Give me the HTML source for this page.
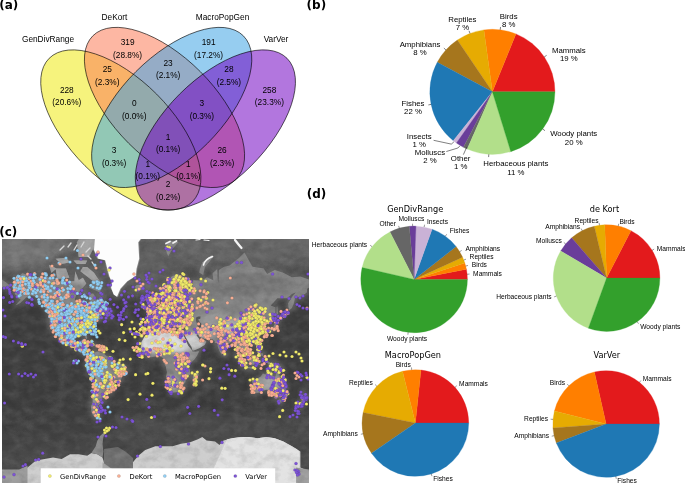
<!DOCTYPE html>
<html><head><meta charset="utf-8"><title>Figure</title>
<style>
html,body{margin:0;padding:0;background:#fff}
svg{display:block}
text{font-family:"Liberation Sans",sans-serif;fill:#000}
.dj{font-family:"DejaVu Sans",sans-serif}
.pl{font-family:"DejaVu Sans",sans-serif;font-weight:bold;font-size:12px}
</style></head><body>
<svg width="685" height="484" viewBox="0 0 685 484">
<rect width="685" height="484" fill="#fff"/>
<g id="venn">
<ellipse cx="120.81" cy="129.97" rx="50.66" ry="101.32" transform="rotate(-45 120.81 129.97)" fill="#efe913" fill-opacity="0.55"/>
<ellipse cx="164.50" cy="107.46" rx="50.66" ry="101.32" transform="rotate(-45 164.50 107.46)" fill="#fb7c58" fill-opacity="0.55"/>
<ellipse cx="171.70" cy="107.46" rx="50.66" ry="101.32" transform="rotate(45 171.70 107.46)" fill="#40a4e4" fill-opacity="0.55"/>
<ellipse cx="215.38" cy="129.97" rx="50.66" ry="101.32" transform="rotate(45 215.38 129.97)" fill="#7306c3" fill-opacity="0.55"/>
<ellipse cx="120.81" cy="129.97" rx="50.66" ry="101.32" transform="rotate(-45 120.81 129.97)" fill="none" stroke="#000" stroke-width="0.6"/>
<ellipse cx="164.50" cy="107.46" rx="50.66" ry="101.32" transform="rotate(-45 164.50 107.46)" fill="none" stroke="#000" stroke-width="0.6"/>
<ellipse cx="171.70" cy="107.46" rx="50.66" ry="101.32" transform="rotate(45 171.70 107.46)" fill="none" stroke="#000" stroke-width="0.6"/>
<ellipse cx="215.38" cy="129.97" rx="50.66" ry="101.32" transform="rotate(45 215.38 129.97)" fill="none" stroke="#000" stroke-width="0.6"/>
<text x="66.8" y="92.6" font-size="8.3" text-anchor="middle">228</text>
<text x="66.8" y="105.0" font-size="8.3" text-anchor="middle">(20.6%)</text>
<text x="127.6" y="45.3" font-size="8.3" text-anchor="middle">319</text>
<text x="127.6" y="57.7" font-size="8.3" text-anchor="middle">(28.8%)</text>
<text x="208.6" y="45.3" font-size="8.3" text-anchor="middle">191</text>
<text x="208.6" y="57.7" font-size="8.3" text-anchor="middle">(17.2%)</text>
<text x="269.4" y="92.6" font-size="8.3" text-anchor="middle">258</text>
<text x="269.4" y="105.0" font-size="8.3" text-anchor="middle">(23.3%)</text>
<text x="107.3" y="72.3" font-size="8.3" text-anchor="middle">25</text>
<text x="107.3" y="84.7" font-size="8.3" text-anchor="middle">(2.3%)</text>
<text x="168.1" y="65.6" font-size="8.3" text-anchor="middle">23</text>
<text x="168.1" y="78.0" font-size="8.3" text-anchor="middle">(2.1%)</text>
<text x="228.9" y="72.3" font-size="8.3" text-anchor="middle">28</text>
<text x="228.9" y="84.7" font-size="8.3" text-anchor="middle">(2.5%)</text>
<text x="114.1" y="153.4" font-size="8.3" text-anchor="middle">3</text>
<text x="114.1" y="165.8" font-size="8.3" text-anchor="middle">(0.3%)</text>
<text x="222.1" y="153.4" font-size="8.3" text-anchor="middle">26</text>
<text x="222.1" y="165.8" font-size="8.3" text-anchor="middle">(2.3%)</text>
<text x="168.1" y="187.2" font-size="8.3" text-anchor="middle">2</text>
<text x="168.1" y="199.6" font-size="8.3" text-anchor="middle">(0.2%)</text>
<text x="134.3" y="106.1" font-size="8.3" text-anchor="middle">0</text>
<text x="134.3" y="118.5" font-size="8.3" text-anchor="middle">(0.0%)</text>
<text x="201.9" y="106.1" font-size="8.3" text-anchor="middle">3</text>
<text x="201.9" y="118.5" font-size="8.3" text-anchor="middle">(0.3%)</text>
<text x="147.8" y="166.9" font-size="8.3" text-anchor="middle">1</text>
<text x="147.8" y="179.3" font-size="8.3" text-anchor="middle">(0.1%)</text>
<text x="188.4" y="166.9" font-size="8.3" text-anchor="middle">1</text>
<text x="188.4" y="179.3" font-size="8.3" text-anchor="middle">(0.1%)</text>
<text x="168.1" y="139.9" font-size="8.3" text-anchor="middle">1</text>
<text x="168.1" y="152.3" font-size="8.3" text-anchor="middle">(0.1%)</text>
<text x="48.0" y="42.0" font-size="8.3" text-anchor="middle">GenDivRange</text>
<text x="114.5" y="19.8" font-size="8.3" text-anchor="middle">DeKort</text>
<text x="222.5" y="19.8" font-size="8.3" text-anchor="middle">MacroPopGen</text>
<text x="276.0" y="42.0" font-size="8.3" text-anchor="middle">VarVer</text>
</g>
<text class="pl" x="-0.8" y="8.8">(a)</text>
<text class="pl" x="306.6" y="8.9">(b)</text>
<text class="pl" x="-0.8" y="235.5">(c)</text>
<text class="pl" x="306.8" y="197.6">(d)</text>
<g id="pieb" font-size="7.8">
<path d="M492.40 91.85 L554.95 91.85 A62.55 62.55 0 0 0 515.93 33.90 Z" fill="#e31a1c" stroke="#e31a1c" stroke-width="0.3"/>
<path d="M492.40 91.85 L515.93 33.90 A62.55 62.55 0 0 0 483.91 29.88 Z" fill="#ff7f00" stroke="#ff7f00" stroke-width="0.3"/>
<path d="M492.40 91.85 L483.91 29.88 A62.55 62.55 0 0 0 457.33 40.05 Z" fill="#e6ab02" stroke="#e6ab02" stroke-width="0.3"/>
<path d="M492.40 91.85 L457.33 40.05 A62.55 62.55 0 0 0 437.27 62.29 Z" fill="#a6761d" stroke="#a6761d" stroke-width="0.3"/>
<path d="M492.40 91.85 L437.27 62.29 A62.55 62.55 0 0 0 453.29 140.67 Z" fill="#1f78b4" stroke="#1f78b4" stroke-width="0.3"/>
<path d="M492.40 91.85 L453.29 140.67 A62.55 62.55 0 0 0 456.43 143.03 Z" fill="#cab2d6" stroke="#cab2d6" stroke-width="0.3"/>
<path d="M492.40 91.85 L456.43 143.03 A62.55 62.55 0 0 0 463.42 147.28 Z" fill="#6a3d9a" stroke="#6a3d9a" stroke-width="0.3"/>
<path d="M492.40 91.85 L463.42 147.28 A62.55 62.55 0 0 0 467.26 149.12 Z" fill="#666666" stroke="#666666" stroke-width="0.3"/>
<path d="M492.40 91.85 L467.26 149.12 A62.55 62.55 0 0 0 510.79 151.63 Z" fill="#b2df8a" stroke="#b2df8a" stroke-width="0.3"/>
<path d="M492.40 91.85 L510.79 151.63 A62.55 62.55 0 0 0 554.95 91.85 Z" fill="#33a02c" stroke="#33a02c" stroke-width="0.3"/>
<path d="M544.29 56.92 L546.61 55.35" stroke="#000" stroke-width="0.50" fill="none"/>
<path d="M500.19 29.79 L500.53 27.01" stroke="#000" stroke-width="0.50" fill="none"/>
<path d="M470.04 33.44 L469.03 30.82" stroke="#000" stroke-width="0.50" fill="none"/>
<path d="M445.95 49.96 L443.87 48.08" stroke="#000" stroke-width="0.50" fill="none"/>
<path d="M431.12 104.37 L428.37 104.93" stroke="#000" stroke-width="0.50" fill="none"/>
<path d="M488.80 154.30 L488.64 157.09" stroke="#000" stroke-width="0.50" fill="none"/>
<path d="M542.71 129.01 L544.97 130.68" stroke="#000" stroke-width="0.50" fill="none"/>
<path d="M433.60 140.30 L451.30 144.10 L453.90 141.90" stroke="#000" stroke-width="0.50" fill="none"/>
<path d="M446.30 151.50 L457.90 148.00 L460.00 145.80" stroke="#000" stroke-width="0.50" fill="none"/>
<path d="M463.40 154.60 L466.60 147.40" stroke="#000" stroke-width="0.50" fill="none"/>
<text x="568.8" y="52.5" text-anchor="middle">Mammals</text>
<text x="568.8" y="60.5" text-anchor="middle">19 %</text>
<text x="508.7" y="18.6" text-anchor="middle">Birds</text>
<text x="508.7" y="27.1" text-anchor="middle">8 %</text>
<text x="462.4" y="21.7" text-anchor="middle">Reptiles</text>
<text x="462.4" y="30.2" text-anchor="middle">7 %</text>
<text x="420.0" y="46.6" text-anchor="middle">Amphibians</text>
<text x="420.0" y="55.1" text-anchor="middle">8 %</text>
<text x="413.0" y="105.9" text-anchor="middle">Fishes</text>
<text x="413.0" y="113.9" text-anchor="middle">22 %</text>
<text x="419.2" y="139.3" text-anchor="middle">Insects</text>
<text x="419.2" y="147.3" text-anchor="middle">1 %</text>
<text x="429.9" y="155.3" text-anchor="middle">Molluscs</text>
<text x="429.9" y="163.3" text-anchor="middle">2 %</text>
<text x="460.6" y="161.1" text-anchor="middle">Other</text>
<text x="460.6" y="169.1" text-anchor="middle">1 %</text>
<text x="515.8" y="166.4" text-anchor="middle">Herbaceous plants</text>
<text x="515.8" y="174.5" text-anchor="middle">11 %</text>
<text x="573.7" y="136.2" text-anchor="middle">Woody plants</text>
<text x="573.7" y="145.1" text-anchor="middle">20 %</text>
</g>
<g id="pied" font-size="6.65">
<path d="M414.10 279.40 L467.40 279.40 A53.30 53.30 0 0 0 466.42 269.23 Z" fill="#e31a1c" stroke="#e31a1c" stroke-width="0.3"/>
<path d="M414.10 279.40 L466.42 269.23 A53.30 53.30 0 0 0 464.79 262.93 Z" fill="#ff7f00" stroke="#ff7f00" stroke-width="0.3"/>
<path d="M414.10 279.40 L464.79 262.93 A53.30 53.30 0 0 0 462.56 257.21 Z" fill="#e6ab02" stroke="#e6ab02" stroke-width="0.3"/>
<path d="M414.10 279.40 L462.56 257.21 A53.30 53.30 0 0 0 456.10 246.59 Z" fill="#a6761d" stroke="#a6761d" stroke-width="0.3"/>
<path d="M414.10 279.40 L456.10 246.59 A53.30 53.30 0 0 0 432.07 229.22 Z" fill="#1f78b4" stroke="#1f78b4" stroke-width="0.3"/>
<path d="M414.10 279.40 L432.07 229.22 A53.30 53.30 0 0 0 415.96 226.13 Z" fill="#cab2d6" stroke="#cab2d6" stroke-width="0.3"/>
<path d="M414.10 279.40 L415.96 226.13 A53.30 53.30 0 0 0 409.27 226.32 Z" fill="#6a3d9a" stroke="#6a3d9a" stroke-width="0.3"/>
<path d="M414.10 279.40 L409.27 226.32 A53.30 53.30 0 0 0 389.90 231.91 Z" fill="#666666" stroke="#666666" stroke-width="0.3"/>
<path d="M414.10 279.40 L389.90 231.91 A53.30 53.30 0 0 0 362.12 267.59 Z" fill="#b2df8a" stroke="#b2df8a" stroke-width="0.3"/>
<path d="M414.10 279.40 L362.12 267.59 A53.30 53.30 0 1 0 467.40 279.40 Z" fill="#33a02c" stroke="#33a02c" stroke-width="0.3"/>
<text class="dj" x="415.2" y="211.8" font-size="8.2" text-anchor="middle">GenDivRange</text>
<path d="M467.15 274.29 L469.54 274.06" stroke="#000" stroke-width="0.40" fill="none"/>
<path d="M465.70 266.05 L468.03 265.45" stroke="#000" stroke-width="0.40" fill="none"/>
<path d="M463.76 260.04 L466.00 259.17" stroke="#000" stroke-width="0.40" fill="none"/>
<path d="M459.64 251.71 L461.69 250.46" stroke="#000" stroke-width="0.40" fill="none"/>
<path d="M445.32 236.20 L446.72 234.25" stroke="#000" stroke-width="0.40" fill="none"/>
<path d="M424.13 227.05 L424.58 224.70" stroke="#000" stroke-width="0.40" fill="none"/>
<path d="M412.61 226.12 L412.54 223.72" stroke="#000" stroke-width="0.40" fill="none"/>
<path d="M399.32 228.19 L398.65 225.88" stroke="#000" stroke-width="0.40" fill="none"/>
<path d="M372.04 246.66 L370.15 245.18" stroke="#000" stroke-width="0.40" fill="none"/>
<path d="M408.16 332.37 L407.89 334.75" stroke="#000" stroke-width="0.40" fill="none"/>
<text x="411.4" y="221.0" text-anchor="middle">Molluscs</text>
<text x="396.0" y="225.8" text-anchor="end">Other</text>
<text x="427.0" y="223.9" text-anchor="start">Insects</text>
<text x="449.8" y="232.8" text-anchor="start">Fishes</text>
<text x="465.4" y="250.8" text-anchor="start">Amphibians</text>
<text x="469.6" y="259.1" text-anchor="start">Reptiles</text>
<text x="471.8" y="267.4" text-anchor="start">Birds</text>
<text x="473.1" y="276.4" text-anchor="start">Mammals</text>
<text x="367.2" y="246.6" text-anchor="end">Herbaceous plants</text>
<text x="407.0" y="340.7" text-anchor="middle">Woody plants</text>
<path d="M606.60 278.10 L659.90 278.10 A53.30 53.30 0 0 0 630.96 230.69 Z" fill="#e31a1c" stroke="#e31a1c" stroke-width="0.3"/>
<path d="M606.60 278.10 L630.96 230.69 A53.30 53.30 0 0 0 604.74 224.83 Z" fill="#ff7f00" stroke="#ff7f00" stroke-width="0.3"/>
<path d="M606.60 278.10 L604.74 224.83 A53.30 53.30 0 0 0 594.25 226.25 Z" fill="#e6ab02" stroke="#e6ab02" stroke-width="0.3"/>
<path d="M606.60 278.10 L594.25 226.25 A53.30 53.30 0 0 0 571.63 237.87 Z" fill="#a6761d" stroke="#a6761d" stroke-width="0.3"/>
<path d="M606.60 278.10 L571.63 237.87 A53.30 53.30 0 0 0 560.72 250.97 Z" fill="#6a3d9a" stroke="#6a3d9a" stroke-width="0.3"/>
<path d="M606.60 278.10 L560.72 250.97 A53.30 53.30 0 0 0 588.37 328.19 Z" fill="#b2df8a" stroke="#b2df8a" stroke-width="0.3"/>
<path d="M606.60 278.10 L588.37 328.19 A53.30 53.30 0 0 0 659.90 278.10 Z" fill="#33a02c" stroke="#33a02c" stroke-width="0.3"/>
<text class="dj" x="604.4" y="212.4" font-size="8.2" text-anchor="middle">de Kort</text>
<path d="M652.09 250.33 L654.14 249.08" stroke="#000" stroke-width="0.40" fill="none"/>
<path d="M618.23 226.08 L618.75 223.74" stroke="#000" stroke-width="0.40" fill="none"/>
<path d="M599.46 225.28 L599.14 222.90" stroke="#000" stroke-width="0.40" fill="none"/>
<path d="M582.24 230.69 L581.14 228.56" stroke="#000" stroke-width="0.40" fill="none"/>
<path d="M565.65 243.98 L563.81 242.45" stroke="#000" stroke-width="0.40" fill="none"/>
<path d="M556.42 296.07 L554.16 296.88" stroke="#000" stroke-width="0.40" fill="none"/>
<path d="M637.17 321.76 L638.55 323.73" stroke="#000" stroke-width="0.40" fill="none"/>
<text x="598.6" y="222.6" text-anchor="end">Reptiles</text>
<text x="619.4" y="224.2" text-anchor="start">Birds</text>
<text x="580.0" y="228.7" text-anchor="end">Amphibians</text>
<text x="561.8" y="243.4" text-anchor="end">Molluscs</text>
<text x="656.8" y="250.8" text-anchor="start">Mammals</text>
<text x="551.6" y="299.4" text-anchor="end">Herbaceous plants</text>
<text x="640.2" y="328.5" text-anchor="start">Woody plants</text>
<path d="M415.40 423.00 L468.70 423.00 A53.30 53.30 0 0 0 420.97 369.99 Z" fill="#e31a1c" stroke="#e31a1c" stroke-width="0.3"/>
<path d="M415.40 423.00 L420.97 369.99 A53.30 53.30 0 0 0 402.51 371.28 Z" fill="#ff7f00" stroke="#ff7f00" stroke-width="0.3"/>
<path d="M415.40 423.00 L402.51 371.28 A53.30 53.30 0 0 0 363.13 412.56 Z" fill="#e6ab02" stroke="#e6ab02" stroke-width="0.3"/>
<path d="M415.40 423.00 L363.13 412.56 A53.30 53.30 0 0 0 371.53 453.27 Z" fill="#a6761d" stroke="#a6761d" stroke-width="0.3"/>
<path d="M415.40 423.00 L371.53 453.27 A53.30 53.30 0 0 0 468.70 423.00 Z" fill="#1f78b4" stroke="#1f78b4" stroke-width="0.3"/>
<text class="dj" x="412.9" y="358.1" font-size="8.2" text-anchor="middle">MacroPopGen</text>
<path d="M455.01 387.34 L456.79 385.73" stroke="#000" stroke-width="0.40" fill="none"/>
<path d="M411.68 369.83 L411.51 367.44" stroke="#000" stroke-width="0.40" fill="none"/>
<path d="M376.83 386.21 L375.10 384.55" stroke="#000" stroke-width="0.40" fill="none"/>
<path d="M363.20 433.76 L360.85 434.25" stroke="#000" stroke-width="0.40" fill="none"/>
<path d="M431.25 473.89 L431.96 476.18" stroke="#000" stroke-width="0.40" fill="none"/>
<text x="410.8" y="367.4" text-anchor="end">Birds</text>
<text x="459.1" y="386.4" text-anchor="start">Mammals</text>
<text x="372.9" y="384.6" text-anchor="end">Reptiles</text>
<text x="357.8" y="436.3" text-anchor="end">Amphibians</text>
<text x="433.2" y="480.9" text-anchor="start">Fishes</text>
<path d="M606.10 424.00 L659.40 424.00 A53.30 53.30 0 0 0 594.38 372.00 Z" fill="#e31a1c" stroke="#e31a1c" stroke-width="0.3"/>
<path d="M606.10 424.00 L594.38 372.00 A53.30 53.30 0 0 0 554.43 410.93 Z" fill="#ff7f00" stroke="#ff7f00" stroke-width="0.3"/>
<path d="M606.10 424.00 L554.43 410.93 A53.30 53.30 0 0 0 552.95 428.00 Z" fill="#e6ab02" stroke="#e6ab02" stroke-width="0.3"/>
<path d="M606.10 424.00 L552.95 428.00 A53.30 53.30 0 0 0 556.34 443.10 Z" fill="#a6761d" stroke="#a6761d" stroke-width="0.3"/>
<path d="M606.10 424.00 L556.34 443.10 A53.30 53.30 0 0 0 659.40 424.00 Z" fill="#1f78b4" stroke="#1f78b4" stroke-width="0.3"/>
<text class="dj" x="606.8" y="358.1" font-size="8.2" text-anchor="middle">VarVer</text>
<path d="M639.39 382.37 L640.89 380.50" stroke="#000" stroke-width="0.40" fill="none"/>
<path d="M568.91 385.82 L567.23 384.10" stroke="#000" stroke-width="0.40" fill="none"/>
<path d="M553.00 419.40 L550.61 419.19" stroke="#000" stroke-width="0.40" fill="none"/>
<path d="M554.09 435.67 L551.75 436.20" stroke="#000" stroke-width="0.40" fill="none"/>
<path d="M615.81 476.41 L616.25 478.77" stroke="#000" stroke-width="0.40" fill="none"/>
<text x="642.8" y="380.6" text-anchor="start">Mammals</text>
<text x="565.0" y="384.6" text-anchor="end">Birds</text>
<text x="548.1" y="420.6" text-anchor="end">Reptiles</text>
<text x="549.0" y="438.4" text-anchor="end">Amphibians</text>
<text x="617.3" y="483.4" text-anchor="start">Fishes</text>
</g>
<defs><clipPath id="mc"><rect x="1.9" y="239.0" width="307.0" height="244.0"/></clipPath>
<filter id="b1" x="-5%" y="-5%" width="110%" height="110%"><feGaussianBlur stdDeviation="0.6"/></filter>
<filter id="b3" x="-30%" y="-30%" width="160%" height="160%"><feGaussianBlur stdDeviation="6"/></filter>
<filter id="tx" x="0" y="0" width="100%" height="100%"><feTurbulence type="fractalNoise" baseFrequency="0.09 0.12" numOctaves="4" seed="11"/><feColorMatrix type="matrix" values="0 0 0 0 1  0 0 0 0 1  0 0 0 0 1  1.6 0 0 0 -0.62"/></filter>
<filter id="tx2" x="0" y="0" width="100%" height="100%"><feTurbulence type="fractalNoise" baseFrequency="0.1 0.13" numOctaves="4" seed="5"/><feColorMatrix type="matrix" values="0 0 0 0 0  0 0 0 0 0  0 0 0 0 0  1.6 0 0 0 -0.62"/></filter>
<filter id="b2" x="-20%" y="-20%" width="140%" height="140%"><feGaussianBlur stdDeviation="2.2"/></filter>
<clipPath id="lc">
<path d="M12.1 286.7 L13.8 280.2 L22.4 273.2 L35.2 277.0 L46.2 276.5 L57.3 281.3 L63.3 281.3 L74.4 281.3 L75.2 271.3 L78.7 280.2 L82.9 277.8 L86.3 283.5 L81.2 289.7 L76.1 295.3 L74.8 299.5 L80.4 302.7 L85.5 305.0 L85.5 308.6 L88.0 310.0 L88.0 305.0 L89.7 300.3 L88.9 293.5 L93.1 293.5 L95.7 297.0 L95.7 299.5 L98.3 299.5 L100.4 296.5 L103.4 303.5 L107.6 308.6 L104.2 312.0 L99.1 312.0 L95.7 315.8 L100.0 313.9 L100.4 317.1 L103.4 317.1 L99.1 319.5 L95.7 320.1 L95.3 322.2 L92.3 323.5 L91.0 326.8 L90.6 329.5 L86.3 333.0 L87.2 337.9 L86.3 339.4 L84.9 336.5 L83.8 334.5 L79.1 334.5 L75.2 335.0 L72.4 337.5 L72.1 341.7 L73.5 344.9 L74.8 345.6 L77.8 345.1 L78.4 343.1 L81.2 342.6 L80.4 347.6 L84.2 348.3 L84.2 352.0 L85.5 353.7 L87.6 353.3 L89.5 354.1 L89.3 355.0 L87.2 355.2 L84.6 354.3 L82.5 352.8 L80.8 350.2 L77.4 349.3 L74.8 347.4 L71.0 346.9 L65.9 344.4 L65.4 341.7 L62.4 338.9 L59.5 335.5 L57.6 333.0 L59.9 337.5 L62.0 341.0 L59.9 338.4 L57.3 335.0 L55.6 332.0 L52.6 330.0 L51.4 327.4 L49.7 323.8 L49.7 317.1 L50.5 313.9 L47.1 311.3 L44.5 305.7 L41.1 300.3 L36.0 297.0 L30.9 295.3 L25.8 297.8 L20.7 302.7 L15.5 305.4 L20.7 299.5 L17.3 297.8 L14.7 293.5 L18.1 289.7 L14.7 288.7Z"/>
<path d="M87.2 267.0 L94.0 272.7 L97.4 277.8 L102.5 284.6 L100.0 292.6 L94.0 289.7 L88.9 287.7 L93.1 281.3 L87.2 276.5 L80.4 271.3 L82.9 267.0Z"/>
<path d="M55.6 268.5 L65.9 268.5 L69.3 277.8 L57.3 279.0Z"/>
<path d="M78.7 257.0 L88.9 257.0 L102.5 231.3 L87.2 224.8 L76.9 242.3Z"/>
<path d="M48.8 264.8 L56.5 268.5 L51.4 272.7Z"/>
<path d="M73.5 260.6 L87.2 260.6 L85.5 263.9 L76.9 263.9Z"/>
<path d="M55.6 258.8 L65.9 257.8 L70.1 262.3 L61.6 263.9Z"/>
<path d="M105.1 315.0 L107.6 310.0 L110.2 313.9 L110.2 316.2 L107.6 315.8Z"/>
<path d="M82.9 342.1 L87.2 341.2 L92.1 343.8 L89.3 344.1 L88.9 342.6 L85.5 341.9Z"/>
<path d="M92.0 345.4 L93.1 344.1 L97.0 345.1 L96.8 345.6 L94.4 346.0Z"/>
<path d="M93.1 249.1 L97.4 258.8 L104.2 258.8 L108.5 276.5 L111.9 281.3 L110.2 287.7 L114.5 295.3 L117.9 297.3 L121.3 288.7 L128.1 281.3 L136.6 276.0 L137.5 268.5 L140.1 258.8 L139.2 242.3 L145.2 234.3 L134.1 222.6 L117.0 228.1 L99.1 224.8 L94.9 238.7Z"/>
<path d="M89.5 354.1 L91.4 352.1 L94.0 351.1 L94.4 352.4 L97.4 351.5 L100.8 352.4 L102.5 352.2 L104.2 354.1 L106.8 356.3 L111.1 357.1 L112.8 360.5 L112.8 362.3 L117.9 363.5 L121.3 364.0 L123.9 365.7 L125.6 367.8 L123.9 371.3 L122.1 373.5 L122.1 377.0 L120.4 380.7 L117.5 381.8 L114.0 384.4 L113.9 386.8 L111.1 390.8 L109.4 393.0 L106.8 392.8 L105.7 392.3 L106.8 394.9 L106.2 396.7 L102.5 397.6 L102.1 399.8 L100.0 399.8 L101.1 401.9 L99.5 404.5 L97.8 405.7 L99.3 407.6 L96.6 411.5 L97.2 414.2 L99.5 417.5 L96.6 418.6 L94.0 416.4 L91.4 412.2 L91.0 407.0 L92.7 402.1 L92.6 395.4 L94.4 389.3 L95.3 382.5 L95.5 377.3 L90.6 373.5 L88.0 368.3 L86.1 365.7 L87.2 363.5 L86.5 362.3 L88.0 360.1 L89.3 358.0 L89.3 355.4Z"/>
<path d="M140.5 348.7 L141.3 344.4 L140.9 343.1 L144.3 337.0 L147.1 334.5 L147.3 332.0 L150.3 328.6 L153.7 329.3 L158.0 327.6 L163.9 327.0 L164.8 330.5 L164.2 330.8 L168.2 332.2 L172.5 333.7 L172.5 331.8 L176.7 332.8 L182.7 333.3 L184.7 333.2 L183.2 334.6 L185.7 340.3 L187.2 343.5 L188.2 345.8 L192.2 350.5 L192.3 351.5 L195.5 351.8 L199.1 351.3 L197.2 355.4 L194.6 359.3 L190.8 362.9 L188.8 366.5 L189.9 370.4 L190.0 374.4 L186.1 377.9 L185.3 382.5 L183.4 384.4 L183.1 386.8 L181.4 389.3 L178.4 392.0 L174.2 392.5 L171.0 392.6 L170.6 390.8 L168.2 384.9 L166.1 377.0 L166.9 372.2 L165.6 366.1 L163.3 362.3 L163.5 358.4 L162.2 357.6 L159.2 356.0 L156.3 356.3 L152.8 357.1 L149.0 357.6 L144.7 355.0 L142.6 352.2Z"/>
<path d="M197.4 371.7 L198.5 374.8 L195.9 383.3 L193.8 383.9 L192.5 380.7 L193.2 376.1 L195.5 374.4Z"/>
<path d="M147.3 325.5 L147.9 320.4 L153.9 320.2 L154.4 317.1 L151.4 314.1 L154.1 313.7 L155.6 312.6 L156.8 310.8 L158.8 309.3 L159.7 307.4 L162.7 306.7 L162.5 301.9 L164.4 300.8 L164.4 304.2 L166.1 306.0 L167.6 306.4 L171.2 305.4 L173.3 304.2 L173.5 301.9 L176.1 301.1 L175.4 298.2 L179.3 297.7 L181.0 297.0 L176.7 296.7 L174.6 297.0 L173.6 295.3 L173.7 291.6 L177.0 287.5 L174.2 286.3 L173.3 289.7 L170.3 293.5 L170.1 295.8 L171.4 297.3 L169.5 301.1 L169.0 303.1 L167.6 304.2 L166.3 304.2 L165.0 299.5 L164.4 297.8 L162.2 300.2 L160.1 298.7 L159.7 293.5 L162.7 290.3 L165.6 286.7 L167.8 281.3 L171.6 276.5 L177.3 274.0 L181.8 275.8 L183.5 277.8 L190.4 283.1 L189.5 285.7 L184.8 284.6 L183.5 284.2 L185.3 289.1 L187.4 290.1 L189.5 288.5 L192.9 285.3 L193.1 280.2 L201.5 280.6 L207.0 277.3 L213.4 280.2 L212.5 273.2 L217.2 269.0 L217.7 280.2 L218.5 283.5 L218.9 269.9 L224.1 266.7 L229.6 265.4 L239.0 258.1 L244.4 252.5 L251.8 265.4 L252.6 266.7 L263.7 268.5 L267.1 274.0 L274.8 269.9 L283.3 272.7 L291.9 277.3 L300.4 276.5 L308.9 279.4 L308.9 287.7 L307.2 288.7 L306.8 292.6 L300.8 297.0 L295.3 297.3 L294.4 300.6 L294.0 303.1 L291.9 307.9 L289.1 310.6 L288.0 303.5 L292.7 296.1 L295.7 292.6 L291.9 294.0 L287.6 298.2 L277.4 298.2 L270.8 305.4 L275.6 307.4 L275.2 313.9 L270.5 320.3 L267.8 320.7 L266.0 322.4 L264.1 324.3 L265.7 327.4 L265.7 329.2 L263.1 330.0 L263.5 326.6 L262.0 324.5 L259.0 325.2 L259.4 323.3 L256.0 325.0 L256.9 326.8 L259.9 327.2 L257.1 329.5 L259.3 333.0 L259.3 335.0 L257.3 338.9 L254.8 341.2 L252.2 341.9 L249.5 342.8 L247.5 342.5 L245.6 344.9 L248.2 348.2 L248.6 351.1 L246.5 352.4 L244.9 353.9 L244.8 352.6 L242.8 350.9 L241.5 349.9 L240.1 353.3 L241.1 355.4 L243.6 358.0 L244.3 360.2 L241.8 359.0 L240.9 356.3 L239.2 354.4 L239.5 351.1 L238.6 347.1 L235.8 347.6 L235.8 344.9 L233.9 342.4 L232.6 341.7 L230.5 342.4 L229.4 343.3 L227.9 344.4 L223.8 348.0 L223.9 350.2 L223.5 352.6 L221.9 354.3 L221.5 354.5 L220.4 352.8 L219.2 350.2 L217.7 346.2 L217.5 343.1 L215.8 343.2 L214.2 341.9 L215.4 341.2 L213.0 340.3 L212.1 339.0 L207.9 339.2 L204.3 338.8 L203.4 337.4 L201.9 337.8 L199.3 336.6 L198.0 334.3 L196.8 334.5 L196.3 335.0 L198.2 337.7 L199.3 339.1 L199.2 340.0 L201.5 340.1 L203.4 338.2 L203.7 339.8 L205.5 340.7 L206.4 341.7 L204.7 344.9 L202.5 346.2 L199.9 347.9 L196.9 349.3 L193.8 350.4 L192.5 350.5 L191.8 348.0 L191.6 347.1 L188.7 342.6 L187.1 339.4 L185.3 336.5 L185.2 335.0 L184.7 333.2 L185.3 331.5 L185.9 329.5 L186.1 327.6 L183.5 328.3 L181.5 327.6 L179.3 327.7 L177.8 326.0 L177.7 324.1 L177.6 323.2 L175.7 323.9 L174.8 323.5 L175.0 324.9 L175.9 326.3 L175.0 327.9 L173.7 327.4 L173.3 325.7 L172.0 323.8 L172.0 322.1 L169.5 320.3 L167.8 318.1 L167.1 317.6 L165.9 317.9 L166.1 319.5 L167.3 321.5 L169.0 322.1 L171.2 323.9 L169.9 323.6 L169.5 324.6 L169.9 325.2 L169.0 326.3 L168.8 324.1 L167.6 323.2 L165.9 322.1 L164.4 320.7 L162.9 319.0 L161.8 319.7 L159.7 320.2 L158.1 320.4 L158.1 321.9 L155.8 323.5 L155.1 324.8 L155.4 325.5 L154.8 326.5 L153.5 327.6 L150.9 328.3 L150.0 327.7 L149.1 327.2 L147.8 327.4Z"/>
<path d="M1.9 279.4 L6.2 282.4 L10.4 285.7 L8.3 288.7 L3.6 286.7 L1.9 287.7Z"/>
<path d="M150.7 311.8 L156.5 310.4 L156.9 308.3 L155.7 307.9 L155.2 305.7 L154.0 303.9 L153.7 300.8 L152.4 299.3 L151.1 299.3 L150.3 302.7 L151.3 305.3 L152.8 306.4 L151.6 307.4 L151.8 308.8 L151.0 309.5 L152.8 310.1Z"/>
<path d="M146.9 309.7 L150.1 309.0 L150.3 306.4 L150.6 305.3 L149.0 304.5 L146.9 306.1Z"/>
<path d="M134.9 286.7 L136.6 289.7 L139.2 290.7 L143.0 288.7 L143.5 285.7 L141.3 284.8 L136.6 285.0Z"/>
<path d="M164.8 247.0 L168.2 256.3 L172.5 249.1 L178.4 242.3 L170.8 240.8Z"/>
<path d="M199.3 272.7 L203.2 275.0 L204.9 267.0 L213.4 257.0 L211.7 255.2 L202.3 262.3 L199.7 269.9Z"/>
<path d="M266.4 333.2 L267.5 331.0 L267.0 330.5 L268.4 329.1 L271.4 328.4 L272.2 327.0 L273.5 326.8 L274.8 324.1 L274.8 322.5 L276.1 322.6 L276.5 324.6 L275.6 326.3 L275.5 328.7 L274.6 329.5 L272.2 329.9 L271.2 331.0 L270.5 330.0 L268.0 330.7 L267.8 332.5Z"/>
<path d="M274.8 322.1 L275.1 320.4 L276.2 317.8 L279.3 319.7 L277.5 321.8 L275.6 321.3Z"/>
<path d="M276.5 317.1 L277.8 312.9 L277.4 306.4 L276.5 307.1 L276.5 312.0Z"/>
<path d="M257.9 341.2 L259.0 339.2 L259.3 340.3 L258.4 342.1Z"/>
<path d="M236.7 356.6 L239.0 358.0 L243.7 362.3 L245.8 364.2 L245.6 366.4 L244.1 366.1 L241.5 363.8 L239.4 360.5Z"/>
<path d="M245.2 367.2 L247.9 367.0 L250.1 367.0 L253.0 368.0 L253.0 368.9 L247.5 368.1Z"/>
<path d="M248.4 360.1 L250.3 359.2 L252.2 357.8 L255.0 355.4 L256.9 357.0 L256.0 360.1 L255.6 361.0 L254.6 364.6 L253.0 364.8 L250.5 364.2 L249.2 362.7Z"/>
<path d="M257.3 366.1 L256.9 364.0 L257.7 360.7 L262.0 360.1 L258.6 361.4 L260.3 362.3 L259.0 363.1 L260.3 365.2 L258.2 364.0 L258.1 366.1Z"/>
<path d="M267.1 362.1 L269.7 362.1 L270.5 364.2 L273.1 362.9 L275.6 363.6 L279.1 365.1 L281.2 366.5 L279.9 368.3 L283.8 370.4 L280.8 369.5 L277.8 368.4 L276.5 369.2 L273.5 368.4 L273.1 366.1 L268.8 364.8 L268.0 363.8Z"/>
<path d="M258.0 347.6 L258.3 345.3 L259.6 345.4 L259.4 347.6 L261.2 350.2 L259.0 349.5Z"/>
<path d="M259.4 355.4 L260.7 354.0 L262.4 353.0 L263.3 355.2 L262.3 356.6 L261.2 355.8Z"/>
<path d="M223.5 354.5 L223.8 353.0 L225.2 355.0 L224.5 356.2 L223.6 356.2Z"/>
<path d="M252.2 380.7 L252.8 384.4 L253.5 388.8 L253.9 392.0 L253.5 392.6 L256.0 393.3 L260.7 392.2 L262.9 390.6 L267.1 389.8 L269.7 391.1 L271.2 393.1 L272.9 391.3 L273.3 393.3 L274.8 396.3 L277.8 397.4 L280.2 397.6 L283.2 396.0 L284.4 391.8 L285.9 388.3 L286.1 385.3 L284.2 382.0 L282.3 379.1 L280.1 377.8 L279.3 374.4 L276.9 370.6 L276.1 372.6 L275.6 376.6 L274.4 376.6 L271.4 374.8 L271.8 371.7 L268.4 371.3 L266.3 372.6 L265.4 374.4 L262.9 373.5 L260.7 376.4 L259.6 377.2 L256.9 378.8 L252.6 380.7Z"/>
<path d="M278.8 399.5 L281.8 399.7 L281.6 402.4 L279.9 402.8 L279.2 401.2Z"/>
<path d="M302.7 392.8 L304.5 395.2 L307.6 396.2 L306.3 397.9 L304.9 400.5 L303.8 397.9 L304.4 396.5Z"/>
<path d="M302.7 399.3 L304.0 400.6 L302.8 402.9 L301.0 405.6 L299.1 406.5 L297.4 405.5 L298.9 403.3 L301.2 401.5Z"/>
</clipPath>
<linearGradient id="arc" x1="0" y1="0" x2="0" y2="1"><stop offset="0" stop-color="#787878"/><stop offset="0.5" stop-color="#5c5c5c" stop-opacity="0.8"/><stop offset="1" stop-color="#404040" stop-opacity="0"/></linearGradient>
<linearGradient id="sou" x1="0" y1="0" x2="0" y2="1"><stop offset="0" stop-color="#404040" stop-opacity="0"/><stop offset="0.6" stop-color="#484848"/><stop offset="1" stop-color="#505050"/></linearGradient>
</defs>
<g id="map" clip-path="url(#mc)">
<rect x="0" y="230" width="320" height="254" fill="#3e3e3e"/>
<rect x="0" y="236" width="320" height="62" fill="url(#arc)"/>
<ellipse cx="240" cy="238" rx="75" ry="26" fill="#666" filter="url(#b3)"/>
<ellipse cx="20" cy="240" rx="50" ry="30" fill="#747474" filter="url(#b3)"/>
<ellipse cx="145" cy="268" rx="34" ry="30" fill="#5e5e5e" filter="url(#b3)"/>
<rect x="115" y="418" width="200" height="40" fill="#5a5a5a" filter="url(#b3)"/>
<ellipse cx="85" cy="280" rx="30" ry="30" fill="#5c5c5c" filter="url(#b3)"/>
<rect x="0" y="395" width="320" height="95" fill="url(#sou)"/>
<g filter="url(#b2)" fill="none" stroke="#606060" stroke-width="5" stroke-linejoin="round">
<path d="M12.1 286.7 L13.8 280.2 L22.4 273.2 L35.2 277.0 L46.2 276.5 L57.3 281.3 L63.3 281.3 L74.4 281.3 L75.2 271.3 L78.7 280.2 L82.9 277.8 L86.3 283.5 L81.2 289.7 L76.1 295.3 L74.8 299.5 L80.4 302.7 L85.5 305.0 L85.5 308.6 L88.0 310.0 L88.0 305.0 L89.7 300.3 L88.9 293.5 L93.1 293.5 L95.7 297.0 L95.7 299.5 L98.3 299.5 L100.4 296.5 L103.4 303.5 L107.6 308.6 L104.2 312.0 L99.1 312.0 L95.7 315.8 L100.0 313.9 L100.4 317.1 L103.4 317.1 L99.1 319.5 L95.7 320.1 L95.3 322.2 L92.3 323.5 L91.0 326.8 L90.6 329.5 L86.3 333.0 L87.2 337.9 L86.3 339.4 L84.9 336.5 L83.8 334.5 L79.1 334.5 L75.2 335.0 L72.4 337.5 L72.1 341.7 L73.5 344.9 L74.8 345.6 L77.8 345.1 L78.4 343.1 L81.2 342.6 L80.4 347.6 L84.2 348.3 L84.2 352.0 L85.5 353.7 L87.6 353.3 L89.5 354.1 L89.3 355.0 L87.2 355.2 L84.6 354.3 L82.5 352.8 L80.8 350.2 L77.4 349.3 L74.8 347.4 L71.0 346.9 L65.9 344.4 L65.4 341.7 L62.4 338.9 L59.5 335.5 L57.6 333.0 L59.9 337.5 L62.0 341.0 L59.9 338.4 L57.3 335.0 L55.6 332.0 L52.6 330.0 L51.4 327.4 L49.7 323.8 L49.7 317.1 L50.5 313.9 L47.1 311.3 L44.5 305.7 L41.1 300.3 L36.0 297.0 L30.9 295.3 L25.8 297.8 L20.7 302.7 L15.5 305.4 L20.7 299.5 L17.3 297.8 L14.7 293.5 L18.1 289.7 L14.7 288.7Z"/>
<path d="M87.2 267.0 L94.0 272.7 L97.4 277.8 L102.5 284.6 L100.0 292.6 L94.0 289.7 L88.9 287.7 L93.1 281.3 L87.2 276.5 L80.4 271.3 L82.9 267.0Z"/>
<path d="M55.6 268.5 L65.9 268.5 L69.3 277.8 L57.3 279.0Z"/>
<path d="M78.7 257.0 L88.9 257.0 L102.5 231.3 L87.2 224.8 L76.9 242.3Z"/>
<path d="M48.8 264.8 L56.5 268.5 L51.4 272.7Z"/>
<path d="M73.5 260.6 L87.2 260.6 L85.5 263.9 L76.9 263.9Z"/>
<path d="M55.6 258.8 L65.9 257.8 L70.1 262.3 L61.6 263.9Z"/>
<path d="M105.1 315.0 L107.6 310.0 L110.2 313.9 L110.2 316.2 L107.6 315.8Z"/>
<path d="M82.9 342.1 L87.2 341.2 L92.1 343.8 L89.3 344.1 L88.9 342.6 L85.5 341.9Z"/>
<path d="M92.0 345.4 L93.1 344.1 L97.0 345.1 L96.8 345.6 L94.4 346.0Z"/>
<path d="M93.1 249.1 L97.4 258.8 L104.2 258.8 L108.5 276.5 L111.9 281.3 L110.2 287.7 L114.5 295.3 L117.9 297.3 L121.3 288.7 L128.1 281.3 L136.6 276.0 L137.5 268.5 L140.1 258.8 L139.2 242.3 L145.2 234.3 L134.1 222.6 L117.0 228.1 L99.1 224.8 L94.9 238.7Z"/>
<path d="M89.5 354.1 L91.4 352.1 L94.0 351.1 L94.4 352.4 L97.4 351.5 L100.8 352.4 L102.5 352.2 L104.2 354.1 L106.8 356.3 L111.1 357.1 L112.8 360.5 L112.8 362.3 L117.9 363.5 L121.3 364.0 L123.9 365.7 L125.6 367.8 L123.9 371.3 L122.1 373.5 L122.1 377.0 L120.4 380.7 L117.5 381.8 L114.0 384.4 L113.9 386.8 L111.1 390.8 L109.4 393.0 L106.8 392.8 L105.7 392.3 L106.8 394.9 L106.2 396.7 L102.5 397.6 L102.1 399.8 L100.0 399.8 L101.1 401.9 L99.5 404.5 L97.8 405.7 L99.3 407.6 L96.6 411.5 L97.2 414.2 L99.5 417.5 L96.6 418.6 L94.0 416.4 L91.4 412.2 L91.0 407.0 L92.7 402.1 L92.6 395.4 L94.4 389.3 L95.3 382.5 L95.5 377.3 L90.6 373.5 L88.0 368.3 L86.1 365.7 L87.2 363.5 L86.5 362.3 L88.0 360.1 L89.3 358.0 L89.3 355.4Z"/>
<path d="M140.5 348.7 L141.3 344.4 L140.9 343.1 L144.3 337.0 L147.1 334.5 L147.3 332.0 L150.3 328.6 L153.7 329.3 L158.0 327.6 L163.9 327.0 L164.8 330.5 L164.2 330.8 L168.2 332.2 L172.5 333.7 L172.5 331.8 L176.7 332.8 L182.7 333.3 L184.7 333.2 L183.2 334.6 L185.7 340.3 L187.2 343.5 L188.2 345.8 L192.2 350.5 L192.3 351.5 L195.5 351.8 L199.1 351.3 L197.2 355.4 L194.6 359.3 L190.8 362.9 L188.8 366.5 L189.9 370.4 L190.0 374.4 L186.1 377.9 L185.3 382.5 L183.4 384.4 L183.1 386.8 L181.4 389.3 L178.4 392.0 L174.2 392.5 L171.0 392.6 L170.6 390.8 L168.2 384.9 L166.1 377.0 L166.9 372.2 L165.6 366.1 L163.3 362.3 L163.5 358.4 L162.2 357.6 L159.2 356.0 L156.3 356.3 L152.8 357.1 L149.0 357.6 L144.7 355.0 L142.6 352.2Z"/>
<path d="M197.4 371.7 L198.5 374.8 L195.9 383.3 L193.8 383.9 L192.5 380.7 L193.2 376.1 L195.5 374.4Z"/>
<path d="M147.3 325.5 L147.9 320.4 L153.9 320.2 L154.4 317.1 L151.4 314.1 L154.1 313.7 L155.6 312.6 L156.8 310.8 L158.8 309.3 L159.7 307.4 L162.7 306.7 L162.5 301.9 L164.4 300.8 L164.4 304.2 L166.1 306.0 L167.6 306.4 L171.2 305.4 L173.3 304.2 L173.5 301.9 L176.1 301.1 L175.4 298.2 L179.3 297.7 L181.0 297.0 L176.7 296.7 L174.6 297.0 L173.6 295.3 L173.7 291.6 L177.0 287.5 L174.2 286.3 L173.3 289.7 L170.3 293.5 L170.1 295.8 L171.4 297.3 L169.5 301.1 L169.0 303.1 L167.6 304.2 L166.3 304.2 L165.0 299.5 L164.4 297.8 L162.2 300.2 L160.1 298.7 L159.7 293.5 L162.7 290.3 L165.6 286.7 L167.8 281.3 L171.6 276.5 L177.3 274.0 L181.8 275.8 L183.5 277.8 L190.4 283.1 L189.5 285.7 L184.8 284.6 L183.5 284.2 L185.3 289.1 L187.4 290.1 L189.5 288.5 L192.9 285.3 L193.1 280.2 L201.5 280.6 L207.0 277.3 L213.4 280.2 L212.5 273.2 L217.2 269.0 L217.7 280.2 L218.5 283.5 L218.9 269.9 L224.1 266.7 L229.6 265.4 L239.0 258.1 L244.4 252.5 L251.8 265.4 L252.6 266.7 L263.7 268.5 L267.1 274.0 L274.8 269.9 L283.3 272.7 L291.9 277.3 L300.4 276.5 L308.9 279.4 L308.9 287.7 L307.2 288.7 L306.8 292.6 L300.8 297.0 L295.3 297.3 L294.4 300.6 L294.0 303.1 L291.9 307.9 L289.1 310.6 L288.0 303.5 L292.7 296.1 L295.7 292.6 L291.9 294.0 L287.6 298.2 L277.4 298.2 L270.8 305.4 L275.6 307.4 L275.2 313.9 L270.5 320.3 L267.8 320.7 L266.0 322.4 L264.1 324.3 L265.7 327.4 L265.7 329.2 L263.1 330.0 L263.5 326.6 L262.0 324.5 L259.0 325.2 L259.4 323.3 L256.0 325.0 L256.9 326.8 L259.9 327.2 L257.1 329.5 L259.3 333.0 L259.3 335.0 L257.3 338.9 L254.8 341.2 L252.2 341.9 L249.5 342.8 L247.5 342.5 L245.6 344.9 L248.2 348.2 L248.6 351.1 L246.5 352.4 L244.9 353.9 L244.8 352.6 L242.8 350.9 L241.5 349.9 L240.1 353.3 L241.1 355.4 L243.6 358.0 L244.3 360.2 L241.8 359.0 L240.9 356.3 L239.2 354.4 L239.5 351.1 L238.6 347.1 L235.8 347.6 L235.8 344.9 L233.9 342.4 L232.6 341.7 L230.5 342.4 L229.4 343.3 L227.9 344.4 L223.8 348.0 L223.9 350.2 L223.5 352.6 L221.9 354.3 L221.5 354.5 L220.4 352.8 L219.2 350.2 L217.7 346.2 L217.5 343.1 L215.8 343.2 L214.2 341.9 L215.4 341.2 L213.0 340.3 L212.1 339.0 L207.9 339.2 L204.3 338.8 L203.4 337.4 L201.9 337.8 L199.3 336.6 L198.0 334.3 L196.8 334.5 L196.3 335.0 L198.2 337.7 L199.3 339.1 L199.2 340.0 L201.5 340.1 L203.4 338.2 L203.7 339.8 L205.5 340.7 L206.4 341.7 L204.7 344.9 L202.5 346.2 L199.9 347.9 L196.9 349.3 L193.8 350.4 L192.5 350.5 L191.8 348.0 L191.6 347.1 L188.7 342.6 L187.1 339.4 L185.3 336.5 L185.2 335.0 L184.7 333.2 L185.3 331.5 L185.9 329.5 L186.1 327.6 L183.5 328.3 L181.5 327.6 L179.3 327.7 L177.8 326.0 L177.7 324.1 L177.6 323.2 L175.7 323.9 L174.8 323.5 L175.0 324.9 L175.9 326.3 L175.0 327.9 L173.7 327.4 L173.3 325.7 L172.0 323.8 L172.0 322.1 L169.5 320.3 L167.8 318.1 L167.1 317.6 L165.9 317.9 L166.1 319.5 L167.3 321.5 L169.0 322.1 L171.2 323.9 L169.9 323.6 L169.5 324.6 L169.9 325.2 L169.0 326.3 L168.8 324.1 L167.6 323.2 L165.9 322.1 L164.4 320.7 L162.9 319.0 L161.8 319.7 L159.7 320.2 L158.1 320.4 L158.1 321.9 L155.8 323.5 L155.1 324.8 L155.4 325.5 L154.8 326.5 L153.5 327.6 L150.9 328.3 L150.0 327.7 L149.1 327.2 L147.8 327.4Z"/>
<path d="M1.9 279.4 L6.2 282.4 L10.4 285.7 L8.3 288.7 L3.6 286.7 L1.9 287.7Z"/>
<path d="M150.7 311.8 L156.5 310.4 L156.9 308.3 L155.7 307.9 L155.2 305.7 L154.0 303.9 L153.7 300.8 L152.4 299.3 L151.1 299.3 L150.3 302.7 L151.3 305.3 L152.8 306.4 L151.6 307.4 L151.8 308.8 L151.0 309.5 L152.8 310.1Z"/>
<path d="M146.9 309.7 L150.1 309.0 L150.3 306.4 L150.6 305.3 L149.0 304.5 L146.9 306.1Z"/>
<path d="M134.9 286.7 L136.6 289.7 L139.2 290.7 L143.0 288.7 L143.5 285.7 L141.3 284.8 L136.6 285.0Z"/>
<path d="M164.8 247.0 L168.2 256.3 L172.5 249.1 L178.4 242.3 L170.8 240.8Z"/>
<path d="M199.3 272.7 L203.2 275.0 L204.9 267.0 L213.4 257.0 L211.7 255.2 L202.3 262.3 L199.7 269.9Z"/>
<path d="M266.4 333.2 L267.5 331.0 L267.0 330.5 L268.4 329.1 L271.4 328.4 L272.2 327.0 L273.5 326.8 L274.8 324.1 L274.8 322.5 L276.1 322.6 L276.5 324.6 L275.6 326.3 L275.5 328.7 L274.6 329.5 L272.2 329.9 L271.2 331.0 L270.5 330.0 L268.0 330.7 L267.8 332.5Z"/>
<path d="M274.8 322.1 L275.1 320.4 L276.2 317.8 L279.3 319.7 L277.5 321.8 L275.6 321.3Z"/>
<path d="M276.5 317.1 L277.8 312.9 L277.4 306.4 L276.5 307.1 L276.5 312.0Z"/>
<path d="M257.9 341.2 L259.0 339.2 L259.3 340.3 L258.4 342.1Z"/>
<path d="M236.7 356.6 L239.0 358.0 L243.7 362.3 L245.8 364.2 L245.6 366.4 L244.1 366.1 L241.5 363.8 L239.4 360.5Z"/>
<path d="M245.2 367.2 L247.9 367.0 L250.1 367.0 L253.0 368.0 L253.0 368.9 L247.5 368.1Z"/>
<path d="M248.4 360.1 L250.3 359.2 L252.2 357.8 L255.0 355.4 L256.9 357.0 L256.0 360.1 L255.6 361.0 L254.6 364.6 L253.0 364.8 L250.5 364.2 L249.2 362.7Z"/>
<path d="M257.3 366.1 L256.9 364.0 L257.7 360.7 L262.0 360.1 L258.6 361.4 L260.3 362.3 L259.0 363.1 L260.3 365.2 L258.2 364.0 L258.1 366.1Z"/>
<path d="M267.1 362.1 L269.7 362.1 L270.5 364.2 L273.1 362.9 L275.6 363.6 L279.1 365.1 L281.2 366.5 L279.9 368.3 L283.8 370.4 L280.8 369.5 L277.8 368.4 L276.5 369.2 L273.5 368.4 L273.1 366.1 L268.8 364.8 L268.0 363.8Z"/>
<path d="M258.0 347.6 L258.3 345.3 L259.6 345.4 L259.4 347.6 L261.2 350.2 L259.0 349.5Z"/>
<path d="M259.4 355.4 L260.7 354.0 L262.4 353.0 L263.3 355.2 L262.3 356.6 L261.2 355.8Z"/>
<path d="M223.5 354.5 L223.8 353.0 L225.2 355.0 L224.5 356.2 L223.6 356.2Z"/>
<path d="M252.2 380.7 L252.8 384.4 L253.5 388.8 L253.9 392.0 L253.5 392.6 L256.0 393.3 L260.7 392.2 L262.9 390.6 L267.1 389.8 L269.7 391.1 L271.2 393.1 L272.9 391.3 L273.3 393.3 L274.8 396.3 L277.8 397.4 L280.2 397.6 L283.2 396.0 L284.4 391.8 L285.9 388.3 L286.1 385.3 L284.2 382.0 L282.3 379.1 L280.1 377.8 L279.3 374.4 L276.9 370.6 L276.1 372.6 L275.6 376.6 L274.4 376.6 L271.4 374.8 L271.8 371.7 L268.4 371.3 L266.3 372.6 L265.4 374.4 L262.9 373.5 L260.7 376.4 L259.6 377.2 L256.9 378.8 L252.6 380.7Z"/>
<path d="M278.8 399.5 L281.8 399.7 L281.6 402.4 L279.9 402.8 L279.2 401.2Z"/>
<path d="M302.7 392.8 L304.5 395.2 L307.6 396.2 L306.3 397.9 L304.9 400.5 L303.8 397.9 L304.4 396.5Z"/>
<path d="M302.7 399.3 L304.0 400.6 L302.8 402.9 L301.0 405.6 L299.1 406.5 L297.4 405.5 L298.9 403.3 L301.2 401.5Z"/>
</g>
<g filter="url(#b2)" fill="none" stroke="#484848" stroke-width="4" stroke-linecap="round">
<path d="M129.8 297.0 L127.3 312.0 L129.8 324.1 L118.7 336.5 L117.0 348.4 L129.8 358.8 L142.6 364.0 L144.3 378.8 L142.6 398.7 L151.1 413.5 L172.5 414.9 L193.8 398.7 L210.8 383.4 L213.4 365.7 L206.6 357.1"/>
<path d="M210.8 383.4 L221.9 398.7 L240.7 408.2 L266.3 413.5 L291.9 425.8"/>
<path d="M10.4 429.3 L44.5 417.8 L59.9 404.5 L61.6 378.8 L66.7 361.4 L65.9 348.4"/>
<path d="M61.6 388.3 L78.7 396.5 L88.9 404.5"/>
</g>
<g filter="url(#b1)">
<path d="M12.1 286.7 L13.8 280.2 L22.4 273.2 L35.2 277.0 L46.2 276.5 L57.3 281.3 L63.3 281.3 L74.4 281.3 L75.2 271.3 L78.7 280.2 L82.9 277.8 L86.3 283.5 L81.2 289.7 L76.1 295.3 L74.8 299.5 L80.4 302.7 L85.5 305.0 L85.5 308.6 L88.0 310.0 L88.0 305.0 L89.7 300.3 L88.9 293.5 L93.1 293.5 L95.7 297.0 L95.7 299.5 L98.3 299.5 L100.4 296.5 L103.4 303.5 L107.6 308.6 L104.2 312.0 L99.1 312.0 L95.7 315.8 L100.0 313.9 L100.4 317.1 L103.4 317.1 L99.1 319.5 L95.7 320.1 L95.3 322.2 L92.3 323.5 L91.0 326.8 L90.6 329.5 L86.3 333.0 L87.2 337.9 L86.3 339.4 L84.9 336.5 L83.8 334.5 L79.1 334.5 L75.2 335.0 L72.4 337.5 L72.1 341.7 L73.5 344.9 L74.8 345.6 L77.8 345.1 L78.4 343.1 L81.2 342.6 L80.4 347.6 L84.2 348.3 L84.2 352.0 L85.5 353.7 L87.6 353.3 L89.5 354.1 L89.3 355.0 L87.2 355.2 L84.6 354.3 L82.5 352.8 L80.8 350.2 L77.4 349.3 L74.8 347.4 L71.0 346.9 L65.9 344.4 L65.4 341.7 L62.4 338.9 L59.5 335.5 L57.6 333.0 L59.9 337.5 L62.0 341.0 L59.9 338.4 L57.3 335.0 L55.6 332.0 L52.6 330.0 L51.4 327.4 L49.7 323.8 L49.7 317.1 L50.5 313.9 L47.1 311.3 L44.5 305.7 L41.1 300.3 L36.0 297.0 L30.9 295.3 L25.8 297.8 L20.7 302.7 L15.5 305.4 L20.7 299.5 L17.3 297.8 L14.7 293.5 L18.1 289.7 L14.7 288.7Z" fill="#858585"/>
<path d="M87.2 267.0 L94.0 272.7 L97.4 277.8 L102.5 284.6 L100.0 292.6 L94.0 289.7 L88.9 287.7 L93.1 281.3 L87.2 276.5 L80.4 271.3 L82.9 267.0Z" fill="#858585"/>
<path d="M55.6 268.5 L65.9 268.5 L69.3 277.8 L57.3 279.0Z" fill="#858585"/>
<path d="M78.7 257.0 L88.9 257.0 L102.5 231.3 L87.2 224.8 L76.9 242.3Z" fill="#858585"/>
<path d="M48.8 264.8 L56.5 268.5 L51.4 272.7Z" fill="#858585"/>
<path d="M73.5 260.6 L87.2 260.6 L85.5 263.9 L76.9 263.9Z" fill="#858585"/>
<path d="M55.6 258.8 L65.9 257.8 L70.1 262.3 L61.6 263.9Z" fill="#858585"/>
<path d="M105.1 315.0 L107.6 310.0 L110.2 313.9 L110.2 316.2 L107.6 315.8Z" fill="#858585"/>
<path d="M82.9 342.1 L87.2 341.2 L92.1 343.8 L89.3 344.1 L88.9 342.6 L85.5 341.9Z" fill="#858585"/>
<path d="M92.0 345.4 L93.1 344.1 L97.0 345.1 L96.8 345.6 L94.4 346.0Z" fill="#858585"/>
<path d="M93.1 249.1 L97.4 258.8 L104.2 258.8 L108.5 276.5 L111.9 281.3 L110.2 287.7 L114.5 295.3 L117.9 297.3 L121.3 288.7 L128.1 281.3 L136.6 276.0 L137.5 268.5 L140.1 258.8 L139.2 242.3 L145.2 234.3 L134.1 222.6 L117.0 228.1 L99.1 224.8 L94.9 238.7Z" fill="#858585"/>
<path d="M89.5 354.1 L91.4 352.1 L94.0 351.1 L94.4 352.4 L97.4 351.5 L100.8 352.4 L102.5 352.2 L104.2 354.1 L106.8 356.3 L111.1 357.1 L112.8 360.5 L112.8 362.3 L117.9 363.5 L121.3 364.0 L123.9 365.7 L125.6 367.8 L123.9 371.3 L122.1 373.5 L122.1 377.0 L120.4 380.7 L117.5 381.8 L114.0 384.4 L113.9 386.8 L111.1 390.8 L109.4 393.0 L106.8 392.8 L105.7 392.3 L106.8 394.9 L106.2 396.7 L102.5 397.6 L102.1 399.8 L100.0 399.8 L101.1 401.9 L99.5 404.5 L97.8 405.7 L99.3 407.6 L96.6 411.5 L97.2 414.2 L99.5 417.5 L96.6 418.6 L94.0 416.4 L91.4 412.2 L91.0 407.0 L92.7 402.1 L92.6 395.4 L94.4 389.3 L95.3 382.5 L95.5 377.3 L90.6 373.5 L88.0 368.3 L86.1 365.7 L87.2 363.5 L86.5 362.3 L88.0 360.1 L89.3 358.0 L89.3 355.4Z" fill="#858585"/>
<path d="M140.5 348.7 L141.3 344.4 L140.9 343.1 L144.3 337.0 L147.1 334.5 L147.3 332.0 L150.3 328.6 L153.7 329.3 L158.0 327.6 L163.9 327.0 L164.8 330.5 L164.2 330.8 L168.2 332.2 L172.5 333.7 L172.5 331.8 L176.7 332.8 L182.7 333.3 L184.7 333.2 L183.2 334.6 L185.7 340.3 L187.2 343.5 L188.2 345.8 L192.2 350.5 L192.3 351.5 L195.5 351.8 L199.1 351.3 L197.2 355.4 L194.6 359.3 L190.8 362.9 L188.8 366.5 L189.9 370.4 L190.0 374.4 L186.1 377.9 L185.3 382.5 L183.4 384.4 L183.1 386.8 L181.4 389.3 L178.4 392.0 L174.2 392.5 L171.0 392.6 L170.6 390.8 L168.2 384.9 L166.1 377.0 L166.9 372.2 L165.6 366.1 L163.3 362.3 L163.5 358.4 L162.2 357.6 L159.2 356.0 L156.3 356.3 L152.8 357.1 L149.0 357.6 L144.7 355.0 L142.6 352.2Z" fill="#858585"/>
<path d="M197.4 371.7 L198.5 374.8 L195.9 383.3 L193.8 383.9 L192.5 380.7 L193.2 376.1 L195.5 374.4Z" fill="#858585"/>
<path d="M147.3 325.5 L147.9 320.4 L153.9 320.2 L154.4 317.1 L151.4 314.1 L154.1 313.7 L155.6 312.6 L156.8 310.8 L158.8 309.3 L159.7 307.4 L162.7 306.7 L162.5 301.9 L164.4 300.8 L164.4 304.2 L166.1 306.0 L167.6 306.4 L171.2 305.4 L173.3 304.2 L173.5 301.9 L176.1 301.1 L175.4 298.2 L179.3 297.7 L181.0 297.0 L176.7 296.7 L174.6 297.0 L173.6 295.3 L173.7 291.6 L177.0 287.5 L174.2 286.3 L173.3 289.7 L170.3 293.5 L170.1 295.8 L171.4 297.3 L169.5 301.1 L169.0 303.1 L167.6 304.2 L166.3 304.2 L165.0 299.5 L164.4 297.8 L162.2 300.2 L160.1 298.7 L159.7 293.5 L162.7 290.3 L165.6 286.7 L167.8 281.3 L171.6 276.5 L177.3 274.0 L181.8 275.8 L183.5 277.8 L190.4 283.1 L189.5 285.7 L184.8 284.6 L183.5 284.2 L185.3 289.1 L187.4 290.1 L189.5 288.5 L192.9 285.3 L193.1 280.2 L201.5 280.6 L207.0 277.3 L213.4 280.2 L212.5 273.2 L217.2 269.0 L217.7 280.2 L218.5 283.5 L218.9 269.9 L224.1 266.7 L229.6 265.4 L239.0 258.1 L244.4 252.5 L251.8 265.4 L252.6 266.7 L263.7 268.5 L267.1 274.0 L274.8 269.9 L283.3 272.7 L291.9 277.3 L300.4 276.5 L308.9 279.4 L308.9 287.7 L307.2 288.7 L306.8 292.6 L300.8 297.0 L295.3 297.3 L294.4 300.6 L294.0 303.1 L291.9 307.9 L289.1 310.6 L288.0 303.5 L292.7 296.1 L295.7 292.6 L291.9 294.0 L287.6 298.2 L277.4 298.2 L270.8 305.4 L275.6 307.4 L275.2 313.9 L270.5 320.3 L267.8 320.7 L266.0 322.4 L264.1 324.3 L265.7 327.4 L265.7 329.2 L263.1 330.0 L263.5 326.6 L262.0 324.5 L259.0 325.2 L259.4 323.3 L256.0 325.0 L256.9 326.8 L259.9 327.2 L257.1 329.5 L259.3 333.0 L259.3 335.0 L257.3 338.9 L254.8 341.2 L252.2 341.9 L249.5 342.8 L247.5 342.5 L245.6 344.9 L248.2 348.2 L248.6 351.1 L246.5 352.4 L244.9 353.9 L244.8 352.6 L242.8 350.9 L241.5 349.9 L240.1 353.3 L241.1 355.4 L243.6 358.0 L244.3 360.2 L241.8 359.0 L240.9 356.3 L239.2 354.4 L239.5 351.1 L238.6 347.1 L235.8 347.6 L235.8 344.9 L233.9 342.4 L232.6 341.7 L230.5 342.4 L229.4 343.3 L227.9 344.4 L223.8 348.0 L223.9 350.2 L223.5 352.6 L221.9 354.3 L221.5 354.5 L220.4 352.8 L219.2 350.2 L217.7 346.2 L217.5 343.1 L215.8 343.2 L214.2 341.9 L215.4 341.2 L213.0 340.3 L212.1 339.0 L207.9 339.2 L204.3 338.8 L203.4 337.4 L201.9 337.8 L199.3 336.6 L198.0 334.3 L196.8 334.5 L196.3 335.0 L198.2 337.7 L199.3 339.1 L199.2 340.0 L201.5 340.1 L203.4 338.2 L203.7 339.8 L205.5 340.7 L206.4 341.7 L204.7 344.9 L202.5 346.2 L199.9 347.9 L196.9 349.3 L193.8 350.4 L192.5 350.5 L191.8 348.0 L191.6 347.1 L188.7 342.6 L187.1 339.4 L185.3 336.5 L185.2 335.0 L184.7 333.2 L185.3 331.5 L185.9 329.5 L186.1 327.6 L183.5 328.3 L181.5 327.6 L179.3 327.7 L177.8 326.0 L177.7 324.1 L177.6 323.2 L175.7 323.9 L174.8 323.5 L175.0 324.9 L175.9 326.3 L175.0 327.9 L173.7 327.4 L173.3 325.7 L172.0 323.8 L172.0 322.1 L169.5 320.3 L167.8 318.1 L167.1 317.6 L165.9 317.9 L166.1 319.5 L167.3 321.5 L169.0 322.1 L171.2 323.9 L169.9 323.6 L169.5 324.6 L169.9 325.2 L169.0 326.3 L168.8 324.1 L167.6 323.2 L165.9 322.1 L164.4 320.7 L162.9 319.0 L161.8 319.7 L159.7 320.2 L158.1 320.4 L158.1 321.9 L155.8 323.5 L155.1 324.8 L155.4 325.5 L154.8 326.5 L153.5 327.6 L150.9 328.3 L150.0 327.7 L149.1 327.2 L147.8 327.4Z" fill="#858585"/>
<path d="M1.9 279.4 L6.2 282.4 L10.4 285.7 L8.3 288.7 L3.6 286.7 L1.9 287.7Z" fill="#858585"/>
<path d="M150.7 311.8 L156.5 310.4 L156.9 308.3 L155.7 307.9 L155.2 305.7 L154.0 303.9 L153.7 300.8 L152.4 299.3 L151.1 299.3 L150.3 302.7 L151.3 305.3 L152.8 306.4 L151.6 307.4 L151.8 308.8 L151.0 309.5 L152.8 310.1Z" fill="#858585"/>
<path d="M146.9 309.7 L150.1 309.0 L150.3 306.4 L150.6 305.3 L149.0 304.5 L146.9 306.1Z" fill="#858585"/>
<path d="M134.9 286.7 L136.6 289.7 L139.2 290.7 L143.0 288.7 L143.5 285.7 L141.3 284.8 L136.6 285.0Z" fill="#858585"/>
<path d="M164.8 247.0 L168.2 256.3 L172.5 249.1 L178.4 242.3 L170.8 240.8Z" fill="#858585"/>
<path d="M199.3 272.7 L203.2 275.0 L204.9 267.0 L213.4 257.0 L211.7 255.2 L202.3 262.3 L199.7 269.9Z" fill="#858585"/>
<path d="M266.4 333.2 L267.5 331.0 L267.0 330.5 L268.4 329.1 L271.4 328.4 L272.2 327.0 L273.5 326.8 L274.8 324.1 L274.8 322.5 L276.1 322.6 L276.5 324.6 L275.6 326.3 L275.5 328.7 L274.6 329.5 L272.2 329.9 L271.2 331.0 L270.5 330.0 L268.0 330.7 L267.8 332.5Z" fill="#858585"/>
<path d="M274.8 322.1 L275.1 320.4 L276.2 317.8 L279.3 319.7 L277.5 321.8 L275.6 321.3Z" fill="#858585"/>
<path d="M276.5 317.1 L277.8 312.9 L277.4 306.4 L276.5 307.1 L276.5 312.0Z" fill="#858585"/>
<path d="M257.9 341.2 L259.0 339.2 L259.3 340.3 L258.4 342.1Z" fill="#858585"/>
<path d="M236.7 356.6 L239.0 358.0 L243.7 362.3 L245.8 364.2 L245.6 366.4 L244.1 366.1 L241.5 363.8 L239.4 360.5Z" fill="#858585"/>
<path d="M245.2 367.2 L247.9 367.0 L250.1 367.0 L253.0 368.0 L253.0 368.9 L247.5 368.1Z" fill="#858585"/>
<path d="M248.4 360.1 L250.3 359.2 L252.2 357.8 L255.0 355.4 L256.9 357.0 L256.0 360.1 L255.6 361.0 L254.6 364.6 L253.0 364.8 L250.5 364.2 L249.2 362.7Z" fill="#858585"/>
<path d="M257.3 366.1 L256.9 364.0 L257.7 360.7 L262.0 360.1 L258.6 361.4 L260.3 362.3 L259.0 363.1 L260.3 365.2 L258.2 364.0 L258.1 366.1Z" fill="#858585"/>
<path d="M267.1 362.1 L269.7 362.1 L270.5 364.2 L273.1 362.9 L275.6 363.6 L279.1 365.1 L281.2 366.5 L279.9 368.3 L283.8 370.4 L280.8 369.5 L277.8 368.4 L276.5 369.2 L273.5 368.4 L273.1 366.1 L268.8 364.8 L268.0 363.8Z" fill="#858585"/>
<path d="M258.0 347.6 L258.3 345.3 L259.6 345.4 L259.4 347.6 L261.2 350.2 L259.0 349.5Z" fill="#858585"/>
<path d="M259.4 355.4 L260.7 354.0 L262.4 353.0 L263.3 355.2 L262.3 356.6 L261.2 355.8Z" fill="#858585"/>
<path d="M223.5 354.5 L223.8 353.0 L225.2 355.0 L224.5 356.2 L223.6 356.2Z" fill="#858585"/>
<path d="M252.2 380.7 L252.8 384.4 L253.5 388.8 L253.9 392.0 L253.5 392.6 L256.0 393.3 L260.7 392.2 L262.9 390.6 L267.1 389.8 L269.7 391.1 L271.2 393.1 L272.9 391.3 L273.3 393.3 L274.8 396.3 L277.8 397.4 L280.2 397.6 L283.2 396.0 L284.4 391.8 L285.9 388.3 L286.1 385.3 L284.2 382.0 L282.3 379.1 L280.1 377.8 L279.3 374.4 L276.9 370.6 L276.1 372.6 L275.6 376.6 L274.4 376.6 L271.4 374.8 L271.8 371.7 L268.4 371.3 L266.3 372.6 L265.4 374.4 L262.9 373.5 L260.7 376.4 L259.6 377.2 L256.9 378.8 L252.6 380.7Z" fill="#858585"/>
<path d="M278.8 399.5 L281.8 399.7 L281.6 402.4 L279.9 402.8 L279.2 401.2Z" fill="#858585"/>
<path d="M302.7 392.8 L304.5 395.2 L307.6 396.2 L306.3 397.9 L304.9 400.5 L303.8 397.9 L304.4 396.5Z" fill="#858585"/>
<path d="M302.7 399.3 L304.0 400.6 L302.8 402.9 L301.0 405.6 L299.1 406.5 L297.4 405.5 L298.9 403.3 L301.2 401.5Z" fill="#858585"/>
</g>
<g clip-path="url(#lc)"><g filter="url(#b2)">
<path d="M140.1 350.2 L141.8 336.5 L147.7 330.5 L155.4 327.9 L163.9 326.8 L174.2 331.0 L184.4 332.5 L187.0 340.3 L190.4 349.3 L181.0 352.4 L163.9 352.4 L148.6 351.5Z" fill="#dcdcdc"/>
<path d="M185.3 334.5 L193.8 331.5 L198.0 335.5 L203.2 340.3 L204.9 344.9 L199.7 348.4 L192.9 350.2 L189.5 344.9 L186.1 338.4Z" fill="#d0d0d0"/>
<path d="M193.8 326.3 L206.6 324.1 L216.8 321.8 L219.4 328.4 L211.7 337.5 L204.9 338.4 L198.0 334.5Z" fill="#a6a6a6"/>
<path d="M198.0 314.6 L215.1 312.0 L227.9 314.6 L223.6 321.8 L206.6 324.1 L199.7 321.8Z" fill="#969696"/>
<path d="M219.4 327.4 L223.6 321.8 L236.4 318.3 L250.9 319.5 L249.2 326.3 L242.4 334.5 L232.2 336.5 L223.6 333.5Z" fill="#b4b4b4"/>
<path d="M189.5 305.0 L206.6 297.0 L240.7 297.0 L274.8 293.5 L300.4 285.7 L274.8 276.5 L240.7 271.3 L215.1 281.3 L189.5 289.7Z" fill="#787878"/>
<path d="M51.4 314.6 L66.7 314.6 L68.4 328.4 L66.7 334.5 L59.9 333.5 L53.1 328.4Z" fill="#9c9c9c"/>
<path d="M61.6 334.5 L70.1 336.5 L71.8 344.0 L66.7 344.9Z" fill="#929292"/>
<path d="M88.9 361.4 L92.3 368.3 L97.4 375.2 L98.3 386.3 L97.4 398.7 L94.9 410.8 L93.1 410.8 L94.0 396.5 L94.9 386.3 L94.0 376.1 L88.9 369.1 L86.3 364.0Z" fill="#a0a0a0"/>
<path d="M256.0 379.7 L270.5 377.0 L279.1 380.7 L279.1 388.3 L270.5 389.3 L259.4 389.3 L254.3 385.3Z" fill="#a4a4a4"/>
<path d="M166.5 376.1 L176.7 377.0 L179.3 386.3 L172.5 391.3 L169.0 388.3Z" fill="#a2a2a2"/>
<path d="M186.1 351.1 L191.2 352.8 L196.3 353.7 L192.9 358.8 L187.8 358.0Z" fill="#9a9a9a"/>
<path d="M48.8 258.8 L104.2 224.8 L102.5 276.5 L87.2 285.7 L70.1 281.3 L48.8 276.5Z" fill="#a2a2a2"/>
</g></g>
<g filter="url(#b1)">
<path d="M179.3 321.8 L179.3 320.1 L180.6 317.9 L181.8 316.3 L183.5 317.1 L184.0 318.9 L185.3 318.3 L187.0 318.3 L188.2 315.7 L188.7 316.1 L187.4 318.3 L190.4 320.7 L190.8 322.4 L187.8 323.0 L185.3 321.8 L182.3 322.7 L180.1 322.7Z" fill="#555"/>
<path d="M195.9 317.7 L198.0 316.5 L200.6 316.5 L200.2 318.9 L198.3 319.1 L198.9 320.7 L200.2 322.4 L201.3 323.5 L201.0 327.2 L198.9 327.7 L197.4 326.8 L197.2 324.1 L195.9 320.7Z" fill="#555"/>
<path d="M1.9 471.6 L10.4 473.7 L19.0 471.6 L27.5 467.6 L36.0 460.5 L44.5 458.9 L53.1 457.4 L61.6 458.9 L70.1 454.3 L78.7 454.3 L87.2 455.8 L91.4 452.9 L97.4 454.3 L102.5 457.4 L103.4 460.5 L104.2 464.0 L112.8 471.6 L121.3 471.6 L125.6 471.6 L131.5 464.0 L138.3 455.8 L145.2 450.1 L155.4 446.3 L163.9 446.3 L172.5 446.3 L181.0 443.8 L189.5 442.6 L198.0 439.3 L202.3 437.1 L206.6 440.4 L215.1 441.5 L219.4 445.0 L223.6 440.4 L232.2 438.2 L240.7 437.1 L249.2 437.1 L257.7 438.2 L266.3 437.1 L274.8 438.2 L283.3 441.5 L291.9 446.3 L296.1 448.8 L300.4 451.5 L300.4 467.6 L308.9 471.6 L308.9 505.6 L1.9 505.6Z" fill="#cdcdcd"/>
<path d="M91.4 452.9 L95.7 446.3 L97.4 440.4 L100.0 436.1 L103.4 433.1 L106.8 431.7 L105.1 434.1 L103.4 437.1 L102.5 443.8 L103.4 451.5 L102.5 457.4 L97.4 454.3Z" fill="#8a8a8a"/>
<path d="M104 449 L118 447 L126 452 L133 458 L133 486 L104 486Z" fill="#707070"/>
<path d="M227.0 439.3 L232.2 438.2 L240.7 437.1 L249.2 437.1 L257.7 438.2 L266.3 437.1 L274.8 438.2 L283.3 441.5 L291.9 446.3 L296.1 448.8 L299.5 451.5 L299.5 465.8 L297.0 473.7 L297.0 505.6 L206.6 505.6 L208.3 480.5Z" fill="#e2e2e2"/>
<path d="M1.9 469.6 L19.0 469.6 L27.5 465.8 L27.5 505.6 L1.9 505.6Z" fill="#9c9c9c"/>
<path d="M296.1 467.6 L308.9 469.6 L308.9 505.6 L296.1 505.6Z" fill="#9c9c9c"/>
<path d="M102.5 462.2 L112.8 469.6 L125.6 469.6 L125.6 505.6 L102.5 505.6Z" fill="#a4a4a4"/>
</g>
<rect x="0" y="236" width="312" height="250" filter="url(#tx)" opacity="0.10"/>
<rect x="0" y="236" width="312" height="250" filter="url(#tx2)" opacity="0.14"/>
<path d="M94.0 250.0 L98.3 258.8 L105.1 260.2 L109.4 276.5 L111.9 282.4 L111.1 287.7 L113.6 294.4 L117.0 296.7 L120.4 288.7 L127.3 281.3 L135.8 276.0 L136.6 268.5 L139.2 258.8 L138.3 242.3 L144.3 234.3 L134.1 222.6 L117.0 228.1 L99.1 224.8 L94.9 238.7Z" fill="#fdfdfd" filter="url(#b1)"/>
<g filter="url(#b1)" fill="none" stroke="#f4f4f4" stroke-linecap="round">
<path d="M203.5 265 Q205 259 212.5 256.5" stroke-width="1.6"/>
<path d="M235 240 Q238 244 241.5 248" stroke-width="2.2"/>
<path d="M166 243.5 L170 241.5 M173 243 L176.5 241" stroke-width="1.8"/>
<path d="M196 240 L200 239.5 M204 240 L209 240.5" stroke-width="1.2"/>
<path d="M60 250 L64 246 M68 247 L71 243 M74 250 L77 245 M81 247 L84 242 M86 252 L90 248 M92 262 L96 268 M88 256 L91 259" stroke-width="1.3" stroke="#d8d8d8"/>
</g>
<g stroke="#000" stroke-opacity="0.3" stroke-width="0.25">
<circle cx="96.8" cy="371.4" r="1.6" fill="#7d54d6"/>
<circle cx="52.7" cy="321.1" r="1.6" fill="#92cff4"/>
<circle cx="180.9" cy="387.7" r="1.6" fill="#f9af94"/>
<circle cx="219.7" cy="341.3" r="1.6" fill="#f9af94"/>
<circle cx="95.1" cy="358.2" r="1.6" fill="#7d54d6"/>
<circle cx="83.8" cy="324.6" r="1.6" fill="#f2ec6c"/>
<circle cx="54.1" cy="310.2" r="1.6" fill="#f9af94"/>
<circle cx="83.7" cy="316.1" r="1.6" fill="#f2ec6c"/>
<circle cx="53.1" cy="322.9" r="1.6" fill="#92cff4"/>
<circle cx="180.2" cy="276.5" r="1.6" fill="#f9af94"/>
<circle cx="239.5" cy="361.2" r="1.6" fill="#f2ec6c"/>
<circle cx="113.1" cy="366.3" r="1.6" fill="#f9af94"/>
<circle cx="174.8" cy="386.0" r="1.6" fill="#7d54d6"/>
<circle cx="101.0" cy="357.7" r="1.6" fill="#92cff4"/>
<circle cx="98.3" cy="359.4" r="1.6" fill="#7d54d6"/>
<circle cx="96.8" cy="310.4" r="1.6" fill="#92cff4"/>
<circle cx="303.2" cy="404.1" r="1.6" fill="#7d54d6"/>
<circle cx="52.4" cy="275.5" r="1.6" fill="#92cff4"/>
<circle cx="142.5" cy="305.0" r="1.6" fill="#7d54d6"/>
<circle cx="289.0" cy="298.5" r="1.6" fill="#7d54d6"/>
<circle cx="75.1" cy="324.3" r="1.6" fill="#92cff4"/>
<circle cx="181.2" cy="321.5" r="1.6" fill="#f9af94"/>
<circle cx="167.5" cy="247.0" r="1.6" fill="#f2ec6c"/>
<circle cx="165.9" cy="381.4" r="1.6" fill="#7d54d6"/>
<circle cx="18.4" cy="342.7" r="1.6" fill="#7d54d6"/>
<circle cx="241.3" cy="335.5" r="1.6" fill="#f9af94"/>
<circle cx="239.4" cy="330.0" r="1.6" fill="#7d54d6"/>
<circle cx="57.2" cy="330.5" r="1.6" fill="#92cff4"/>
<circle cx="25.0" cy="373.5" r="1.6" fill="#7d54d6"/>
<circle cx="300.1" cy="394.8" r="1.6" fill="#7d54d6"/>
<circle cx="25.9" cy="290.7" r="1.6" fill="#f9af94"/>
<circle cx="280.6" cy="384.0" r="1.6" fill="#7d54d6"/>
<circle cx="183.3" cy="304.0" r="1.6" fill="#7d54d6"/>
<circle cx="181.7" cy="301.5" r="1.6" fill="#f9af94"/>
<circle cx="155.7" cy="304.4" r="1.6" fill="#f2ec6c"/>
<circle cx="278.4" cy="401.4" r="1.6" fill="#7d54d6"/>
<circle cx="277.2" cy="328.6" r="1.6" fill="#f9af94"/>
<circle cx="192.5" cy="305.2" r="1.6" fill="#7d54d6"/>
<circle cx="152.8" cy="310.9" r="1.6" fill="#f9af94"/>
<circle cx="176.5" cy="320.4" r="1.6" fill="#f2ec6c"/>
<circle cx="250.2" cy="354.8" r="1.6" fill="#f2ec6c"/>
<circle cx="256.0" cy="381.0" r="1.6" fill="#f2ec6c"/>
<circle cx="74.0" cy="361.0" r="1.6" fill="#92cff4"/>
<circle cx="102.9" cy="373.9" r="1.6" fill="#f9af94"/>
<circle cx="82.9" cy="346.8" r="1.6" fill="#f2ec6c"/>
<circle cx="80.0" cy="304.6" r="1.6" fill="#92cff4"/>
<circle cx="47.1" cy="299.6" r="1.6" fill="#92cff4"/>
<circle cx="89.6" cy="303.6" r="1.6" fill="#f9af94"/>
<circle cx="149.0" cy="307.1" r="1.6" fill="#7d54d6"/>
<circle cx="266.4" cy="333.4" r="1.6" fill="#f9af94"/>
<circle cx="261.2" cy="385.1" r="1.6" fill="#f9af94"/>
<circle cx="92.9" cy="377.1" r="1.6" fill="#92cff4"/>
<circle cx="183.1" cy="361.6" r="1.6" fill="#f9af94"/>
<circle cx="71.2" cy="338.7" r="1.6" fill="#92cff4"/>
<circle cx="51.4" cy="323.6" r="1.6" fill="#7d54d6"/>
<circle cx="236.6" cy="340.2" r="1.6" fill="#f9af94"/>
<circle cx="83.7" cy="334.2" r="1.6" fill="#92cff4"/>
<circle cx="108.9" cy="374.2" r="1.6" fill="#92cff4"/>
<circle cx="104.7" cy="310.6" r="1.6" fill="#7d54d6"/>
<circle cx="173.6" cy="315.0" r="1.6" fill="#f9af94"/>
<circle cx="236.3" cy="342.2" r="1.6" fill="#f9af94"/>
<circle cx="166.0" cy="387.1" r="1.6" fill="#f9af94"/>
<circle cx="252.4" cy="385.0" r="1.6" fill="#7d54d6"/>
<circle cx="75.5" cy="347.5" r="1.6" fill="#92cff4"/>
<circle cx="240.1" cy="326.3" r="1.6" fill="#f2ec6c"/>
<circle cx="185.6" cy="280.8" r="1.6" fill="#f2ec6c"/>
<circle cx="88.1" cy="307.3" r="1.6" fill="#92cff4"/>
<circle cx="128.5" cy="296.9" r="1.6" fill="#7d54d6"/>
<circle cx="222.4" cy="334.9" r="1.6" fill="#f9af94"/>
<circle cx="94.7" cy="392.0" r="1.6" fill="#f2ec6c"/>
<circle cx="178.6" cy="314.4" r="1.6" fill="#7d54d6"/>
<circle cx="21.5" cy="278.3" r="1.6" fill="#92cff4"/>
<circle cx="168.1" cy="278.3" r="1.6" fill="#f2ec6c"/>
<circle cx="181.1" cy="318.6" r="1.6" fill="#f9af94"/>
<circle cx="77.0" cy="363.0" r="1.6" fill="#92cff4"/>
<circle cx="261.9" cy="325.3" r="1.6" fill="#f9af94"/>
<circle cx="110.9" cy="391.7" r="1.6" fill="#f9af94"/>
<circle cx="162.7" cy="322.0" r="1.6" fill="#7d54d6"/>
<circle cx="257.1" cy="318.8" r="1.6" fill="#f2ec6c"/>
<circle cx="275.2" cy="314.7" r="1.6" fill="#7d54d6"/>
<circle cx="86.5" cy="348.3" r="1.6" fill="#7d54d6"/>
<circle cx="300.9" cy="406.3" r="1.6" fill="#7d54d6"/>
<circle cx="104.3" cy="321.8" r="1.6" fill="#7d54d6"/>
<circle cx="100.0" cy="333.0" r="1.6" fill="#f2ec6c"/>
<circle cx="224.5" cy="325.8" r="1.6" fill="#7d54d6"/>
<circle cx="272.9" cy="385.5" r="1.6" fill="#7d54d6"/>
<circle cx="261.2" cy="321.2" r="1.6" fill="#f2ec6c"/>
<circle cx="166.2" cy="313.0" r="1.6" fill="#f9af94"/>
<circle cx="181.9" cy="290.6" r="1.6" fill="#f2ec6c"/>
<circle cx="85.2" cy="315.4" r="1.6" fill="#f9af94"/>
<circle cx="244.4" cy="324.9" r="1.6" fill="#f9af94"/>
<circle cx="227.0" cy="365.0" r="1.6" fill="#7d54d6"/>
<circle cx="171.1" cy="393.7" r="1.6" fill="#7d54d6"/>
<circle cx="279.5" cy="395.0" r="1.6" fill="#7d54d6"/>
<circle cx="90.1" cy="307.9" r="1.6" fill="#f9af94"/>
<circle cx="97.4" cy="391.2" r="1.6" fill="#7d54d6"/>
<circle cx="70.5" cy="323.8" r="1.6" fill="#92cff4"/>
<circle cx="93.0" cy="308.2" r="1.6" fill="#92cff4"/>
<circle cx="187.8" cy="355.8" r="1.6" fill="#f9af94"/>
<circle cx="257.5" cy="347.1" r="1.6" fill="#7d54d6"/>
<circle cx="28.4" cy="293.1" r="1.6" fill="#92cff4"/>
<circle cx="65.7" cy="284.0" r="1.6" fill="#92cff4"/>
<circle cx="196.4" cy="376.7" r="1.6" fill="#f9af94"/>
<circle cx="297.0" cy="304.5" r="1.6" fill="#7d54d6"/>
<circle cx="101.2" cy="357.7" r="1.6" fill="#f2ec6c"/>
<circle cx="64.7" cy="318.0" r="1.6" fill="#92cff4"/>
<circle cx="52.0" cy="321.4" r="1.6" fill="#92cff4"/>
<circle cx="95.0" cy="358.9" r="1.6" fill="#f2ec6c"/>
<circle cx="148.8" cy="313.7" r="1.6" fill="#f9af94"/>
<circle cx="252.7" cy="313.7" r="1.6" fill="#f2ec6c"/>
<circle cx="308.0" cy="274.0" r="1.6" fill="#7d54d6"/>
<circle cx="265.1" cy="311.6" r="1.6" fill="#7d54d6"/>
<circle cx="270.7" cy="391.1" r="1.6" fill="#f9af94"/>
<circle cx="166.5" cy="315.4" r="1.6" fill="#f9af94"/>
<circle cx="205.4" cy="332.1" r="1.6" fill="#f9af94"/>
<circle cx="189.8" cy="290.9" r="1.6" fill="#f9af94"/>
<circle cx="186.1" cy="353.5" r="1.6" fill="#7d54d6"/>
<circle cx="180.3" cy="382.8" r="1.6" fill="#f2ec6c"/>
<circle cx="266.4" cy="322.7" r="1.6" fill="#f9af94"/>
<circle cx="100.5" cy="359.8" r="1.6" fill="#92cff4"/>
<circle cx="97.0" cy="414.3" r="1.6" fill="#92cff4"/>
<circle cx="75.7" cy="348.8" r="1.6" fill="#f9af94"/>
<circle cx="97.0" cy="422.0" r="1.6" fill="#7d54d6"/>
<circle cx="303.0" cy="308.0" r="1.6" fill="#7d54d6"/>
<circle cx="177.7" cy="366.6" r="1.6" fill="#7d54d6"/>
<circle cx="115.6" cy="388.7" r="1.6" fill="#7d54d6"/>
<circle cx="96.7" cy="302.6" r="1.6" fill="#92cff4"/>
<circle cx="62.4" cy="339.5" r="1.6" fill="#7d54d6"/>
<circle cx="269.9" cy="321.9" r="1.6" fill="#f2ec6c"/>
<circle cx="98.1" cy="312.2" r="1.6" fill="#92cff4"/>
<circle cx="166.3" cy="304.6" r="1.6" fill="#f9af94"/>
<circle cx="185.0" cy="287.2" r="1.6" fill="#f9af94"/>
<circle cx="92.5" cy="375.8" r="1.6" fill="#f9af94"/>
<circle cx="252.8" cy="309.3" r="1.6" fill="#f9af94"/>
<circle cx="22.4" cy="291.3" r="1.6" fill="#f9af94"/>
<circle cx="253.5" cy="388.6" r="1.6" fill="#f2ec6c"/>
<circle cx="181.9" cy="327.2" r="1.6" fill="#f9af94"/>
<circle cx="147.1" cy="310.1" r="1.6" fill="#7d54d6"/>
<circle cx="219.8" cy="335.2" r="1.6" fill="#f9af94"/>
<circle cx="59.0" cy="263.0" r="1.6" fill="#92cff4"/>
<circle cx="173.4" cy="301.1" r="1.6" fill="#7d54d6"/>
<circle cx="170.1" cy="351.5" r="1.6" fill="#f2ec6c"/>
<circle cx="68.6" cy="307.9" r="1.6" fill="#92cff4"/>
<circle cx="163.0" cy="325.3" r="1.6" fill="#7d54d6"/>
<circle cx="149.5" cy="310.7" r="1.6" fill="#7d54d6"/>
<circle cx="89.3" cy="317.6" r="1.6" fill="#f2ec6c"/>
<circle cx="59.9" cy="341.0" r="1.6" fill="#7d54d6"/>
<circle cx="179.7" cy="331.6" r="1.6" fill="#f9af94"/>
<circle cx="174.8" cy="297.1" r="1.6" fill="#f9af94"/>
<circle cx="173.9" cy="281.9" r="1.6" fill="#7d54d6"/>
<circle cx="94.4" cy="387.1" r="1.6" fill="#f2ec6c"/>
<circle cx="141.7" cy="353.9" r="1.6" fill="#7d54d6"/>
<circle cx="181.5" cy="365.6" r="1.6" fill="#f9af94"/>
<circle cx="65.6" cy="311.4" r="1.6" fill="#92cff4"/>
<circle cx="202.6" cy="365.0" r="1.6" fill="#f2ec6c"/>
<circle cx="265.5" cy="336.4" r="1.6" fill="#f2ec6c"/>
<circle cx="103.0" cy="347.1" r="1.6" fill="#f9af94"/>
<circle cx="190.8" cy="284.2" r="1.6" fill="#f2ec6c"/>
<circle cx="31.6" cy="298.9" r="1.6" fill="#7d54d6"/>
<circle cx="68.1" cy="336.0" r="1.6" fill="#92cff4"/>
<circle cx="279.5" cy="379.0" r="1.6" fill="#f9af94"/>
<circle cx="173.4" cy="321.9" r="1.6" fill="#f9af94"/>
<circle cx="67.5" cy="295.9" r="1.6" fill="#92cff4"/>
<circle cx="255.4" cy="328.8" r="1.6" fill="#f2ec6c"/>
<circle cx="146.6" cy="348.9" r="1.6" fill="#f2ec6c"/>
<circle cx="70.2" cy="324.0" r="1.6" fill="#f2ec6c"/>
<circle cx="53.6" cy="310.1" r="1.6" fill="#92cff4"/>
<circle cx="101.2" cy="302.9" r="1.6" fill="#92cff4"/>
<circle cx="178.2" cy="301.1" r="1.6" fill="#f2ec6c"/>
<circle cx="244.5" cy="361.4" r="1.6" fill="#f9af94"/>
<circle cx="155.7" cy="304.4" r="1.6" fill="#f9af94"/>
<circle cx="296.0" cy="406.4" r="1.6" fill="#7d54d6"/>
<circle cx="149.1" cy="325.6" r="1.6" fill="#7d54d6"/>
<circle cx="177.7" cy="314.9" r="1.6" fill="#7d54d6"/>
<circle cx="174.6" cy="287.7" r="1.6" fill="#f9af94"/>
<circle cx="296.0" cy="463.5" r="1.6" fill="#7d54d6"/>
<circle cx="160.4" cy="310.9" r="1.6" fill="#7d54d6"/>
<circle cx="299.0" cy="377.0" r="1.6" fill="#f9af94"/>
<circle cx="241.0" cy="313.0" r="1.6" fill="#7d54d6"/>
<circle cx="105.4" cy="308.2" r="1.6" fill="#f2ec6c"/>
<circle cx="53.9" cy="274.9" r="1.6" fill="#92cff4"/>
<circle cx="276.1" cy="380.4" r="1.6" fill="#f9af94"/>
<circle cx="68.5" cy="341.3" r="1.6" fill="#92cff4"/>
<circle cx="247.2" cy="349.1" r="1.6" fill="#f9af94"/>
<circle cx="179.9" cy="299.2" r="1.6" fill="#f9af94"/>
<circle cx="259.4" cy="344.8" r="1.6" fill="#f2ec6c"/>
<circle cx="142.6" cy="296.9" r="1.6" fill="#7d54d6"/>
<circle cx="266.3" cy="359.1" r="1.6" fill="#f9af94"/>
<circle cx="80.9" cy="310.6" r="1.6" fill="#92cff4"/>
<circle cx="190.0" cy="292.2" r="1.6" fill="#f9af94"/>
<circle cx="62.3" cy="282.1" r="1.6" fill="#92cff4"/>
<circle cx="239.3" cy="363.0" r="1.6" fill="#7d54d6"/>
<circle cx="190.2" cy="282.6" r="1.6" fill="#f2ec6c"/>
<circle cx="263.0" cy="332.3" r="1.6" fill="#f2ec6c"/>
<circle cx="230.1" cy="339.9" r="1.6" fill="#f9af94"/>
<circle cx="159.5" cy="329.8" r="1.6" fill="#f2ec6c"/>
<circle cx="68.1" cy="317.7" r="1.6" fill="#92cff4"/>
<circle cx="179.7" cy="277.0" r="1.6" fill="#f2ec6c"/>
<circle cx="164.1" cy="284.3" r="1.6" fill="#f2ec6c"/>
<circle cx="189.8" cy="362.6" r="1.6" fill="#7d54d6"/>
<circle cx="78.9" cy="332.4" r="1.6" fill="#92cff4"/>
<circle cx="148.4" cy="309.5" r="1.6" fill="#f9af94"/>
<circle cx="284.4" cy="400.4" r="1.6" fill="#f9af94"/>
<circle cx="261.6" cy="308.4" r="1.6" fill="#f2ec6c"/>
<circle cx="256.0" cy="316.3" r="1.6" fill="#f2ec6c"/>
<circle cx="21.6" cy="281.7" r="1.6" fill="#92cff4"/>
<circle cx="186.7" cy="368.6" r="1.6" fill="#7d54d6"/>
<circle cx="280.5" cy="395.6" r="1.6" fill="#f9af94"/>
<circle cx="183.1" cy="307.4" r="1.6" fill="#f2ec6c"/>
<circle cx="80.3" cy="318.6" r="1.6" fill="#92cff4"/>
<circle cx="28.7" cy="282.3" r="1.6" fill="#7d54d6"/>
<circle cx="256.1" cy="315.3" r="1.6" fill="#f2ec6c"/>
<circle cx="276.2" cy="320.5" r="1.6" fill="#7d54d6"/>
<circle cx="259.8" cy="355.1" r="1.6" fill="#7d54d6"/>
<circle cx="187.5" cy="295.3" r="1.6" fill="#7d54d6"/>
<circle cx="145.7" cy="296.9" r="1.6" fill="#7d54d6"/>
<circle cx="139.3" cy="334.0" r="1.6" fill="#f9af94"/>
<circle cx="306.1" cy="399.5" r="1.6" fill="#7d54d6"/>
<circle cx="54.3" cy="297.3" r="1.6" fill="#f9af94"/>
<circle cx="258.7" cy="321.4" r="1.6" fill="#f2ec6c"/>
<circle cx="89.8" cy="320.0" r="1.6" fill="#f2ec6c"/>
<circle cx="172.3" cy="304.9" r="1.6" fill="#f9af94"/>
<circle cx="174.3" cy="325.8" r="1.6" fill="#f9af94"/>
<circle cx="274.3" cy="389.8" r="1.6" fill="#f2ec6c"/>
<circle cx="184.2" cy="325.2" r="1.6" fill="#f2ec6c"/>
<circle cx="93.9" cy="309.5" r="1.6" fill="#92cff4"/>
<circle cx="65.2" cy="312.5" r="1.6" fill="#92cff4"/>
<circle cx="186.7" cy="355.7" r="1.6" fill="#f9af94"/>
<circle cx="49.8" cy="303.3" r="1.6" fill="#f9af94"/>
<circle cx="93.2" cy="315.2" r="1.6" fill="#f2ec6c"/>
<circle cx="98.0" cy="409.2" r="1.6" fill="#7d54d6"/>
<circle cx="254.4" cy="341.3" r="1.6" fill="#f9af94"/>
<circle cx="177.0" cy="385.8" r="1.6" fill="#7d54d6"/>
<circle cx="97.7" cy="282.6" r="1.6" fill="#92cff4"/>
<circle cx="287.9" cy="393.7" r="1.6" fill="#f2ec6c"/>
<circle cx="17.2" cy="277.5" r="1.6" fill="#f9af94"/>
<circle cx="32.1" cy="305.2" r="1.6" fill="#7d54d6"/>
<circle cx="46.8" cy="300.4" r="1.6" fill="#92cff4"/>
<circle cx="180.9" cy="302.5" r="1.6" fill="#f9af94"/>
<circle cx="35.0" cy="274.0" r="1.6" fill="#92cff4"/>
<circle cx="275.5" cy="371.7" r="1.6" fill="#7d54d6"/>
<circle cx="184.7" cy="320.0" r="1.6" fill="#f9af94"/>
<circle cx="160.3" cy="446.5" r="1.6" fill="#7d54d6"/>
<circle cx="163.4" cy="329.0" r="1.6" fill="#f2ec6c"/>
<circle cx="137.9" cy="315.7" r="1.6" fill="#7d54d6"/>
<circle cx="153.3" cy="300.8" r="1.6" fill="#7d54d6"/>
<circle cx="275.7" cy="391.6" r="1.6" fill="#f2ec6c"/>
<circle cx="55.0" cy="293.8" r="1.6" fill="#92cff4"/>
<circle cx="97.4" cy="307.2" r="1.6" fill="#92cff4"/>
<circle cx="111.5" cy="379.2" r="1.6" fill="#f2ec6c"/>
<circle cx="175.3" cy="304.0" r="1.6" fill="#f2ec6c"/>
<circle cx="102.8" cy="377.8" r="1.6" fill="#92cff4"/>
<circle cx="248.3" cy="326.1" r="1.6" fill="#f9af94"/>
<circle cx="169.4" cy="391.2" r="1.6" fill="#7d54d6"/>
<circle cx="166.8" cy="304.2" r="1.6" fill="#f9af94"/>
<circle cx="101.9" cy="294.1" r="1.6" fill="#7d54d6"/>
<circle cx="222.8" cy="329.2" r="1.6" fill="#f9af94"/>
<circle cx="72.4" cy="340.0" r="1.6" fill="#f2ec6c"/>
<circle cx="190.6" cy="318.2" r="1.6" fill="#f9af94"/>
<circle cx="166.0" cy="248.5" r="1.6" fill="#7d54d6"/>
<circle cx="172.4" cy="329.8" r="1.6" fill="#f9af94"/>
<circle cx="275.1" cy="389.6" r="1.6" fill="#7d54d6"/>
<circle cx="234.1" cy="342.0" r="1.6" fill="#f9af94"/>
<circle cx="297.0" cy="372.0" r="1.6" fill="#7d54d6"/>
<circle cx="243.8" cy="329.9" r="1.6" fill="#7d54d6"/>
<circle cx="284.4" cy="395.5" r="1.6" fill="#7d54d6"/>
<circle cx="195.1" cy="382.7" r="1.6" fill="#f9af94"/>
<circle cx="109.5" cy="428.2" r="1.6" fill="#f2ec6c"/>
<circle cx="186.0" cy="334.4" r="1.6" fill="#f9af94"/>
<circle cx="111.2" cy="376.6" r="1.6" fill="#f9af94"/>
<circle cx="60.5" cy="305.3" r="1.6" fill="#92cff4"/>
<circle cx="213.1" cy="325.8" r="1.6" fill="#7d54d6"/>
<circle cx="194.1" cy="293.0" r="1.6" fill="#f9af94"/>
<circle cx="87.8" cy="353.9" r="1.6" fill="#92cff4"/>
<circle cx="161.8" cy="326.6" r="1.6" fill="#f2ec6c"/>
<circle cx="84.6" cy="340.4" r="1.6" fill="#f9af94"/>
<circle cx="262.9" cy="329.2" r="1.6" fill="#f9af94"/>
<circle cx="275.0" cy="393.7" r="1.6" fill="#7d54d6"/>
<circle cx="178.8" cy="330.0" r="1.6" fill="#f9af94"/>
<circle cx="178.1" cy="334.8" r="1.6" fill="#f9af94"/>
<circle cx="205.0" cy="303.4" r="1.6" fill="#f9af94"/>
<circle cx="89.4" cy="321.4" r="1.6" fill="#92cff4"/>
<circle cx="140.0" cy="352.0" r="1.6" fill="#f2ec6c"/>
<circle cx="252.3" cy="386.4" r="1.6" fill="#f2ec6c"/>
<circle cx="147.0" cy="299.7" r="1.6" fill="#f9af94"/>
<circle cx="54.0" cy="318.4" r="1.6" fill="#92cff4"/>
<circle cx="100.9" cy="400.0" r="1.6" fill="#7d54d6"/>
<circle cx="162.7" cy="320.5" r="1.6" fill="#f2ec6c"/>
<circle cx="69.2" cy="317.8" r="1.6" fill="#92cff4"/>
<circle cx="37.2" cy="290.7" r="1.6" fill="#f9af94"/>
<circle cx="66.0" cy="258.0" r="1.6" fill="#92cff4"/>
<circle cx="272.5" cy="385.1" r="1.6" fill="#7d54d6"/>
<circle cx="102.4" cy="301.9" r="1.6" fill="#92cff4"/>
<circle cx="244.3" cy="323.0" r="1.6" fill="#f2ec6c"/>
<circle cx="303.0" cy="296.0" r="1.6" fill="#7d54d6"/>
<circle cx="35.6" cy="460.0" r="1.6" fill="#7d54d6"/>
<circle cx="207.8" cy="292.5" r="1.6" fill="#f2ec6c"/>
<circle cx="185.7" cy="332.9" r="1.6" fill="#7d54d6"/>
<circle cx="187.0" cy="310.2" r="1.6" fill="#f9af94"/>
<circle cx="236.2" cy="334.5" r="1.6" fill="#7d54d6"/>
<circle cx="153.7" cy="320.0" r="1.6" fill="#f9af94"/>
<circle cx="168.7" cy="297.8" r="1.6" fill="#f2ec6c"/>
<circle cx="147.1" cy="308.6" r="1.6" fill="#7d54d6"/>
<circle cx="75.9" cy="331.2" r="1.6" fill="#f2ec6c"/>
<circle cx="21.3" cy="280.8" r="1.6" fill="#92cff4"/>
<circle cx="256.2" cy="310.9" r="1.6" fill="#7d54d6"/>
<circle cx="252.2" cy="318.5" r="1.6" fill="#f2ec6c"/>
<circle cx="178.2" cy="277.5" r="1.6" fill="#7d54d6"/>
<circle cx="205.1" cy="328.5" r="1.6" fill="#f9af94"/>
<circle cx="252.1" cy="334.5" r="1.6" fill="#f9af94"/>
<circle cx="166.6" cy="298.8" r="1.6" fill="#f9af94"/>
<circle cx="175.8" cy="280.7" r="1.6" fill="#f9af94"/>
<circle cx="260.9" cy="313.6" r="1.6" fill="#7d54d6"/>
<circle cx="156.9" cy="301.1" r="1.6" fill="#7d54d6"/>
<circle cx="182.3" cy="301.9" r="1.6" fill="#f9af94"/>
<circle cx="152.4" cy="326.4" r="1.6" fill="#f9af94"/>
<circle cx="67.8" cy="341.7" r="1.6" fill="#f2ec6c"/>
<circle cx="180.0" cy="336.5" r="1.6" fill="#7d54d6"/>
<circle cx="220.6" cy="319.4" r="1.6" fill="#f2ec6c"/>
<circle cx="58.3" cy="296.0" r="1.6" fill="#f9af94"/>
<circle cx="190.2" cy="308.5" r="1.6" fill="#f9af94"/>
<circle cx="175.4" cy="299.0" r="1.6" fill="#7d54d6"/>
<circle cx="186.9" cy="324.4" r="1.6" fill="#f9af94"/>
<circle cx="161.3" cy="323.1" r="1.6" fill="#f9af94"/>
<circle cx="73.7" cy="318.7" r="1.6" fill="#92cff4"/>
<circle cx="112.6" cy="366.6" r="1.6" fill="#f2ec6c"/>
<circle cx="169.6" cy="351.8" r="1.6" fill="#f2ec6c"/>
<circle cx="177.3" cy="386.3" r="1.6" fill="#f9af94"/>
<circle cx="247.7" cy="355.8" r="1.6" fill="#f9af94"/>
<circle cx="69.9" cy="334.4" r="1.6" fill="#92cff4"/>
<circle cx="120.7" cy="315.3" r="1.6" fill="#7d54d6"/>
<circle cx="255.7" cy="362.5" r="1.6" fill="#7d54d6"/>
<circle cx="220.1" cy="328.3" r="1.6" fill="#f9af94"/>
<circle cx="103.8" cy="309.5" r="1.6" fill="#92cff4"/>
<circle cx="182.3" cy="357.6" r="1.6" fill="#f9af94"/>
<circle cx="162.1" cy="296.2" r="1.6" fill="#f9af94"/>
<circle cx="73.8" cy="306.2" r="1.6" fill="#92cff4"/>
<circle cx="70.0" cy="310.3" r="1.6" fill="#92cff4"/>
<circle cx="101.9" cy="385.9" r="1.6" fill="#f2ec6c"/>
<circle cx="147.0" cy="308.0" r="1.6" fill="#f2ec6c"/>
<circle cx="58.5" cy="331.0" r="1.6" fill="#7d54d6"/>
<circle cx="221.4" cy="332.4" r="1.6" fill="#f9af94"/>
<circle cx="216.5" cy="328.2" r="1.6" fill="#f9af94"/>
<circle cx="60.8" cy="305.4" r="1.6" fill="#f9af94"/>
<circle cx="258.1" cy="321.6" r="1.6" fill="#f2ec6c"/>
<circle cx="180.5" cy="321.9" r="1.6" fill="#f9af94"/>
<circle cx="100.3" cy="383.6" r="1.6" fill="#f2ec6c"/>
<circle cx="187.9" cy="355.6" r="1.6" fill="#f9af94"/>
<circle cx="286.0" cy="313.7" r="1.6" fill="#f9af94"/>
<circle cx="75.0" cy="305.5" r="1.6" fill="#92cff4"/>
<circle cx="176.7" cy="369.2" r="1.6" fill="#f9af94"/>
<circle cx="70.3" cy="333.3" r="1.6" fill="#92cff4"/>
<circle cx="232.0" cy="298.0" r="1.6" fill="#f9af94"/>
<circle cx="98.2" cy="361.2" r="1.6" fill="#f2ec6c"/>
<circle cx="164.1" cy="315.7" r="1.6" fill="#7d54d6"/>
<circle cx="178.3" cy="393.7" r="1.6" fill="#7d54d6"/>
<circle cx="90.8" cy="359.6" r="1.6" fill="#92cff4"/>
<circle cx="105.9" cy="397.7" r="1.6" fill="#f2ec6c"/>
<circle cx="26.8" cy="302.6" r="1.6" fill="#7d54d6"/>
<circle cx="152.0" cy="279.0" r="1.6" fill="#7d54d6"/>
<circle cx="268.9" cy="375.3" r="1.6" fill="#7d54d6"/>
<circle cx="19.3" cy="287.0" r="1.6" fill="#f9af94"/>
<circle cx="251.0" cy="342.4" r="1.6" fill="#7d54d6"/>
<circle cx="58.5" cy="307.1" r="1.6" fill="#92cff4"/>
<circle cx="196.5" cy="332.3" r="1.6" fill="#7d54d6"/>
<circle cx="266.5" cy="361.3" r="1.6" fill="#f2ec6c"/>
<circle cx="170.6" cy="389.0" r="1.6" fill="#f9af94"/>
<circle cx="59.5" cy="315.6" r="1.6" fill="#92cff4"/>
<circle cx="164.8" cy="304.8" r="1.6" fill="#7d54d6"/>
<circle cx="109.0" cy="376.0" r="1.6" fill="#f2ec6c"/>
<circle cx="257.9" cy="336.2" r="1.6" fill="#f9af94"/>
<circle cx="70.3" cy="285.8" r="1.6" fill="#92cff4"/>
<circle cx="83.3" cy="350.2" r="1.6" fill="#92cff4"/>
<circle cx="216.7" cy="317.9" r="1.6" fill="#f9af94"/>
<circle cx="81.9" cy="350.8" r="1.6" fill="#92cff4"/>
<circle cx="46.0" cy="273.9" r="1.6" fill="#92cff4"/>
<circle cx="170.3" cy="324.3" r="1.6" fill="#7d54d6"/>
<circle cx="242.0" cy="317.1" r="1.6" fill="#f9af94"/>
<circle cx="245.1" cy="354.7" r="1.6" fill="#f9af94"/>
<circle cx="114.0" cy="389.8" r="1.6" fill="#f9af94"/>
<circle cx="52.1" cy="317.9" r="1.6" fill="#92cff4"/>
<circle cx="226.8" cy="343.9" r="1.6" fill="#f9af94"/>
<circle cx="87.6" cy="350.8" r="1.6" fill="#f2ec6c"/>
<circle cx="179.6" cy="284.8" r="1.6" fill="#f2ec6c"/>
<circle cx="263.6" cy="312.6" r="1.6" fill="#7d54d6"/>
<circle cx="245.0" cy="350.0" r="1.6" fill="#f9af94"/>
<circle cx="194.1" cy="380.1" r="1.6" fill="#f9af94"/>
<circle cx="255.0" cy="327.0" r="1.6" fill="#f9af94"/>
<circle cx="97.5" cy="357.9" r="1.6" fill="#7d54d6"/>
<circle cx="166.3" cy="316.7" r="1.6" fill="#f9af94"/>
<circle cx="277.4" cy="322.5" r="1.6" fill="#f9af94"/>
<circle cx="86.0" cy="319.0" r="1.6" fill="#92cff4"/>
<circle cx="200.8" cy="340.4" r="1.6" fill="#f9af94"/>
<circle cx="56.7" cy="295.5" r="1.6" fill="#f9af94"/>
<circle cx="68.0" cy="294.7" r="1.6" fill="#f9af94"/>
<circle cx="96.8" cy="306.7" r="1.6" fill="#92cff4"/>
<circle cx="187.0" cy="289.4" r="1.6" fill="#7d54d6"/>
<circle cx="286.4" cy="313.9" r="1.6" fill="#7d54d6"/>
<circle cx="175.4" cy="333.0" r="1.6" fill="#f2ec6c"/>
<circle cx="156.8" cy="313.9" r="1.6" fill="#7d54d6"/>
<circle cx="177.5" cy="319.0" r="1.6" fill="#7d54d6"/>
<circle cx="53.0" cy="324.3" r="1.6" fill="#f9af94"/>
<circle cx="139.9" cy="330.2" r="1.6" fill="#f9af94"/>
<circle cx="81.4" cy="312.8" r="1.6" fill="#92cff4"/>
<circle cx="297.7" cy="402.1" r="1.6" fill="#7d54d6"/>
<circle cx="218.5" cy="329.5" r="1.6" fill="#7d54d6"/>
<circle cx="255.5" cy="313.6" r="1.6" fill="#f2ec6c"/>
<circle cx="262.5" cy="385.3" r="1.6" fill="#f9af94"/>
<circle cx="282.6" cy="313.9" r="1.6" fill="#7d54d6"/>
<circle cx="93.7" cy="373.8" r="1.6" fill="#92cff4"/>
<circle cx="98.0" cy="304.3" r="1.6" fill="#92cff4"/>
<circle cx="102.1" cy="402.6" r="1.6" fill="#7d54d6"/>
<circle cx="92.2" cy="360.2" r="1.6" fill="#7d54d6"/>
<circle cx="90.5" cy="327.1" r="1.6" fill="#92cff4"/>
<circle cx="255.7" cy="317.7" r="1.6" fill="#f2ec6c"/>
<circle cx="97.8" cy="345.9" r="1.6" fill="#f9af94"/>
<circle cx="259.3" cy="355.4" r="1.6" fill="#f2ec6c"/>
<circle cx="124.2" cy="366.6" r="1.6" fill="#92cff4"/>
<circle cx="59.6" cy="335.1" r="1.6" fill="#92cff4"/>
<circle cx="282.4" cy="390.8" r="1.6" fill="#7d54d6"/>
<circle cx="179.2" cy="357.2" r="1.6" fill="#f2ec6c"/>
<circle cx="243.8" cy="318.2" r="1.6" fill="#7d54d6"/>
<circle cx="68.8" cy="324.9" r="1.6" fill="#92cff4"/>
<circle cx="23.9" cy="277.1" r="1.6" fill="#92cff4"/>
<circle cx="186.7" cy="282.6" r="1.6" fill="#f2ec6c"/>
<circle cx="67.8" cy="288.5" r="1.6" fill="#92cff4"/>
<circle cx="98.0" cy="415.8" r="1.6" fill="#f9af94"/>
<circle cx="260.3" cy="331.3" r="1.6" fill="#f2ec6c"/>
<circle cx="268.6" cy="328.1" r="1.6" fill="#f9af94"/>
<circle cx="280.3" cy="395.0" r="1.6" fill="#7d54d6"/>
<circle cx="275.8" cy="328.5" r="1.6" fill="#f9af94"/>
<circle cx="140.9" cy="318.9" r="1.6" fill="#7d54d6"/>
<circle cx="99.9" cy="366.0" r="1.6" fill="#7d54d6"/>
<circle cx="96.0" cy="385.8" r="1.6" fill="#f2ec6c"/>
<circle cx="160.7" cy="290.5" r="1.6" fill="#7d54d6"/>
<circle cx="179.6" cy="277.3" r="1.6" fill="#f2ec6c"/>
<circle cx="257.5" cy="339.1" r="1.6" fill="#f2ec6c"/>
<circle cx="53.4" cy="307.5" r="1.6" fill="#92cff4"/>
<circle cx="14.1" cy="286.4" r="1.6" fill="#f9af94"/>
<circle cx="83.0" cy="326.9" r="1.6" fill="#92cff4"/>
<circle cx="181.1" cy="301.3" r="1.6" fill="#7d54d6"/>
<circle cx="71.0" cy="322.3" r="1.6" fill="#92cff4"/>
<circle cx="284.2" cy="312.1" r="1.6" fill="#7d54d6"/>
<circle cx="141.1" cy="326.0" r="1.6" fill="#7d54d6"/>
<circle cx="53.7" cy="304.9" r="1.6" fill="#f9af94"/>
<circle cx="250.5" cy="327.9" r="1.6" fill="#f2ec6c"/>
<circle cx="150.3" cy="310.9" r="1.6" fill="#7d54d6"/>
<circle cx="263.5" cy="313.3" r="1.6" fill="#f9af94"/>
<circle cx="218.9" cy="342.8" r="1.6" fill="#f9af94"/>
<circle cx="159.3" cy="298.3" r="1.6" fill="#7d54d6"/>
<circle cx="258.8" cy="330.3" r="1.6" fill="#f2ec6c"/>
<circle cx="298.1" cy="405.2" r="1.6" fill="#7d54d6"/>
<circle cx="275.5" cy="322.1" r="1.6" fill="#f9af94"/>
<circle cx="124.5" cy="291.3" r="1.6" fill="#7d54d6"/>
<circle cx="257.6" cy="330.1" r="1.6" fill="#f9af94"/>
<circle cx="65.8" cy="318.1" r="1.6" fill="#92cff4"/>
<circle cx="86.0" cy="308.6" r="1.6" fill="#92cff4"/>
<circle cx="46.4" cy="303.9" r="1.6" fill="#92cff4"/>
<circle cx="83.1" cy="316.9" r="1.6" fill="#92cff4"/>
<circle cx="94.6" cy="382.7" r="1.6" fill="#f2ec6c"/>
<circle cx="93.2" cy="372.4" r="1.6" fill="#92cff4"/>
<circle cx="104.0" cy="352.0" r="1.6" fill="#f2ec6c"/>
<circle cx="70.4" cy="344.3" r="1.6" fill="#7d54d6"/>
<circle cx="74.0" cy="314.3" r="1.6" fill="#f9af94"/>
<circle cx="258.0" cy="344.7" r="1.6" fill="#f2ec6c"/>
<circle cx="25.6" cy="280.2" r="1.6" fill="#92cff4"/>
<circle cx="41.5" cy="289.9" r="1.6" fill="#92cff4"/>
<circle cx="108.5" cy="430.0" r="1.6" fill="#f2ec6c"/>
<circle cx="56.6" cy="313.3" r="1.6" fill="#f2ec6c"/>
<circle cx="149.0" cy="407.3" r="1.6" fill="#7d54d6"/>
<circle cx="101.8" cy="282.7" r="1.6" fill="#92cff4"/>
<circle cx="184.2" cy="303.5" r="1.6" fill="#7d54d6"/>
<circle cx="49.9" cy="308.2" r="1.6" fill="#f9af94"/>
<circle cx="177.6" cy="293.1" r="1.6" fill="#7d54d6"/>
<circle cx="226.8" cy="347.4" r="1.6" fill="#f9af94"/>
<circle cx="207.0" cy="312.0" r="1.6" fill="#7d54d6"/>
<circle cx="238.5" cy="355.2" r="1.6" fill="#f2ec6c"/>
<circle cx="32.0" cy="281.1" r="1.6" fill="#f9af94"/>
<circle cx="170.3" cy="287.8" r="1.6" fill="#f9af94"/>
<circle cx="105.0" cy="432.5" r="1.6" fill="#f2ec6c"/>
<circle cx="242.4" cy="329.1" r="1.6" fill="#f2ec6c"/>
<circle cx="151.3" cy="328.4" r="1.6" fill="#7d54d6"/>
<circle cx="273.1" cy="385.7" r="1.6" fill="#7d54d6"/>
<circle cx="84.3" cy="295.2" r="1.6" fill="#92cff4"/>
<circle cx="91.6" cy="319.1" r="1.6" fill="#f2ec6c"/>
<circle cx="259.5" cy="312.3" r="1.6" fill="#f2ec6c"/>
<circle cx="94.2" cy="314.2" r="1.6" fill="#f9af94"/>
<circle cx="151.7" cy="329.9" r="1.6" fill="#7d54d6"/>
<circle cx="42.7" cy="453.2" r="1.6" fill="#7d54d6"/>
<circle cx="176.0" cy="297.1" r="1.6" fill="#7d54d6"/>
<circle cx="182.3" cy="291.3" r="1.6" fill="#f2ec6c"/>
<circle cx="247.1" cy="341.8" r="1.6" fill="#f2ec6c"/>
<circle cx="99.0" cy="368.7" r="1.6" fill="#92cff4"/>
<circle cx="148.5" cy="299.6" r="1.6" fill="#f9af94"/>
<circle cx="20.2" cy="282.3" r="1.6" fill="#92cff4"/>
<circle cx="26.3" cy="278.7" r="1.6" fill="#92cff4"/>
<circle cx="172.6" cy="308.6" r="1.6" fill="#f9af94"/>
<circle cx="205.6" cy="281.0" r="1.6" fill="#f2ec6c"/>
<circle cx="170.2" cy="288.4" r="1.6" fill="#f9af94"/>
<circle cx="87.7" cy="344.3" r="1.6" fill="#f9af94"/>
<circle cx="157.8" cy="352.9" r="1.6" fill="#f9af94"/>
<circle cx="248.2" cy="329.0" r="1.6" fill="#f2ec6c"/>
<circle cx="280.0" cy="355.0" r="1.6" fill="#f2ec6c"/>
<circle cx="140.6" cy="329.3" r="1.6" fill="#f2ec6c"/>
<circle cx="263.1" cy="327.5" r="1.6" fill="#f9af94"/>
<circle cx="259.0" cy="311.6" r="1.6" fill="#f2ec6c"/>
<circle cx="94.3" cy="318.2" r="1.6" fill="#92cff4"/>
<circle cx="160.0" cy="272.0" r="1.6" fill="#7d54d6"/>
<circle cx="163.3" cy="316.8" r="1.6" fill="#f9af94"/>
<circle cx="147.6" cy="314.3" r="1.6" fill="#7d54d6"/>
<circle cx="85.4" cy="296.0" r="1.6" fill="#7d54d6"/>
<circle cx="187.4" cy="319.5" r="1.6" fill="#f9af94"/>
<circle cx="169.4" cy="307.1" r="1.6" fill="#f2ec6c"/>
<circle cx="68.8" cy="341.6" r="1.6" fill="#f2ec6c"/>
<circle cx="235.0" cy="319.3" r="1.6" fill="#f9af94"/>
<circle cx="270.1" cy="314.4" r="1.6" fill="#f2ec6c"/>
<circle cx="83.0" cy="314.5" r="1.6" fill="#92cff4"/>
<circle cx="109.6" cy="385.9" r="1.6" fill="#f2ec6c"/>
<circle cx="284.9" cy="379.4" r="1.6" fill="#7d54d6"/>
<circle cx="168.2" cy="377.1" r="1.6" fill="#f2ec6c"/>
<circle cx="96.1" cy="311.7" r="1.6" fill="#92cff4"/>
<circle cx="246.1" cy="339.5" r="1.6" fill="#f2ec6c"/>
<circle cx="76.0" cy="332.3" r="1.6" fill="#f2ec6c"/>
<circle cx="180.9" cy="384.8" r="1.6" fill="#f9af94"/>
<circle cx="235.2" cy="332.5" r="1.6" fill="#7d54d6"/>
<circle cx="91.7" cy="341.2" r="1.6" fill="#f2ec6c"/>
<circle cx="263.1" cy="359.2" r="1.6" fill="#7d54d6"/>
<circle cx="165.4" cy="306.5" r="1.6" fill="#f9af94"/>
<circle cx="177.0" cy="326.1" r="1.6" fill="#7d54d6"/>
<circle cx="206.5" cy="298.2" r="1.6" fill="#f2ec6c"/>
<circle cx="27.0" cy="280.9" r="1.6" fill="#92cff4"/>
<circle cx="248.7" cy="353.3" r="1.6" fill="#f9af94"/>
<circle cx="46.3" cy="275.2" r="1.6" fill="#92cff4"/>
<circle cx="66.5" cy="313.3" r="1.6" fill="#92cff4"/>
<circle cx="69.5" cy="338.8" r="1.6" fill="#92cff4"/>
<circle cx="251.6" cy="324.4" r="1.6" fill="#f2ec6c"/>
<circle cx="101.0" cy="362.4" r="1.6" fill="#92cff4"/>
<circle cx="101.9" cy="370.9" r="1.6" fill="#92cff4"/>
<circle cx="101.6" cy="311.4" r="1.6" fill="#92cff4"/>
<circle cx="183.2" cy="379.1" r="1.6" fill="#7d54d6"/>
<circle cx="167.1" cy="324.4" r="1.6" fill="#f9af94"/>
<circle cx="15.3" cy="289.2" r="1.6" fill="#92cff4"/>
<circle cx="244.8" cy="339.2" r="1.6" fill="#f2ec6c"/>
<circle cx="97.3" cy="317.2" r="1.6" fill="#92cff4"/>
<circle cx="226.7" cy="336.6" r="1.6" fill="#7d54d6"/>
<circle cx="100.0" cy="299.2" r="1.6" fill="#7d54d6"/>
<circle cx="73.1" cy="333.8" r="1.6" fill="#92cff4"/>
<circle cx="94.7" cy="330.9" r="1.6" fill="#7d54d6"/>
<circle cx="190.1" cy="311.3" r="1.6" fill="#7d54d6"/>
<circle cx="184.0" cy="377.8" r="1.6" fill="#7d54d6"/>
<circle cx="75.9" cy="330.0" r="1.6" fill="#f2ec6c"/>
<circle cx="242.1" cy="329.4" r="1.6" fill="#f9af94"/>
<circle cx="178.2" cy="285.4" r="1.6" fill="#7d54d6"/>
<circle cx="209.9" cy="335.4" r="1.6" fill="#f9af94"/>
<circle cx="153.6" cy="298.1" r="1.6" fill="#f9af94"/>
<circle cx="84.9" cy="312.8" r="1.6" fill="#92cff4"/>
<circle cx="234.4" cy="340.9" r="1.6" fill="#f9af94"/>
<circle cx="142.1" cy="335.1" r="1.6" fill="#f9af94"/>
<circle cx="17.1" cy="296.8" r="1.6" fill="#7d54d6"/>
<circle cx="163.0" cy="270.0" r="1.6" fill="#7d54d6"/>
<circle cx="155.3" cy="298.9" r="1.6" fill="#f2ec6c"/>
<circle cx="62.4" cy="290.8" r="1.6" fill="#f9af94"/>
<circle cx="103.4" cy="380.5" r="1.6" fill="#92cff4"/>
<circle cx="83.6" cy="329.5" r="1.6" fill="#92cff4"/>
<circle cx="82.1" cy="301.9" r="1.6" fill="#7d54d6"/>
<circle cx="92.2" cy="319.9" r="1.6" fill="#92cff4"/>
<circle cx="55.3" cy="336.5" r="1.6" fill="#f9af94"/>
<circle cx="279.4" cy="371.9" r="1.6" fill="#7d54d6"/>
<circle cx="185.7" cy="363.8" r="1.6" fill="#f2ec6c"/>
<circle cx="82.6" cy="325.0" r="1.6" fill="#f2ec6c"/>
<circle cx="139.7" cy="356.5" r="1.6" fill="#f2ec6c"/>
<circle cx="81.7" cy="330.3" r="1.6" fill="#f2ec6c"/>
<circle cx="84.3" cy="354.2" r="1.6" fill="#92cff4"/>
<circle cx="221.4" cy="340.5" r="1.6" fill="#7d54d6"/>
<circle cx="62.3" cy="288.1" r="1.6" fill="#f9af94"/>
<circle cx="233.0" cy="336.8" r="1.6" fill="#f9af94"/>
<circle cx="14.0" cy="278.3" r="1.6" fill="#92cff4"/>
<circle cx="104.6" cy="303.8" r="1.6" fill="#92cff4"/>
<circle cx="231.5" cy="345.7" r="1.6" fill="#f9af94"/>
<circle cx="89.6" cy="373.5" r="1.6" fill="#f2ec6c"/>
<circle cx="93.5" cy="325.4" r="1.6" fill="#7d54d6"/>
<circle cx="50.8" cy="304.5" r="1.6" fill="#92cff4"/>
<circle cx="122.9" cy="374.2" r="1.6" fill="#f9af94"/>
<circle cx="247.3" cy="350.0" r="1.6" fill="#f9af94"/>
<circle cx="191.7" cy="299.8" r="1.6" fill="#7d54d6"/>
<circle cx="48.2" cy="289.0" r="1.6" fill="#92cff4"/>
<circle cx="69.5" cy="292.2" r="1.6" fill="#7d54d6"/>
<circle cx="242.2" cy="349.2" r="1.6" fill="#f9af94"/>
<circle cx="262.3" cy="323.3" r="1.6" fill="#f2ec6c"/>
<circle cx="91.8" cy="359.0" r="1.6" fill="#92cff4"/>
<circle cx="81.6" cy="317.5" r="1.6" fill="#f2ec6c"/>
<circle cx="5.5" cy="337.4" r="1.6" fill="#7d54d6"/>
<circle cx="54.7" cy="319.1" r="1.6" fill="#f9af94"/>
<circle cx="101.8" cy="361.9" r="1.6" fill="#f2ec6c"/>
<circle cx="42.0" cy="296.2" r="1.6" fill="#92cff4"/>
<circle cx="266.5" cy="336.6" r="1.6" fill="#f9af94"/>
<circle cx="157.7" cy="316.1" r="1.6" fill="#f2ec6c"/>
<circle cx="194.7" cy="329.3" r="1.6" fill="#7d54d6"/>
<circle cx="285.9" cy="385.2" r="1.6" fill="#7d54d6"/>
<circle cx="220.8" cy="338.7" r="1.6" fill="#f9af94"/>
<circle cx="283.0" cy="392.8" r="1.6" fill="#7d54d6"/>
<circle cx="170.4" cy="392.3" r="1.6" fill="#7d54d6"/>
<circle cx="174.0" cy="321.6" r="1.6" fill="#f2ec6c"/>
<circle cx="155.6" cy="327.1" r="1.6" fill="#f2ec6c"/>
<circle cx="198.6" cy="406.3" r="1.6" fill="#7d54d6"/>
<circle cx="110.3" cy="377.2" r="1.6" fill="#7d54d6"/>
<circle cx="176.3" cy="313.9" r="1.6" fill="#f9af94"/>
<circle cx="95.6" cy="380.6" r="1.6" fill="#f2ec6c"/>
<circle cx="67.5" cy="336.4" r="1.6" fill="#92cff4"/>
<circle cx="153.6" cy="327.2" r="1.6" fill="#f9af94"/>
<circle cx="174.2" cy="324.8" r="1.6" fill="#f9af94"/>
<circle cx="264.3" cy="329.2" r="1.6" fill="#f9af94"/>
<circle cx="178.6" cy="285.1" r="1.6" fill="#7d54d6"/>
<circle cx="74.6" cy="306.3" r="1.6" fill="#92cff4"/>
<circle cx="186.9" cy="283.6" r="1.6" fill="#f2ec6c"/>
<circle cx="154.9" cy="312.5" r="1.6" fill="#f9af94"/>
<circle cx="271.9" cy="328.3" r="1.6" fill="#f9af94"/>
<circle cx="60.5" cy="320.4" r="1.6" fill="#92cff4"/>
<circle cx="251.0" cy="308.1" r="1.6" fill="#7d54d6"/>
<circle cx="68.5" cy="328.0" r="1.6" fill="#92cff4"/>
<circle cx="93.3" cy="364.5" r="1.6" fill="#92cff4"/>
<circle cx="227.2" cy="333.4" r="1.6" fill="#7d54d6"/>
<circle cx="85.8" cy="343.9" r="1.6" fill="#f2ec6c"/>
<circle cx="47.0" cy="306.0" r="1.6" fill="#92cff4"/>
<circle cx="191.8" cy="307.1" r="1.6" fill="#7d54d6"/>
<circle cx="208.0" cy="336.6" r="1.6" fill="#f9af94"/>
<circle cx="164.9" cy="345.8" r="1.6" fill="#f2ec6c"/>
<circle cx="214.7" cy="326.6" r="1.6" fill="#7d54d6"/>
<circle cx="116.5" cy="367.6" r="1.6" fill="#f2ec6c"/>
<circle cx="153.9" cy="306.8" r="1.6" fill="#7d54d6"/>
<circle cx="180.1" cy="356.2" r="1.6" fill="#f9af94"/>
<circle cx="107.1" cy="377.2" r="1.6" fill="#f2ec6c"/>
<circle cx="176.9" cy="297.6" r="1.6" fill="#7d54d6"/>
<circle cx="152.2" cy="322.3" r="1.6" fill="#f2ec6c"/>
<circle cx="158.2" cy="297.8" r="1.6" fill="#f9af94"/>
<circle cx="63.5" cy="331.2" r="1.6" fill="#92cff4"/>
<circle cx="104.0" cy="274.0" r="1.6" fill="#7d54d6"/>
<circle cx="54.8" cy="308.2" r="1.6" fill="#92cff4"/>
<circle cx="67.2" cy="283.1" r="1.6" fill="#7d54d6"/>
<circle cx="168.0" cy="343.0" r="1.6" fill="#7d54d6"/>
<circle cx="257.4" cy="360.4" r="1.6" fill="#f9af94"/>
<circle cx="44.5" cy="289.3" r="1.6" fill="#f9af94"/>
<circle cx="181.6" cy="386.5" r="1.6" fill="#f9af94"/>
<circle cx="142.3" cy="296.2" r="1.6" fill="#7d54d6"/>
<circle cx="89.7" cy="358.1" r="1.6" fill="#f2ec6c"/>
<circle cx="250.2" cy="335.1" r="1.6" fill="#f2ec6c"/>
<circle cx="97.0" cy="320.5" r="1.6" fill="#f9af94"/>
<circle cx="48.5" cy="291.5" r="1.6" fill="#f9af94"/>
<circle cx="166.0" cy="329.0" r="1.6" fill="#f9af94"/>
<circle cx="173.1" cy="377.2" r="1.6" fill="#7d54d6"/>
<circle cx="268.1" cy="376.4" r="1.6" fill="#f2ec6c"/>
<circle cx="146.5" cy="332.5" r="1.6" fill="#7d54d6"/>
<circle cx="104.4" cy="314.4" r="1.6" fill="#7d54d6"/>
<circle cx="195.0" cy="290.6" r="1.6" fill="#f2ec6c"/>
<circle cx="282.3" cy="380.0" r="1.6" fill="#f9af94"/>
<circle cx="22.3" cy="346.2" r="1.6" fill="#f2ec6c"/>
<circle cx="55.6" cy="336.6" r="1.6" fill="#f9af94"/>
<circle cx="119.3" cy="339.6" r="1.6" fill="#f2ec6c"/>
<circle cx="189.7" cy="321.0" r="1.6" fill="#f9af94"/>
<circle cx="53.8" cy="319.8" r="1.6" fill="#92cff4"/>
<circle cx="203.4" cy="329.6" r="1.6" fill="#f9af94"/>
<circle cx="181.1" cy="333.1" r="1.6" fill="#7d54d6"/>
<circle cx="68.8" cy="306.4" r="1.6" fill="#f9af94"/>
<circle cx="239.1" cy="342.1" r="1.6" fill="#f9af94"/>
<circle cx="103.3" cy="360.0" r="1.6" fill="#f2ec6c"/>
<circle cx="173.8" cy="332.0" r="1.6" fill="#f2ec6c"/>
<circle cx="107.4" cy="375.8" r="1.6" fill="#f9af94"/>
<circle cx="180.6" cy="322.7" r="1.6" fill="#f9af94"/>
<circle cx="63.5" cy="277.2" r="1.6" fill="#f9af94"/>
<circle cx="163.4" cy="330.9" r="1.6" fill="#f9af94"/>
<circle cx="244.2" cy="364.0" r="1.6" fill="#f2ec6c"/>
<circle cx="77.4" cy="329.7" r="1.6" fill="#f2ec6c"/>
<circle cx="102.2" cy="346.0" r="1.6" fill="#f9af94"/>
<circle cx="96.6" cy="409.2" r="1.6" fill="#7d54d6"/>
<circle cx="268.8" cy="368.2" r="1.6" fill="#7d54d6"/>
<circle cx="46.9" cy="286.8" r="1.6" fill="#f2ec6c"/>
<circle cx="55.6" cy="314.2" r="1.6" fill="#7d54d6"/>
<circle cx="187.6" cy="407.3" r="1.6" fill="#7d54d6"/>
<circle cx="85.9" cy="345.0" r="1.6" fill="#7d54d6"/>
<circle cx="43.5" cy="279.2" r="1.6" fill="#f9af94"/>
<circle cx="177.9" cy="299.6" r="1.6" fill="#f2ec6c"/>
<circle cx="100.6" cy="299.7" r="1.6" fill="#92cff4"/>
<circle cx="85.1" cy="351.6" r="1.6" fill="#7d54d6"/>
<circle cx="84.5" cy="317.4" r="1.6" fill="#92cff4"/>
<circle cx="10.6" cy="285.1" r="1.6" fill="#7d54d6"/>
<circle cx="101.3" cy="411.4" r="1.6" fill="#7d54d6"/>
<circle cx="180.7" cy="366.5" r="1.6" fill="#7d54d6"/>
<circle cx="61.9" cy="324.4" r="1.6" fill="#92cff4"/>
<circle cx="180.4" cy="322.7" r="1.6" fill="#f9af94"/>
<circle cx="148.4" cy="314.0" r="1.6" fill="#7d54d6"/>
<circle cx="170.6" cy="310.1" r="1.6" fill="#7d54d6"/>
<circle cx="121.6" cy="369.2" r="1.6" fill="#7d54d6"/>
<circle cx="94.5" cy="320.4" r="1.6" fill="#f2ec6c"/>
<circle cx="5.0" cy="316.0" r="1.6" fill="#7d54d6"/>
<circle cx="101.0" cy="358.4" r="1.6" fill="#92cff4"/>
<circle cx="295.0" cy="470.0" r="1.6" fill="#7d54d6"/>
<circle cx="59.5" cy="317.0" r="1.6" fill="#92cff4"/>
<circle cx="40.7" cy="283.5" r="1.6" fill="#92cff4"/>
<circle cx="165.0" cy="290.6" r="1.6" fill="#7d54d6"/>
<circle cx="174.6" cy="380.9" r="1.6" fill="#7d54d6"/>
<circle cx="29.4" cy="285.8" r="1.6" fill="#92cff4"/>
<circle cx="107.9" cy="388.2" r="1.6" fill="#f9af94"/>
<circle cx="282.1" cy="384.8" r="1.6" fill="#7d54d6"/>
<circle cx="100.0" cy="419.0" r="1.6" fill="#92cff4"/>
<circle cx="74.6" cy="323.7" r="1.6" fill="#7d54d6"/>
<circle cx="74.0" cy="319.6" r="1.6" fill="#f2ec6c"/>
<circle cx="179.5" cy="365.6" r="1.6" fill="#f9af94"/>
<circle cx="250.6" cy="334.8" r="1.6" fill="#f2ec6c"/>
<circle cx="90.1" cy="352.1" r="1.6" fill="#7d54d6"/>
<circle cx="147.6" cy="333.6" r="1.6" fill="#7d54d6"/>
<circle cx="283.2" cy="395.1" r="1.6" fill="#7d54d6"/>
<circle cx="107.6" cy="391.0" r="1.6" fill="#f2ec6c"/>
<circle cx="209.0" cy="378.7" r="1.6" fill="#f2ec6c"/>
<circle cx="77.0" cy="319.0" r="1.6" fill="#f2ec6c"/>
<circle cx="230.6" cy="317.9" r="1.6" fill="#f2ec6c"/>
<circle cx="139.1" cy="279.6" r="1.6" fill="#7d54d6"/>
<circle cx="146.0" cy="374.0" r="1.6" fill="#f2ec6c"/>
<circle cx="165.9" cy="319.4" r="1.6" fill="#f9af94"/>
<circle cx="163.1" cy="292.9" r="1.6" fill="#f9af94"/>
<circle cx="238.8" cy="326.0" r="1.6" fill="#f2ec6c"/>
<circle cx="154.6" cy="308.2" r="1.6" fill="#f2ec6c"/>
<circle cx="166.7" cy="298.4" r="1.6" fill="#f2ec6c"/>
<circle cx="97.6" cy="413.3" r="1.6" fill="#7d54d6"/>
<circle cx="239.0" cy="333.0" r="1.6" fill="#7d54d6"/>
<circle cx="44.4" cy="284.9" r="1.6" fill="#92cff4"/>
<circle cx="99.5" cy="386.5" r="1.6" fill="#92cff4"/>
<circle cx="99.4" cy="309.7" r="1.6" fill="#7d54d6"/>
<circle cx="139.4" cy="334.6" r="1.6" fill="#f2ec6c"/>
<circle cx="68.8" cy="313.4" r="1.6" fill="#92cff4"/>
<circle cx="190.6" cy="311.4" r="1.6" fill="#f9af94"/>
<circle cx="102.4" cy="368.5" r="1.6" fill="#92cff4"/>
<circle cx="75.4" cy="335.9" r="1.6" fill="#92cff4"/>
<circle cx="118.5" cy="372.8" r="1.6" fill="#92cff4"/>
<circle cx="143.0" cy="288.0" r="1.6" fill="#7d54d6"/>
<circle cx="171.0" cy="248.0" r="1.6" fill="#7d54d6"/>
<circle cx="186.9" cy="278.3" r="1.6" fill="#7d54d6"/>
<circle cx="232.7" cy="340.4" r="1.6" fill="#7d54d6"/>
<circle cx="219.3" cy="330.3" r="1.6" fill="#f9af94"/>
<circle cx="261.0" cy="368.4" r="1.6" fill="#f9af94"/>
<circle cx="263.8" cy="323.4" r="1.6" fill="#f2ec6c"/>
<circle cx="170.5" cy="330.2" r="1.6" fill="#f9af94"/>
<circle cx="151.1" cy="323.1" r="1.6" fill="#f2ec6c"/>
<circle cx="283.1" cy="315.4" r="1.6" fill="#7d54d6"/>
<circle cx="105.6" cy="302.4" r="1.6" fill="#92cff4"/>
<circle cx="159.0" cy="298.1" r="1.6" fill="#f9af94"/>
<circle cx="180.2" cy="321.9" r="1.6" fill="#7d54d6"/>
<circle cx="224.6" cy="353.9" r="1.6" fill="#7d54d6"/>
<circle cx="48.4" cy="304.7" r="1.6" fill="#92cff4"/>
<circle cx="56.8" cy="279.0" r="1.6" fill="#92cff4"/>
<circle cx="279.6" cy="371.2" r="1.6" fill="#f2ec6c"/>
<circle cx="84.2" cy="318.5" r="1.6" fill="#92cff4"/>
<circle cx="256.1" cy="365.5" r="1.6" fill="#7d54d6"/>
<circle cx="298.5" cy="471.5" r="1.6" fill="#7d54d6"/>
<circle cx="21.9" cy="344.7" r="1.6" fill="#7d54d6"/>
<circle cx="205.7" cy="302.6" r="1.6" fill="#f2ec6c"/>
<circle cx="234.3" cy="341.1" r="1.6" fill="#f9af94"/>
<circle cx="63.0" cy="317.0" r="1.6" fill="#92cff4"/>
<circle cx="47.0" cy="295.0" r="1.6" fill="#f9af94"/>
<circle cx="144.4" cy="328.0" r="1.6" fill="#f9af94"/>
<circle cx="89.3" cy="293.4" r="1.6" fill="#7d54d6"/>
<circle cx="263.1" cy="324.2" r="1.6" fill="#f9af94"/>
<circle cx="167.2" cy="326.0" r="1.6" fill="#7d54d6"/>
<circle cx="99.8" cy="369.5" r="1.6" fill="#92cff4"/>
<circle cx="191.0" cy="284.2" r="1.6" fill="#f2ec6c"/>
<circle cx="107.4" cy="303.6" r="1.6" fill="#92cff4"/>
<circle cx="70.9" cy="310.9" r="1.6" fill="#92cff4"/>
<circle cx="17.6" cy="282.4" r="1.6" fill="#f9af94"/>
<circle cx="92.7" cy="328.1" r="1.6" fill="#92cff4"/>
<circle cx="102.1" cy="350.3" r="1.6" fill="#f9af94"/>
<circle cx="275.8" cy="394.0" r="1.6" fill="#f9af94"/>
<circle cx="110.0" cy="357.7" r="1.6" fill="#f2ec6c"/>
<circle cx="282.7" cy="410.4" r="1.6" fill="#f2ec6c"/>
<circle cx="179.4" cy="308.2" r="1.6" fill="#7d54d6"/>
<circle cx="158.2" cy="354.7" r="1.6" fill="#f9af94"/>
<circle cx="49.1" cy="312.5" r="1.6" fill="#92cff4"/>
<circle cx="81.4" cy="328.3" r="1.6" fill="#7d54d6"/>
<circle cx="103.3" cy="396.6" r="1.6" fill="#7d54d6"/>
<circle cx="143.3" cy="297.6" r="1.6" fill="#7d54d6"/>
<circle cx="174.3" cy="292.6" r="1.6" fill="#f9af94"/>
<circle cx="96.3" cy="314.1" r="1.6" fill="#f9af94"/>
<circle cx="148.8" cy="302.8" r="1.6" fill="#f9af94"/>
<circle cx="148.3" cy="316.7" r="1.6" fill="#f9af94"/>
<circle cx="222.2" cy="399.8" r="1.6" fill="#7d54d6"/>
<circle cx="92.9" cy="397.0" r="1.6" fill="#f2ec6c"/>
<circle cx="259.0" cy="361.4" r="1.6" fill="#f2ec6c"/>
<circle cx="156.7" cy="322.5" r="1.6" fill="#f9af94"/>
<circle cx="145.0" cy="306.9" r="1.6" fill="#7d54d6"/>
<circle cx="184.1" cy="369.5" r="1.6" fill="#7d54d6"/>
<circle cx="80.9" cy="314.8" r="1.6" fill="#92cff4"/>
<circle cx="77.4" cy="313.4" r="1.6" fill="#92cff4"/>
<circle cx="96.0" cy="335.0" r="1.6" fill="#92cff4"/>
<circle cx="99.7" cy="357.6" r="1.6" fill="#f2ec6c"/>
<circle cx="93.3" cy="303.6" r="1.6" fill="#92cff4"/>
<circle cx="90.8" cy="285.3" r="1.6" fill="#92cff4"/>
<circle cx="91.1" cy="353.8" r="1.6" fill="#92cff4"/>
<circle cx="52.9" cy="275.3" r="1.6" fill="#f9af94"/>
<circle cx="204.9" cy="335.6" r="1.6" fill="#f9af94"/>
<circle cx="299.0" cy="413.5" r="1.6" fill="#7d54d6"/>
<circle cx="92.2" cy="364.6" r="1.6" fill="#92cff4"/>
<circle cx="119.6" cy="375.2" r="1.6" fill="#7d54d6"/>
<circle cx="83.5" cy="346.4" r="1.6" fill="#92cff4"/>
<circle cx="183.7" cy="313.1" r="1.6" fill="#f9af94"/>
<circle cx="54.8" cy="326.2" r="1.6" fill="#92cff4"/>
<circle cx="282.3" cy="314.2" r="1.6" fill="#7d54d6"/>
<circle cx="162.2" cy="296.5" r="1.6" fill="#f9af94"/>
<circle cx="29.3" cy="297.2" r="1.6" fill="#92cff4"/>
<circle cx="250.1" cy="351.4" r="1.6" fill="#f9af94"/>
<circle cx="303.6" cy="399.6" r="1.6" fill="#7d54d6"/>
<circle cx="60.9" cy="332.8" r="1.6" fill="#f9af94"/>
<circle cx="168.3" cy="311.2" r="1.6" fill="#f9af94"/>
<circle cx="225.7" cy="349.5" r="1.6" fill="#7d54d6"/>
<circle cx="164.5" cy="295.8" r="1.6" fill="#f9af94"/>
<circle cx="169.0" cy="312.3" r="1.6" fill="#f9af94"/>
<circle cx="152.7" cy="292.9" r="1.6" fill="#f9af94"/>
<circle cx="104.5" cy="430.0" r="1.6" fill="#f2ec6c"/>
<circle cx="68.3" cy="333.4" r="1.6" fill="#92cff4"/>
<circle cx="135.5" cy="348.0" r="1.6" fill="#f9af94"/>
<circle cx="80.7" cy="325.4" r="1.6" fill="#f2ec6c"/>
<circle cx="152.7" cy="315.9" r="1.6" fill="#f9af94"/>
<circle cx="97.8" cy="401.3" r="1.6" fill="#f9af94"/>
<circle cx="243.7" cy="359.7" r="1.6" fill="#7d54d6"/>
<circle cx="247.6" cy="334.5" r="1.6" fill="#f2ec6c"/>
<circle cx="254.3" cy="360.0" r="1.6" fill="#f2ec6c"/>
<circle cx="171.1" cy="325.6" r="1.6" fill="#f9af94"/>
<circle cx="104.8" cy="395.7" r="1.6" fill="#7d54d6"/>
<circle cx="186.6" cy="356.6" r="1.6" fill="#7d54d6"/>
<circle cx="123.1" cy="370.7" r="1.6" fill="#f9af94"/>
<circle cx="204.2" cy="290.8" r="1.6" fill="#f9af94"/>
<circle cx="3.5" cy="297.6" r="1.6" fill="#7d54d6"/>
<circle cx="85.2" cy="311.9" r="1.6" fill="#92cff4"/>
<circle cx="156.8" cy="352.6" r="1.6" fill="#f2ec6c"/>
<circle cx="234.4" cy="337.4" r="1.6" fill="#f9af94"/>
<circle cx="152.4" cy="307.5" r="1.6" fill="#7d54d6"/>
<circle cx="167.6" cy="385.6" r="1.6" fill="#7d54d6"/>
<circle cx="86.6" cy="320.5" r="1.6" fill="#f2ec6c"/>
<circle cx="85.7" cy="325.1" r="1.6" fill="#f2ec6c"/>
<circle cx="72.1" cy="346.3" r="1.6" fill="#f2ec6c"/>
<circle cx="246.1" cy="319.2" r="1.6" fill="#f2ec6c"/>
<circle cx="110.1" cy="309.0" r="1.6" fill="#7d54d6"/>
<circle cx="174.9" cy="285.6" r="1.6" fill="#f9af94"/>
<circle cx="288.0" cy="313.5" r="1.6" fill="#f9af94"/>
<circle cx="102.7" cy="304.7" r="1.6" fill="#7d54d6"/>
<circle cx="111.7" cy="317.9" r="1.6" fill="#7d54d6"/>
<circle cx="159.6" cy="295.5" r="1.6" fill="#f2ec6c"/>
<circle cx="71.1" cy="343.9" r="1.6" fill="#92cff4"/>
<circle cx="170.5" cy="298.1" r="1.6" fill="#7d54d6"/>
<circle cx="221.5" cy="341.1" r="1.6" fill="#7d54d6"/>
<circle cx="81.9" cy="290.4" r="1.6" fill="#7d54d6"/>
<circle cx="239.2" cy="321.7" r="1.6" fill="#f2ec6c"/>
<circle cx="63.4" cy="310.0" r="1.6" fill="#92cff4"/>
<circle cx="172.2" cy="325.1" r="1.6" fill="#7d54d6"/>
<circle cx="159.4" cy="329.7" r="1.6" fill="#7d54d6"/>
<circle cx="90.6" cy="379.0" r="1.6" fill="#92cff4"/>
<circle cx="18.6" cy="374.0" r="1.6" fill="#7d54d6"/>
<circle cx="152.9" cy="334.3" r="1.6" fill="#f2ec6c"/>
<circle cx="95.8" cy="369.0" r="1.6" fill="#f2ec6c"/>
<circle cx="163.7" cy="285.2" r="1.6" fill="#f2ec6c"/>
<circle cx="25.2" cy="289.6" r="1.6" fill="#f9af94"/>
<circle cx="161.8" cy="322.0" r="1.6" fill="#f9af94"/>
<circle cx="106.3" cy="348.1" r="1.6" fill="#f2ec6c"/>
<circle cx="4.0" cy="477.0" r="1.6" fill="#7d54d6"/>
<circle cx="105.9" cy="362.9" r="1.6" fill="#92cff4"/>
<circle cx="94.8" cy="330.9" r="1.6" fill="#92cff4"/>
<circle cx="151.6" cy="297.5" r="1.6" fill="#f2ec6c"/>
<circle cx="290.0" cy="416.7" r="1.6" fill="#7d54d6"/>
<circle cx="229.3" cy="346.6" r="1.6" fill="#7d54d6"/>
<circle cx="275.1" cy="365.4" r="1.6" fill="#7d54d6"/>
<circle cx="178.0" cy="367.8" r="1.6" fill="#7d54d6"/>
<circle cx="65.3" cy="331.8" r="1.6" fill="#92cff4"/>
<circle cx="143.2" cy="319.3" r="1.6" fill="#f2ec6c"/>
<circle cx="74.6" cy="341.0" r="1.6" fill="#92cff4"/>
<circle cx="137.8" cy="348.0" r="1.6" fill="#f2ec6c"/>
<circle cx="155.1" cy="294.4" r="1.6" fill="#7d54d6"/>
<circle cx="179.5" cy="294.8" r="1.6" fill="#f9af94"/>
<circle cx="189.7" cy="314.6" r="1.6" fill="#f9af94"/>
<circle cx="232.2" cy="344.9" r="1.6" fill="#f9af94"/>
<circle cx="104.2" cy="396.3" r="1.6" fill="#f2ec6c"/>
<circle cx="113.9" cy="377.2" r="1.6" fill="#f9af94"/>
<circle cx="170.4" cy="296.8" r="1.6" fill="#f9af94"/>
<circle cx="158.2" cy="301.5" r="1.6" fill="#f9af94"/>
<circle cx="22.5" cy="277.1" r="1.6" fill="#92cff4"/>
<circle cx="297.8" cy="413.4" r="1.6" fill="#7d54d6"/>
<circle cx="275.9" cy="319.7" r="1.6" fill="#7d54d6"/>
<circle cx="285.2" cy="381.6" r="1.6" fill="#7d54d6"/>
<circle cx="99.9" cy="347.5" r="1.6" fill="#f9af94"/>
<circle cx="163.8" cy="307.9" r="1.6" fill="#f9af94"/>
<circle cx="169.5" cy="302.3" r="1.6" fill="#7d54d6"/>
<circle cx="52.7" cy="283.5" r="1.6" fill="#f2ec6c"/>
<circle cx="152.0" cy="395.2" r="1.6" fill="#f2ec6c"/>
<circle cx="283.5" cy="377.4" r="1.6" fill="#7d54d6"/>
<circle cx="130.7" cy="331.7" r="1.6" fill="#7d54d6"/>
<circle cx="135.7" cy="304.0" r="1.6" fill="#7d54d6"/>
<circle cx="258.0" cy="337.9" r="1.6" fill="#f2ec6c"/>
<circle cx="180.9" cy="303.0" r="1.6" fill="#7d54d6"/>
<circle cx="230.3" cy="278.0" r="1.6" fill="#f9af94"/>
<circle cx="267.2" cy="369.1" r="1.6" fill="#7d54d6"/>
<circle cx="170.0" cy="281.6" r="1.6" fill="#7d54d6"/>
<circle cx="96.1" cy="404.7" r="1.6" fill="#7d54d6"/>
<circle cx="85.6" cy="303.1" r="1.6" fill="#92cff4"/>
<circle cx="69.1" cy="340.4" r="1.6" fill="#92cff4"/>
<circle cx="183.3" cy="326.5" r="1.6" fill="#f2ec6c"/>
<circle cx="151.5" cy="417.5" r="1.6" fill="#f2ec6c"/>
<circle cx="75.2" cy="343.8" r="1.6" fill="#7d54d6"/>
<circle cx="120.6" cy="318.3" r="1.6" fill="#7d54d6"/>
<circle cx="182.8" cy="315.4" r="1.6" fill="#7d54d6"/>
<circle cx="98.5" cy="362.2" r="1.6" fill="#92cff4"/>
<circle cx="62.3" cy="331.2" r="1.6" fill="#92cff4"/>
<circle cx="173.5" cy="318.6" r="1.6" fill="#7d54d6"/>
<circle cx="91.6" cy="357.2" r="1.6" fill="#92cff4"/>
<circle cx="248.7" cy="323.5" r="1.6" fill="#f2ec6c"/>
<circle cx="159.1" cy="294.5" r="1.6" fill="#f2ec6c"/>
<circle cx="147.2" cy="320.5" r="1.6" fill="#7d54d6"/>
<circle cx="85.5" cy="342.1" r="1.6" fill="#92cff4"/>
<circle cx="266.7" cy="320.8" r="1.6" fill="#f2ec6c"/>
<circle cx="174.3" cy="319.8" r="1.6" fill="#f9af94"/>
<circle cx="85.8" cy="311.0" r="1.6" fill="#f9af94"/>
<circle cx="55.1" cy="313.2" r="1.6" fill="#f9af94"/>
<circle cx="163.3" cy="322.9" r="1.6" fill="#f2ec6c"/>
<circle cx="71.1" cy="287.4" r="1.6" fill="#f9af94"/>
<circle cx="148.0" cy="310.4" r="1.6" fill="#7d54d6"/>
<circle cx="130.0" cy="329.0" r="1.6" fill="#f2ec6c"/>
<circle cx="247.2" cy="334.2" r="1.6" fill="#f2ec6c"/>
<circle cx="158.4" cy="303.3" r="1.6" fill="#f9af94"/>
<circle cx="148.6" cy="356.3" r="1.6" fill="#f9af94"/>
<circle cx="70.1" cy="309.1" r="1.6" fill="#92cff4"/>
<circle cx="100.3" cy="349.3" r="1.6" fill="#f2ec6c"/>
<circle cx="222.9" cy="340.0" r="1.6" fill="#7d54d6"/>
<circle cx="245.3" cy="332.7" r="1.6" fill="#7d54d6"/>
<circle cx="135.6" cy="374.7" r="1.6" fill="#f2ec6c"/>
<circle cx="149.0" cy="304.8" r="1.6" fill="#7d54d6"/>
<circle cx="94.1" cy="404.0" r="1.6" fill="#f2ec6c"/>
<circle cx="224.8" cy="322.7" r="1.6" fill="#f2ec6c"/>
<circle cx="111.2" cy="388.4" r="1.6" fill="#f2ec6c"/>
<circle cx="101.3" cy="298.5" r="1.6" fill="#7d54d6"/>
<circle cx="178.9" cy="320.6" r="1.6" fill="#f2ec6c"/>
<circle cx="254.9" cy="356.8" r="1.6" fill="#f9af94"/>
<circle cx="48.5" cy="304.2" r="1.6" fill="#f9af94"/>
<circle cx="42.0" cy="290.6" r="1.6" fill="#f9af94"/>
<circle cx="23.0" cy="290.1" r="1.6" fill="#92cff4"/>
<circle cx="245.0" cy="333.6" r="1.6" fill="#f9af94"/>
<circle cx="243.5" cy="363.6" r="1.6" fill="#f9af94"/>
<circle cx="29.1" cy="278.7" r="1.6" fill="#f9af94"/>
<circle cx="170.5" cy="312.6" r="1.6" fill="#7d54d6"/>
<circle cx="166.6" cy="295.8" r="1.6" fill="#f9af94"/>
<circle cx="52.5" cy="301.0" r="1.6" fill="#92cff4"/>
<circle cx="157.4" cy="302.5" r="1.6" fill="#f9af94"/>
<circle cx="170.6" cy="330.4" r="1.6" fill="#f9af94"/>
<circle cx="149.7" cy="292.6" r="1.6" fill="#7d54d6"/>
<circle cx="171.7" cy="345.7" r="1.6" fill="#7d54d6"/>
<circle cx="148.7" cy="299.0" r="1.6" fill="#7d54d6"/>
<circle cx="134.0" cy="274.0" r="1.6" fill="#f9af94"/>
<circle cx="278.1" cy="380.6" r="1.6" fill="#f2ec6c"/>
<circle cx="121.5" cy="295.0" r="1.6" fill="#7d54d6"/>
<circle cx="82.4" cy="324.0" r="1.6" fill="#f2ec6c"/>
<circle cx="278.4" cy="379.1" r="1.6" fill="#f9af94"/>
<circle cx="263.3" cy="329.9" r="1.6" fill="#f2ec6c"/>
<circle cx="62.1" cy="309.6" r="1.6" fill="#92cff4"/>
<circle cx="90.7" cy="360.7" r="1.6" fill="#f2ec6c"/>
<circle cx="150.6" cy="321.0" r="1.6" fill="#f2ec6c"/>
<circle cx="102.0" cy="304.4" r="1.6" fill="#7d54d6"/>
<circle cx="146.9" cy="276.8" r="1.6" fill="#7d54d6"/>
<circle cx="102.7" cy="377.3" r="1.6" fill="#f2ec6c"/>
<circle cx="248.6" cy="309.1" r="1.6" fill="#f9af94"/>
<circle cx="174.3" cy="284.0" r="1.6" fill="#f9af94"/>
<circle cx="264.8" cy="326.7" r="1.6" fill="#f2ec6c"/>
<circle cx="167.1" cy="323.3" r="1.6" fill="#7d54d6"/>
<circle cx="121.1" cy="375.8" r="1.6" fill="#f9af94"/>
<circle cx="187.5" cy="318.1" r="1.6" fill="#f2ec6c"/>
<circle cx="164.9" cy="323.0" r="1.6" fill="#7d54d6"/>
<circle cx="71.5" cy="334.4" r="1.6" fill="#f2ec6c"/>
<circle cx="138.5" cy="309.6" r="1.6" fill="#7d54d6"/>
<circle cx="161.2" cy="312.7" r="1.6" fill="#f9af94"/>
<circle cx="258.3" cy="316.3" r="1.6" fill="#f2ec6c"/>
<circle cx="257.2" cy="339.3" r="1.6" fill="#f2ec6c"/>
<circle cx="25.4" cy="464.7" r="1.6" fill="#7d54d6"/>
<circle cx="69.6" cy="282.1" r="1.6" fill="#92cff4"/>
<circle cx="73.1" cy="331.6" r="1.6" fill="#92cff4"/>
<circle cx="169.5" cy="247.5" r="1.6" fill="#f2ec6c"/>
<circle cx="173.2" cy="294.1" r="1.6" fill="#f9af94"/>
<circle cx="245.5" cy="333.9" r="1.6" fill="#f2ec6c"/>
<circle cx="286.0" cy="356.0" r="1.6" fill="#f2ec6c"/>
<circle cx="218.1" cy="332.5" r="1.6" fill="#7d54d6"/>
<circle cx="92.5" cy="358.0" r="1.6" fill="#92cff4"/>
<circle cx="246.2" cy="348.7" r="1.6" fill="#f2ec6c"/>
<circle cx="162.8" cy="322.2" r="1.6" fill="#f9af94"/>
<circle cx="275.7" cy="364.0" r="1.6" fill="#7d54d6"/>
<circle cx="109.6" cy="391.6" r="1.6" fill="#f9af94"/>
<circle cx="258.4" cy="349.8" r="1.6" fill="#f2ec6c"/>
<circle cx="88.4" cy="369.9" r="1.6" fill="#f9af94"/>
<circle cx="29.8" cy="277.5" r="1.6" fill="#f9af94"/>
<circle cx="176.0" cy="287.9" r="1.6" fill="#f9af94"/>
<circle cx="106.1" cy="397.8" r="1.6" fill="#f9af94"/>
<circle cx="271.1" cy="373.8" r="1.6" fill="#f2ec6c"/>
<circle cx="52.6" cy="315.1" r="1.6" fill="#92cff4"/>
<circle cx="62.4" cy="302.8" r="1.6" fill="#92cff4"/>
<circle cx="59.6" cy="290.8" r="1.6" fill="#92cff4"/>
<circle cx="123.1" cy="365.0" r="1.6" fill="#f2ec6c"/>
<circle cx="281.0" cy="316.5" r="1.6" fill="#7d54d6"/>
<circle cx="143.0" cy="299.1" r="1.6" fill="#7d54d6"/>
<circle cx="148.1" cy="300.8" r="1.6" fill="#f2ec6c"/>
<circle cx="204.0" cy="350.2" r="1.6" fill="#7d54d6"/>
<circle cx="62.9" cy="278.7" r="1.6" fill="#92cff4"/>
<circle cx="254.0" cy="325.2" r="1.6" fill="#f2ec6c"/>
<circle cx="211.5" cy="328.4" r="1.6" fill="#f9af94"/>
<circle cx="90.6" cy="309.9" r="1.6" fill="#92cff4"/>
<circle cx="97.6" cy="412.0" r="1.6" fill="#f9af94"/>
<circle cx="175.5" cy="305.0" r="1.6" fill="#f9af94"/>
<circle cx="162.4" cy="288.9" r="1.6" fill="#f9af94"/>
<circle cx="98.6" cy="375.3" r="1.6" fill="#92cff4"/>
<circle cx="51.9" cy="310.9" r="1.6" fill="#f9af94"/>
<circle cx="162.4" cy="332.1" r="1.6" fill="#f9af94"/>
<circle cx="84.0" cy="330.8" r="1.6" fill="#f9af94"/>
<circle cx="84.1" cy="324.2" r="1.6" fill="#f2ec6c"/>
<circle cx="249.5" cy="341.3" r="1.6" fill="#f2ec6c"/>
<circle cx="276.8" cy="389.8" r="1.6" fill="#7d54d6"/>
<circle cx="149.4" cy="314.3" r="1.6" fill="#f2ec6c"/>
<circle cx="277.2" cy="365.4" r="1.6" fill="#f2ec6c"/>
<circle cx="222.7" cy="324.0" r="1.6" fill="#f9af94"/>
<circle cx="48.4" cy="304.3" r="1.6" fill="#92cff4"/>
<circle cx="93.4" cy="391.5" r="1.6" fill="#7d54d6"/>
<circle cx="44.9" cy="273.7" r="1.6" fill="#92cff4"/>
<circle cx="178.1" cy="356.5" r="1.6" fill="#f9af94"/>
<circle cx="283.9" cy="316.3" r="1.6" fill="#f9af94"/>
<circle cx="139.9" cy="355.1" r="1.6" fill="#f2ec6c"/>
<circle cx="208.4" cy="332.6" r="1.6" fill="#f9af94"/>
<circle cx="259.8" cy="330.1" r="1.6" fill="#7d54d6"/>
<circle cx="87.1" cy="332.4" r="1.6" fill="#92cff4"/>
<circle cx="63.6" cy="289.8" r="1.6" fill="#92cff4"/>
<circle cx="178.3" cy="292.3" r="1.6" fill="#f9af94"/>
<circle cx="282.5" cy="388.0" r="1.6" fill="#7d54d6"/>
<circle cx="50.9" cy="296.8" r="1.6" fill="#f9af94"/>
<circle cx="297.0" cy="470.5" r="1.6" fill="#7d54d6"/>
<circle cx="42.3" cy="296.9" r="1.6" fill="#f9af94"/>
<circle cx="273.6" cy="377.9" r="1.6" fill="#7d54d6"/>
<circle cx="238.9" cy="325.6" r="1.6" fill="#f2ec6c"/>
<circle cx="174.2" cy="301.1" r="1.6" fill="#f2ec6c"/>
<circle cx="85.5" cy="327.6" r="1.6" fill="#92cff4"/>
<circle cx="168.5" cy="380.9" r="1.6" fill="#7d54d6"/>
<circle cx="101.3" cy="359.2" r="1.6" fill="#7d54d6"/>
<circle cx="264.8" cy="335.7" r="1.6" fill="#f9af94"/>
<circle cx="139.9" cy="343.5" r="1.6" fill="#f2ec6c"/>
<circle cx="227.5" cy="319.3" r="1.6" fill="#f2ec6c"/>
<circle cx="97.0" cy="318.5" r="1.6" fill="#92cff4"/>
<circle cx="91.8" cy="332.4" r="1.6" fill="#7d54d6"/>
<circle cx="183.5" cy="313.2" r="1.6" fill="#f2ec6c"/>
<circle cx="23.5" cy="288.1" r="1.6" fill="#92cff4"/>
<circle cx="167.7" cy="312.6" r="1.6" fill="#f9af94"/>
<circle cx="99.4" cy="345.5" r="1.6" fill="#f9af94"/>
<circle cx="140.4" cy="349.6" r="1.6" fill="#f2ec6c"/>
<circle cx="153.3" cy="327.4" r="1.6" fill="#f9af94"/>
<circle cx="95.0" cy="265.0" r="1.6" fill="#92cff4"/>
<circle cx="83.7" cy="343.2" r="1.6" fill="#f9af94"/>
<circle cx="87.2" cy="316.0" r="1.6" fill="#92cff4"/>
<circle cx="63.3" cy="314.8" r="1.6" fill="#92cff4"/>
<circle cx="96.4" cy="409.9" r="1.6" fill="#f2ec6c"/>
<circle cx="81.5" cy="311.3" r="1.6" fill="#92cff4"/>
<circle cx="167.4" cy="308.6" r="1.6" fill="#f2ec6c"/>
<circle cx="241.5" cy="329.7" r="1.6" fill="#f2ec6c"/>
<circle cx="177.4" cy="298.6" r="1.6" fill="#f9af94"/>
<circle cx="66.6" cy="326.3" r="1.6" fill="#92cff4"/>
<circle cx="215.1" cy="328.2" r="1.6" fill="#f9af94"/>
<circle cx="57.9" cy="312.6" r="1.6" fill="#92cff4"/>
<circle cx="33.1" cy="278.3" r="1.6" fill="#92cff4"/>
<circle cx="191.1" cy="333.6" r="1.6" fill="#f9af94"/>
<circle cx="221.8" cy="388.2" r="1.6" fill="#f2ec6c"/>
<circle cx="56.5" cy="318.7" r="1.6" fill="#92cff4"/>
<circle cx="78.1" cy="322.3" r="1.6" fill="#f2ec6c"/>
<circle cx="93.1" cy="320.4" r="1.6" fill="#7d54d6"/>
<circle cx="100.2" cy="371.8" r="1.6" fill="#7d54d6"/>
<circle cx="254.2" cy="358.2" r="1.6" fill="#f2ec6c"/>
<circle cx="57.5" cy="318.6" r="1.6" fill="#f9af94"/>
<circle cx="94.8" cy="306.0" r="1.6" fill="#92cff4"/>
<circle cx="274.8" cy="392.0" r="1.6" fill="#7d54d6"/>
<circle cx="109.2" cy="358.4" r="1.6" fill="#7d54d6"/>
<circle cx="72.2" cy="323.9" r="1.6" fill="#92cff4"/>
<circle cx="154.1" cy="309.7" r="1.6" fill="#7d54d6"/>
<circle cx="85.5" cy="315.2" r="1.6" fill="#92cff4"/>
<circle cx="37.5" cy="290.1" r="1.6" fill="#92cff4"/>
<circle cx="62.5" cy="317.5" r="1.6" fill="#f9af94"/>
<circle cx="249.4" cy="326.7" r="1.6" fill="#f2ec6c"/>
<circle cx="222.6" cy="341.6" r="1.6" fill="#f9af94"/>
<circle cx="178.7" cy="293.4" r="1.6" fill="#f9af94"/>
<circle cx="202.6" cy="380.0" r="1.6" fill="#f9af94"/>
<circle cx="184.6" cy="301.4" r="1.6" fill="#f2ec6c"/>
<circle cx="148.6" cy="307.6" r="1.6" fill="#f2ec6c"/>
<circle cx="198.0" cy="303.0" r="1.6" fill="#f9af94"/>
<circle cx="34.2" cy="282.3" r="1.6" fill="#92cff4"/>
<circle cx="86.3" cy="360.5" r="1.6" fill="#7d54d6"/>
<circle cx="77.4" cy="328.9" r="1.6" fill="#f2ec6c"/>
<circle cx="185.9" cy="311.5" r="1.6" fill="#7d54d6"/>
<circle cx="187.4" cy="300.3" r="1.6" fill="#7d54d6"/>
<circle cx="83.7" cy="321.3" r="1.6" fill="#f9af94"/>
<circle cx="101.6" cy="301.6" r="1.6" fill="#f9af94"/>
<circle cx="95.8" cy="365.6" r="1.6" fill="#7d54d6"/>
<circle cx="259.4" cy="329.4" r="1.6" fill="#f9af94"/>
<circle cx="166.2" cy="296.9" r="1.6" fill="#f9af94"/>
<circle cx="73.0" cy="343.2" r="1.6" fill="#f9af94"/>
<circle cx="30.4" cy="287.5" r="1.6" fill="#92cff4"/>
<circle cx="100.4" cy="308.2" r="1.6" fill="#7d54d6"/>
<circle cx="91.7" cy="365.6" r="1.6" fill="#92cff4"/>
<circle cx="120.5" cy="369.4" r="1.6" fill="#92cff4"/>
<circle cx="296.0" cy="352.0" r="1.6" fill="#f2ec6c"/>
<circle cx="71.4" cy="341.7" r="1.6" fill="#92cff4"/>
<circle cx="167.1" cy="331.9" r="1.6" fill="#f9af94"/>
<circle cx="128.1" cy="399.6" r="1.6" fill="#f2ec6c"/>
<circle cx="256.6" cy="324.2" r="1.6" fill="#f2ec6c"/>
<circle cx="168.5" cy="295.8" r="1.6" fill="#f9af94"/>
<circle cx="94.4" cy="359.9" r="1.6" fill="#f9af94"/>
<circle cx="105.8" cy="308.3" r="1.6" fill="#92cff4"/>
<circle cx="302.0" cy="376.0" r="1.6" fill="#7d54d6"/>
<circle cx="305.2" cy="398.8" r="1.6" fill="#7d54d6"/>
<circle cx="18.1" cy="276.2" r="1.6" fill="#92cff4"/>
<circle cx="180.8" cy="289.9" r="1.6" fill="#f2ec6c"/>
<circle cx="116.5" cy="368.1" r="1.6" fill="#92cff4"/>
<circle cx="301.0" cy="380.0" r="1.6" fill="#7d54d6"/>
<circle cx="277.9" cy="391.8" r="1.6" fill="#f9af94"/>
<circle cx="54.6" cy="287.9" r="1.6" fill="#92cff4"/>
<circle cx="102.3" cy="386.2" r="1.6" fill="#f9af94"/>
<circle cx="238.1" cy="336.7" r="1.6" fill="#f2ec6c"/>
<circle cx="193.9" cy="384.8" r="1.6" fill="#f9af94"/>
<circle cx="51.7" cy="286.0" r="1.6" fill="#92cff4"/>
<circle cx="264.2" cy="336.9" r="1.6" fill="#f9af94"/>
<circle cx="253.0" cy="389.6" r="1.6" fill="#f2ec6c"/>
<circle cx="157.7" cy="298.3" r="1.6" fill="#f9af94"/>
<circle cx="92.0" cy="341.6" r="1.6" fill="#92cff4"/>
<circle cx="259.2" cy="348.4" r="1.6" fill="#f2ec6c"/>
<circle cx="78.1" cy="316.3" r="1.6" fill="#92cff4"/>
<circle cx="190.7" cy="282.2" r="1.6" fill="#f2ec6c"/>
<circle cx="173.5" cy="293.7" r="1.6" fill="#f9af94"/>
<circle cx="181.1" cy="355.2" r="1.6" fill="#f9af94"/>
<circle cx="262.9" cy="361.0" r="1.6" fill="#7d54d6"/>
<circle cx="134.2" cy="350.1" r="1.6" fill="#f2ec6c"/>
<circle cx="94.9" cy="390.8" r="1.6" fill="#7d54d6"/>
<circle cx="51.7" cy="308.7" r="1.6" fill="#f9af94"/>
<circle cx="76.6" cy="321.5" r="1.6" fill="#f9af94"/>
<circle cx="150.8" cy="308.9" r="1.6" fill="#7d54d6"/>
<circle cx="70.3" cy="308.5" r="1.6" fill="#92cff4"/>
<circle cx="62.6" cy="320.0" r="1.6" fill="#f9af94"/>
<circle cx="206.5" cy="293.7" r="1.6" fill="#f9af94"/>
<circle cx="92.3" cy="396.6" r="1.6" fill="#f9af94"/>
<circle cx="221.2" cy="349.0" r="1.6" fill="#7d54d6"/>
<circle cx="126.1" cy="373.2" r="1.6" fill="#7d54d6"/>
<circle cx="255.0" cy="381.0" r="1.6" fill="#7d54d6"/>
<circle cx="185.2" cy="284.4" r="1.6" fill="#7d54d6"/>
<circle cx="148.2" cy="321.3" r="1.6" fill="#f2ec6c"/>
<circle cx="83.1" cy="341.2" r="1.6" fill="#92cff4"/>
<circle cx="105.9" cy="380.4" r="1.6" fill="#f2ec6c"/>
<circle cx="252.7" cy="352.8" r="1.6" fill="#f2ec6c"/>
<circle cx="71.2" cy="305.2" r="1.6" fill="#f9af94"/>
<circle cx="35.3" cy="288.0" r="1.6" fill="#7d54d6"/>
<circle cx="253.9" cy="392.5" r="1.6" fill="#f9af94"/>
<circle cx="174.4" cy="297.9" r="1.6" fill="#f9af94"/>
<circle cx="166.0" cy="296.7" r="1.6" fill="#7d54d6"/>
<circle cx="179.2" cy="298.3" r="1.6" fill="#7d54d6"/>
<circle cx="110.5" cy="375.2" r="1.6" fill="#f2ec6c"/>
<circle cx="255.3" cy="306.4" r="1.6" fill="#f9af94"/>
<circle cx="93.9" cy="357.4" r="1.6" fill="#f2ec6c"/>
<circle cx="279.0" cy="372.4" r="1.6" fill="#f2ec6c"/>
<circle cx="123.6" cy="370.5" r="1.6" fill="#f9af94"/>
<circle cx="264.9" cy="309.0" r="1.6" fill="#f2ec6c"/>
<circle cx="164.5" cy="292.7" r="1.6" fill="#f9af94"/>
<circle cx="170.1" cy="328.8" r="1.6" fill="#f9af94"/>
<circle cx="201.0" cy="301.0" r="1.6" fill="#f9af94"/>
<circle cx="230.5" cy="340.1" r="1.6" fill="#f9af94"/>
<circle cx="49.8" cy="316.5" r="1.6" fill="#7d54d6"/>
<circle cx="145.4" cy="324.9" r="1.6" fill="#7d54d6"/>
<circle cx="264.4" cy="363.0" r="1.6" fill="#7d54d6"/>
<circle cx="98.3" cy="371.2" r="1.6" fill="#92cff4"/>
<circle cx="110.3" cy="383.3" r="1.6" fill="#f9af94"/>
<circle cx="32.5" cy="293.5" r="1.6" fill="#92cff4"/>
<circle cx="163.2" cy="328.9" r="1.6" fill="#f9af94"/>
<circle cx="96.5" cy="255.0" r="1.6" fill="#7d54d6"/>
<circle cx="308.0" cy="379.0" r="1.6" fill="#7d54d6"/>
<circle cx="169.5" cy="303.3" r="1.6" fill="#f9af94"/>
<circle cx="198.6" cy="323.9" r="1.6" fill="#f9af94"/>
<circle cx="45.1" cy="305.7" r="1.6" fill="#92cff4"/>
<circle cx="76.9" cy="323.9" r="1.6" fill="#f2ec6c"/>
<circle cx="34.5" cy="273.6" r="1.6" fill="#f9af94"/>
<circle cx="292.0" cy="356.5" r="1.6" fill="#f2ec6c"/>
<circle cx="97.3" cy="312.2" r="1.6" fill="#92cff4"/>
<circle cx="93.1" cy="303.8" r="1.6" fill="#f2ec6c"/>
<circle cx="246.7" cy="337.1" r="1.6" fill="#f2ec6c"/>
<circle cx="246.7" cy="337.7" r="1.6" fill="#f2ec6c"/>
<circle cx="76.3" cy="328.3" r="1.6" fill="#f2ec6c"/>
<circle cx="123.9" cy="368.6" r="1.6" fill="#f9af94"/>
<circle cx="168.1" cy="315.6" r="1.6" fill="#7d54d6"/>
<circle cx="168.4" cy="377.2" r="1.6" fill="#7d54d6"/>
<circle cx="54.1" cy="288.0" r="1.6" fill="#92cff4"/>
<circle cx="263.0" cy="332.7" r="1.6" fill="#f2ec6c"/>
<circle cx="182.6" cy="372.1" r="1.6" fill="#f9af94"/>
<circle cx="157.8" cy="350.6" r="1.6" fill="#f9af94"/>
<circle cx="241.5" cy="356.8" r="1.6" fill="#f9af94"/>
<circle cx="100.7" cy="359.7" r="1.6" fill="#f9af94"/>
<circle cx="148.5" cy="306.8" r="1.6" fill="#7d54d6"/>
<circle cx="106.7" cy="349.3" r="1.6" fill="#f2ec6c"/>
<circle cx="281.1" cy="385.8" r="1.6" fill="#7d54d6"/>
<circle cx="189.8" cy="413.5" r="1.6" fill="#7d54d6"/>
<circle cx="185.1" cy="363.6" r="1.6" fill="#f2ec6c"/>
<circle cx="191.5" cy="320.1" r="1.6" fill="#f9af94"/>
<circle cx="136.5" cy="347.0" r="1.6" fill="#f9af94"/>
<circle cx="173.4" cy="381.9" r="1.6" fill="#f2ec6c"/>
<circle cx="185.9" cy="302.2" r="1.6" fill="#7d54d6"/>
<circle cx="59.1" cy="293.1" r="1.6" fill="#92cff4"/>
<circle cx="174.2" cy="295.8" r="1.6" fill="#f2ec6c"/>
<circle cx="72.3" cy="342.2" r="1.6" fill="#92cff4"/>
<circle cx="142.2" cy="327.1" r="1.6" fill="#f2ec6c"/>
<circle cx="203.0" cy="305.0" r="1.6" fill="#f9af94"/>
<circle cx="110.0" cy="268.0" r="1.6" fill="#7d54d6"/>
<circle cx="201.0" cy="300.0" r="1.6" fill="#f2ec6c"/>
<circle cx="285.2" cy="390.7" r="1.6" fill="#7d54d6"/>
<circle cx="91.1" cy="321.9" r="1.6" fill="#f2ec6c"/>
<circle cx="158.5" cy="322.9" r="1.6" fill="#f2ec6c"/>
<circle cx="88.2" cy="370.8" r="1.6" fill="#92cff4"/>
<circle cx="250.2" cy="317.3" r="1.6" fill="#f9af94"/>
<circle cx="83.8" cy="301.9" r="1.6" fill="#92cff4"/>
<circle cx="232.9" cy="338.0" r="1.6" fill="#f9af94"/>
<circle cx="176.3" cy="334.6" r="1.6" fill="#f9af94"/>
<circle cx="80.3" cy="293.6" r="1.6" fill="#7d54d6"/>
<circle cx="154.2" cy="348.5" r="1.6" fill="#f9af94"/>
<circle cx="81.9" cy="313.7" r="1.6" fill="#92cff4"/>
<circle cx="156.6" cy="295.6" r="1.6" fill="#f9af94"/>
<circle cx="52.3" cy="316.3" r="1.6" fill="#92cff4"/>
<circle cx="89.6" cy="344.2" r="1.6" fill="#92cff4"/>
<circle cx="164.1" cy="303.0" r="1.6" fill="#f9af94"/>
<circle cx="141.0" cy="286.0" r="1.6" fill="#f9af94"/>
<circle cx="69.8" cy="313.5" r="1.6" fill="#f2ec6c"/>
<circle cx="105.9" cy="311.3" r="1.6" fill="#7d54d6"/>
<circle cx="182.5" cy="361.8" r="1.6" fill="#f9af94"/>
<circle cx="269.9" cy="368.0" r="1.6" fill="#7d54d6"/>
<circle cx="162.1" cy="302.9" r="1.6" fill="#f9af94"/>
<circle cx="98.5" cy="331.0" r="1.6" fill="#f2ec6c"/>
<circle cx="98.2" cy="363.5" r="1.6" fill="#f2ec6c"/>
<circle cx="48.1" cy="305.7" r="1.6" fill="#92cff4"/>
<circle cx="28.0" cy="375.5" r="1.6" fill="#7d54d6"/>
<circle cx="261.8" cy="317.3" r="1.6" fill="#f2ec6c"/>
<circle cx="7.1" cy="287.7" r="1.6" fill="#7d54d6"/>
<circle cx="298.6" cy="411.5" r="1.6" fill="#7d54d6"/>
<circle cx="85.0" cy="310.3" r="1.6" fill="#92cff4"/>
<circle cx="243.5" cy="320.5" r="1.6" fill="#f2ec6c"/>
<circle cx="71.8" cy="346.6" r="1.6" fill="#f9af94"/>
<circle cx="104.7" cy="382.4" r="1.6" fill="#f2ec6c"/>
<circle cx="246.5" cy="318.3" r="1.6" fill="#f2ec6c"/>
<circle cx="79.5" cy="331.3" r="1.6" fill="#92cff4"/>
<circle cx="180.7" cy="335.9" r="1.6" fill="#f9af94"/>
<circle cx="65.5" cy="342.8" r="1.6" fill="#f9af94"/>
<circle cx="299.5" cy="306.0" r="1.6" fill="#7d54d6"/>
<circle cx="98.0" cy="253.0" r="1.6" fill="#7d54d6"/>
<circle cx="101.5" cy="317.7" r="1.6" fill="#7d54d6"/>
<circle cx="162.5" cy="330.2" r="1.6" fill="#f9af94"/>
<circle cx="170.9" cy="331.8" r="1.6" fill="#f2ec6c"/>
<circle cx="260.6" cy="343.5" r="1.6" fill="#f2ec6c"/>
<circle cx="65.7" cy="318.4" r="1.6" fill="#92cff4"/>
<circle cx="77.4" cy="344.4" r="1.6" fill="#f9af94"/>
<circle cx="259.7" cy="347.6" r="1.6" fill="#f2ec6c"/>
<circle cx="243.5" cy="339.8" r="1.6" fill="#f9af94"/>
<circle cx="261.7" cy="333.1" r="1.6" fill="#f2ec6c"/>
<circle cx="172.6" cy="300.4" r="1.6" fill="#f9af94"/>
<circle cx="181.3" cy="330.9" r="1.6" fill="#f9af94"/>
<circle cx="104.3" cy="305.4" r="1.6" fill="#92cff4"/>
<circle cx="92.5" cy="377.6" r="1.6" fill="#f2ec6c"/>
<circle cx="160.6" cy="349.4" r="1.6" fill="#f9af94"/>
<circle cx="74.3" cy="343.9" r="1.6" fill="#7d54d6"/>
<circle cx="66.3" cy="307.5" r="1.6" fill="#92cff4"/>
<circle cx="183.8" cy="274.5" r="1.6" fill="#f2ec6c"/>
<circle cx="218.9" cy="333.9" r="1.6" fill="#f9af94"/>
<circle cx="111.7" cy="315.0" r="1.6" fill="#7d54d6"/>
<circle cx="214.3" cy="410.4" r="1.6" fill="#7d54d6"/>
<circle cx="101.1" cy="286.1" r="1.6" fill="#92cff4"/>
<circle cx="275.7" cy="394.6" r="1.6" fill="#f2ec6c"/>
<circle cx="59.9" cy="340.9" r="1.6" fill="#7d54d6"/>
<circle cx="238.3" cy="333.4" r="1.6" fill="#7d54d6"/>
<circle cx="77.5" cy="343.9" r="1.6" fill="#f9af94"/>
<circle cx="133.0" cy="347.5" r="1.6" fill="#f9af94"/>
<circle cx="239.6" cy="333.5" r="1.6" fill="#7d54d6"/>
<circle cx="23.0" cy="466.0" r="1.6" fill="#7d54d6"/>
<circle cx="99.0" cy="288.7" r="1.6" fill="#92cff4"/>
<circle cx="55.1" cy="316.7" r="1.6" fill="#92cff4"/>
<circle cx="162.7" cy="331.3" r="1.6" fill="#f9af94"/>
<circle cx="259.1" cy="352.8" r="1.6" fill="#f2ec6c"/>
<circle cx="103.5" cy="387.8" r="1.6" fill="#f9af94"/>
<circle cx="153.0" cy="307.0" r="1.6" fill="#f9af94"/>
<circle cx="149.6" cy="319.4" r="1.6" fill="#f2ec6c"/>
<circle cx="53.1" cy="332.1" r="1.6" fill="#f9af94"/>
<circle cx="282.4" cy="370.7" r="1.6" fill="#f2ec6c"/>
<circle cx="102.3" cy="349.4" r="1.6" fill="#f2ec6c"/>
<circle cx="269.0" cy="356.0" r="1.6" fill="#f2ec6c"/>
<circle cx="157.3" cy="355.9" r="1.6" fill="#f9af94"/>
<circle cx="83.6" cy="313.8" r="1.6" fill="#92cff4"/>
<circle cx="89.2" cy="325.8" r="1.6" fill="#92cff4"/>
<circle cx="247.3" cy="333.9" r="1.6" fill="#f2ec6c"/>
<circle cx="106.3" cy="392.2" r="1.6" fill="#f9af94"/>
<circle cx="154.6" cy="298.2" r="1.6" fill="#f9af94"/>
<circle cx="79.1" cy="305.7" r="1.6" fill="#f9af94"/>
<circle cx="235.6" cy="339.7" r="1.6" fill="#f2ec6c"/>
<circle cx="183.3" cy="296.2" r="1.6" fill="#f9af94"/>
<circle cx="172.6" cy="293.3" r="1.6" fill="#f9af94"/>
<circle cx="93.0" cy="354.7" r="1.6" fill="#7d54d6"/>
<circle cx="163.5" cy="319.1" r="1.6" fill="#f9af94"/>
<circle cx="63.6" cy="277.8" r="1.6" fill="#92cff4"/>
<circle cx="282.8" cy="400.2" r="1.6" fill="#7d54d6"/>
<circle cx="257.1" cy="386.4" r="1.6" fill="#7d54d6"/>
<circle cx="22.0" cy="376.0" r="1.6" fill="#7d54d6"/>
<circle cx="278.2" cy="316.4" r="1.6" fill="#7d54d6"/>
<circle cx="159.3" cy="296.7" r="1.6" fill="#f9af94"/>
<circle cx="203.0" cy="297.0" r="1.6" fill="#f9af94"/>
<circle cx="49.5" cy="305.5" r="1.6" fill="#92cff4"/>
<circle cx="106.0" cy="436.0" r="1.6" fill="#7d54d6"/>
<circle cx="93.1" cy="316.7" r="1.6" fill="#f2ec6c"/>
<circle cx="164.1" cy="350.1" r="1.6" fill="#f2ec6c"/>
<circle cx="277.1" cy="328.1" r="1.6" fill="#f9af94"/>
<circle cx="98.7" cy="311.0" r="1.6" fill="#92cff4"/>
<circle cx="185.4" cy="284.9" r="1.6" fill="#f2ec6c"/>
<circle cx="100.7" cy="314.2" r="1.6" fill="#7d54d6"/>
<circle cx="146.0" cy="323.5" r="1.6" fill="#7d54d6"/>
<circle cx="94.5" cy="374.4" r="1.6" fill="#92cff4"/>
<circle cx="65.7" cy="339.6" r="1.6" fill="#f9af94"/>
<circle cx="51.9" cy="275.7" r="1.6" fill="#f9af94"/>
<circle cx="227.4" cy="302.8" r="1.6" fill="#f9af94"/>
<circle cx="60.9" cy="314.1" r="1.6" fill="#f9af94"/>
<circle cx="81.1" cy="315.8" r="1.6" fill="#92cff4"/>
<circle cx="178.6" cy="325.4" r="1.6" fill="#7d54d6"/>
<circle cx="118.5" cy="371.2" r="1.6" fill="#f2ec6c"/>
<circle cx="250.9" cy="306.8" r="1.6" fill="#f9af94"/>
<circle cx="227.0" cy="338.3" r="1.6" fill="#f2ec6c"/>
<circle cx="89.1" cy="342.6" r="1.6" fill="#f9af94"/>
<circle cx="180.7" cy="296.7" r="1.6" fill="#7d54d6"/>
<circle cx="61.8" cy="341.7" r="1.6" fill="#f9af94"/>
<circle cx="184.4" cy="296.3" r="1.6" fill="#f2ec6c"/>
<circle cx="242.7" cy="341.1" r="1.6" fill="#f9af94"/>
<circle cx="178.6" cy="294.2" r="1.6" fill="#f9af94"/>
<circle cx="60.6" cy="310.1" r="1.6" fill="#92cff4"/>
<circle cx="112.6" cy="388.7" r="1.6" fill="#f2ec6c"/>
<circle cx="281.1" cy="370.4" r="1.6" fill="#7d54d6"/>
<circle cx="219.5" cy="324.7" r="1.6" fill="#f2ec6c"/>
<circle cx="68.0" cy="293.5" r="1.6" fill="#f9af94"/>
<circle cx="77.8" cy="322.9" r="1.6" fill="#f9af94"/>
<circle cx="216.1" cy="327.4" r="1.6" fill="#f9af94"/>
<circle cx="261.9" cy="340.4" r="1.6" fill="#f9af94"/>
<circle cx="187.1" cy="355.7" r="1.6" fill="#f9af94"/>
<circle cx="136.5" cy="332.0" r="1.6" fill="#f2ec6c"/>
<circle cx="96.5" cy="317.3" r="1.6" fill="#f2ec6c"/>
<circle cx="170.0" cy="319.4" r="1.6" fill="#f9af94"/>
<circle cx="256.1" cy="304.8" r="1.6" fill="#f2ec6c"/>
<circle cx="246.8" cy="319.7" r="1.6" fill="#f9af94"/>
<circle cx="285.8" cy="396.9" r="1.6" fill="#7d54d6"/>
<circle cx="164.1" cy="293.6" r="1.6" fill="#f2ec6c"/>
<circle cx="182.5" cy="391.3" r="1.6" fill="#7d54d6"/>
<circle cx="111.9" cy="365.8" r="1.6" fill="#f2ec6c"/>
<circle cx="92.3" cy="344.5" r="1.6" fill="#f9af94"/>
<circle cx="84.9" cy="315.0" r="1.6" fill="#92cff4"/>
<circle cx="163.7" cy="309.7" r="1.6" fill="#f2ec6c"/>
<circle cx="142.0" cy="357.0" r="1.6" fill="#f2ec6c"/>
<circle cx="174.9" cy="329.1" r="1.6" fill="#f9af94"/>
<circle cx="87.6" cy="344.0" r="1.6" fill="#f2ec6c"/>
<circle cx="58.0" cy="315.4" r="1.6" fill="#92cff4"/>
<circle cx="153.7" cy="326.7" r="1.6" fill="#f2ec6c"/>
<circle cx="81.0" cy="259.0" r="1.6" fill="#7d54d6"/>
<circle cx="281.1" cy="318.6" r="1.6" fill="#7d54d6"/>
<circle cx="98.2" cy="283.7" r="1.6" fill="#92cff4"/>
<circle cx="189.8" cy="301.1" r="1.6" fill="#f9af94"/>
<circle cx="299.0" cy="354.0" r="1.6" fill="#f2ec6c"/>
<circle cx="94.2" cy="316.5" r="1.6" fill="#92cff4"/>
<circle cx="53.2" cy="315.9" r="1.6" fill="#f9af94"/>
<circle cx="91.3" cy="364.4" r="1.6" fill="#92cff4"/>
<circle cx="94.9" cy="322.5" r="1.6" fill="#92cff4"/>
<circle cx="225.6" cy="340.6" r="1.6" fill="#f9af94"/>
<circle cx="87.5" cy="316.7" r="1.6" fill="#92cff4"/>
<circle cx="80.5" cy="350.8" r="1.6" fill="#92cff4"/>
<circle cx="143.5" cy="300.1" r="1.6" fill="#7d54d6"/>
<circle cx="147.8" cy="373.4" r="1.6" fill="#f2ec6c"/>
<circle cx="240.5" cy="361.0" r="1.6" fill="#f2ec6c"/>
<circle cx="107.4" cy="310.3" r="1.6" fill="#7d54d6"/>
<circle cx="68.7" cy="320.4" r="1.6" fill="#92cff4"/>
<circle cx="99.5" cy="349.9" r="1.6" fill="#f9af94"/>
<circle cx="57.0" cy="283.1" r="1.6" fill="#92cff4"/>
<circle cx="185.1" cy="296.9" r="1.6" fill="#f9af94"/>
<circle cx="86.6" cy="349.9" r="1.6" fill="#92cff4"/>
<circle cx="67.9" cy="327.7" r="1.6" fill="#92cff4"/>
<circle cx="141.1" cy="354.1" r="1.6" fill="#7d54d6"/>
<circle cx="9.7" cy="302.4" r="1.6" fill="#7d54d6"/>
<circle cx="137.0" cy="281.0" r="1.6" fill="#f9af94"/>
<circle cx="153.5" cy="317.6" r="1.6" fill="#f9af94"/>
<circle cx="168.2" cy="325.7" r="1.6" fill="#f9af94"/>
<circle cx="94.4" cy="372.5" r="1.6" fill="#92cff4"/>
<circle cx="77.4" cy="327.9" r="1.6" fill="#92cff4"/>
<circle cx="166.1" cy="382.1" r="1.6" fill="#f9af94"/>
<circle cx="282.7" cy="398.9" r="1.6" fill="#7d54d6"/>
<circle cx="191.9" cy="306.8" r="1.6" fill="#f2ec6c"/>
<circle cx="80.4" cy="310.9" r="1.6" fill="#92cff4"/>
<circle cx="77.2" cy="316.0" r="1.6" fill="#92cff4"/>
<circle cx="162.2" cy="296.5" r="1.6" fill="#f2ec6c"/>
<circle cx="260.4" cy="347.7" r="1.6" fill="#f2ec6c"/>
<circle cx="244.6" cy="355.5" r="1.6" fill="#f9af94"/>
<circle cx="55.7" cy="309.7" r="1.6" fill="#f9af94"/>
<circle cx="13.4" cy="341.0" r="1.6" fill="#7d54d6"/>
<circle cx="135.0" cy="312.3" r="1.6" fill="#7d54d6"/>
<circle cx="101.6" cy="300.5" r="1.6" fill="#92cff4"/>
<circle cx="247.5" cy="325.9" r="1.6" fill="#f2ec6c"/>
<circle cx="103.0" cy="310.6" r="1.6" fill="#92cff4"/>
<circle cx="176.0" cy="299.7" r="1.6" fill="#f2ec6c"/>
<circle cx="88.0" cy="368.9" r="1.6" fill="#92cff4"/>
<circle cx="140.1" cy="355.3" r="1.6" fill="#7d54d6"/>
<circle cx="268.7" cy="391.5" r="1.6" fill="#f9af94"/>
<circle cx="94.2" cy="384.7" r="1.6" fill="#f2ec6c"/>
<circle cx="73.4" cy="307.0" r="1.6" fill="#92cff4"/>
<circle cx="185.2" cy="280.9" r="1.6" fill="#f2ec6c"/>
<circle cx="257.5" cy="358.5" r="1.6" fill="#f9af94"/>
<circle cx="244.2" cy="337.0" r="1.6" fill="#f9af94"/>
<circle cx="63.0" cy="308.3" r="1.6" fill="#f9af94"/>
<circle cx="302.0" cy="406.2" r="1.6" fill="#7d54d6"/>
<circle cx="15.7" cy="291.1" r="1.6" fill="#7d54d6"/>
<circle cx="228.1" cy="317.8" r="1.6" fill="#f9af94"/>
<circle cx="52.2" cy="303.4" r="1.6" fill="#92cff4"/>
<circle cx="183.4" cy="278.7" r="1.6" fill="#f2ec6c"/>
<circle cx="72.1" cy="309.3" r="1.6" fill="#92cff4"/>
<circle cx="105.0" cy="305.1" r="1.6" fill="#92cff4"/>
<circle cx="162.1" cy="323.4" r="1.6" fill="#f9af94"/>
<circle cx="169.2" cy="317.3" r="1.6" fill="#7d54d6"/>
<circle cx="253.8" cy="315.7" r="1.6" fill="#f2ec6c"/>
<circle cx="251.5" cy="388.7" r="1.6" fill="#f2ec6c"/>
<circle cx="31.0" cy="374.0" r="1.6" fill="#7d54d6"/>
<circle cx="105.2" cy="304.6" r="1.6" fill="#92cff4"/>
<circle cx="70.0" cy="262.0" r="1.6" fill="#92cff4"/>
<circle cx="95.5" cy="326.0" r="1.6" fill="#92cff4"/>
<circle cx="100.5" cy="411.2" r="1.6" fill="#7d54d6"/>
<circle cx="104.4" cy="349.6" r="1.6" fill="#f9af94"/>
<circle cx="245.2" cy="336.1" r="1.6" fill="#f2ec6c"/>
<circle cx="181.0" cy="391.7" r="1.6" fill="#f2ec6c"/>
<circle cx="219.6" cy="322.0" r="1.6" fill="#f2ec6c"/>
<circle cx="112.0" cy="281.0" r="1.6" fill="#7d54d6"/>
<circle cx="163.1" cy="289.2" r="1.6" fill="#f2ec6c"/>
<circle cx="177.3" cy="296.4" r="1.6" fill="#7d54d6"/>
<circle cx="244.8" cy="339.8" r="1.6" fill="#f9af94"/>
<circle cx="57.4" cy="321.3" r="1.6" fill="#92cff4"/>
<circle cx="102.0" cy="347.2" r="1.6" fill="#f9af94"/>
<circle cx="75.7" cy="330.6" r="1.6" fill="#f2ec6c"/>
<circle cx="53.5" cy="325.7" r="1.6" fill="#f9af94"/>
<circle cx="274.2" cy="329.7" r="1.6" fill="#f9af94"/>
<circle cx="297.0" cy="417.0" r="1.6" fill="#7d54d6"/>
<circle cx="49.7" cy="316.7" r="1.6" fill="#92cff4"/>
<circle cx="304.3" cy="397.4" r="1.6" fill="#7d54d6"/>
<circle cx="45.0" cy="303.6" r="1.6" fill="#92cff4"/>
<circle cx="86.4" cy="308.2" r="1.6" fill="#92cff4"/>
<circle cx="145.3" cy="322.2" r="1.6" fill="#f9af94"/>
<circle cx="89.8" cy="344.9" r="1.6" fill="#7d54d6"/>
<circle cx="71.6" cy="303.6" r="1.6" fill="#92cff4"/>
<circle cx="106.0" cy="309.1" r="1.6" fill="#f9af94"/>
<circle cx="183.3" cy="279.3" r="1.6" fill="#f2ec6c"/>
<circle cx="273.7" cy="383.3" r="1.6" fill="#7d54d6"/>
<circle cx="235.7" cy="332.3" r="1.6" fill="#f9af94"/>
<circle cx="72.4" cy="328.6" r="1.6" fill="#92cff4"/>
<circle cx="43.2" cy="302.2" r="1.6" fill="#f9af94"/>
<circle cx="47.5" cy="311.7" r="1.6" fill="#f9af94"/>
<circle cx="260.2" cy="348.7" r="1.6" fill="#f2ec6c"/>
<circle cx="270.0" cy="322.5" r="1.6" fill="#f9af94"/>
<circle cx="266.7" cy="361.3" r="1.6" fill="#7d54d6"/>
<circle cx="162.3" cy="330.7" r="1.6" fill="#f9af94"/>
<circle cx="220.5" cy="340.9" r="1.6" fill="#f2ec6c"/>
<circle cx="192.5" cy="304.8" r="1.6" fill="#f9af94"/>
<circle cx="78.3" cy="318.5" r="1.6" fill="#f9af94"/>
<circle cx="180.7" cy="285.1" r="1.6" fill="#f9af94"/>
<circle cx="179.1" cy="294.4" r="1.6" fill="#f2ec6c"/>
<circle cx="142.0" cy="355.5" r="1.6" fill="#f9af94"/>
<circle cx="153.1" cy="319.9" r="1.6" fill="#f9af94"/>
<circle cx="137.6" cy="343.7" r="1.6" fill="#7d54d6"/>
<circle cx="87.3" cy="362.8" r="1.6" fill="#92cff4"/>
<circle cx="175.0" cy="363.0" r="1.6" fill="#f9af94"/>
<circle cx="182.0" cy="297.9" r="1.6" fill="#f9af94"/>
<circle cx="168.2" cy="293.2" r="1.6" fill="#f2ec6c"/>
<circle cx="228.8" cy="319.4" r="1.6" fill="#f9af94"/>
<circle cx="90.1" cy="311.0" r="1.6" fill="#92cff4"/>
<circle cx="72.2" cy="325.4" r="1.6" fill="#92cff4"/>
<circle cx="195.2" cy="375.4" r="1.6" fill="#f2ec6c"/>
<circle cx="91.6" cy="359.3" r="1.6" fill="#92cff4"/>
<circle cx="102.8" cy="306.4" r="1.6" fill="#92cff4"/>
<circle cx="265.5" cy="308.5" r="1.6" fill="#f2ec6c"/>
<circle cx="196.9" cy="307.9" r="1.6" fill="#f9af94"/>
<circle cx="52.2" cy="306.7" r="1.6" fill="#f2ec6c"/>
<circle cx="161.5" cy="293.5" r="1.6" fill="#f2ec6c"/>
<circle cx="99.1" cy="310.5" r="1.6" fill="#7d54d6"/>
<circle cx="146.6" cy="353.0" r="1.6" fill="#f9af94"/>
<circle cx="180.8" cy="385.1" r="1.6" fill="#f9af94"/>
<circle cx="271.4" cy="321.0" r="1.6" fill="#f9af94"/>
<circle cx="75.0" cy="312.2" r="1.6" fill="#92cff4"/>
<circle cx="163.4" cy="328.7" r="1.6" fill="#f9af94"/>
<circle cx="246.0" cy="353.1" r="1.6" fill="#f9af94"/>
<circle cx="90.4" cy="330.9" r="1.6" fill="#f2ec6c"/>
<circle cx="60.5" cy="319.7" r="1.6" fill="#92cff4"/>
<circle cx="22.2" cy="291.3" r="1.6" fill="#f9af94"/>
<circle cx="34.1" cy="274.8" r="1.6" fill="#92cff4"/>
<circle cx="256.2" cy="343.2" r="1.6" fill="#f2ec6c"/>
<circle cx="84.2" cy="320.4" r="1.6" fill="#f2ec6c"/>
<circle cx="239.8" cy="358.9" r="1.6" fill="#f9af94"/>
<circle cx="150.5" cy="306.0" r="1.6" fill="#7d54d6"/>
<circle cx="113.9" cy="304.6" r="1.6" fill="#7d54d6"/>
<circle cx="195.9" cy="378.6" r="1.6" fill="#f2ec6c"/>
<circle cx="43.0" cy="352.0" r="1.6" fill="#7d54d6"/>
<circle cx="168.9" cy="305.6" r="1.6" fill="#f9af94"/>
<circle cx="163.9" cy="352.0" r="1.6" fill="#f9af94"/>
<circle cx="274.0" cy="394.7" r="1.6" fill="#f9af94"/>
<circle cx="81.0" cy="321.4" r="1.6" fill="#f2ec6c"/>
<circle cx="57.0" cy="280.2" r="1.6" fill="#f9af94"/>
<circle cx="52.1" cy="315.8" r="1.6" fill="#f2ec6c"/>
<circle cx="275.9" cy="397.0" r="1.6" fill="#f2ec6c"/>
<circle cx="267.8" cy="371.0" r="1.6" fill="#f2ec6c"/>
<circle cx="162.2" cy="296.8" r="1.6" fill="#f9af94"/>
<circle cx="93.0" cy="386.9" r="1.6" fill="#f9af94"/>
<circle cx="157.5" cy="327.1" r="1.6" fill="#f2ec6c"/>
<circle cx="65.8" cy="315.3" r="1.6" fill="#92cff4"/>
<circle cx="179.6" cy="335.9" r="1.6" fill="#7d54d6"/>
<circle cx="85.0" cy="317.8" r="1.6" fill="#92cff4"/>
<circle cx="241.8" cy="336.6" r="1.6" fill="#f2ec6c"/>
<circle cx="259.5" cy="342.2" r="1.6" fill="#f9af94"/>
<circle cx="155.1" cy="311.5" r="1.6" fill="#7d54d6"/>
<circle cx="162.8" cy="313.8" r="1.6" fill="#f9af94"/>
<circle cx="258.3" cy="361.7" r="1.6" fill="#f9af94"/>
<circle cx="168.7" cy="300.1" r="1.6" fill="#f2ec6c"/>
<circle cx="164.0" cy="360.0" r="1.6" fill="#f9af94"/>
<circle cx="21.2" cy="288.5" r="1.6" fill="#92cff4"/>
<circle cx="91.8" cy="308.0" r="1.6" fill="#92cff4"/>
<circle cx="43.6" cy="291.6" r="1.6" fill="#92cff4"/>
<circle cx="286.4" cy="393.8" r="1.6" fill="#7d54d6"/>
<circle cx="179.7" cy="313.2" r="1.6" fill="#f2ec6c"/>
<circle cx="110.5" cy="387.1" r="1.6" fill="#f9af94"/>
<circle cx="44.4" cy="294.6" r="1.6" fill="#92cff4"/>
<circle cx="72.3" cy="296.7" r="1.6" fill="#7d54d6"/>
<circle cx="160.7" cy="305.3" r="1.6" fill="#f9af94"/>
<circle cx="162.3" cy="309.1" r="1.6" fill="#f2ec6c"/>
<circle cx="58.3" cy="289.7" r="1.6" fill="#92cff4"/>
<circle cx="77.9" cy="342.0" r="1.6" fill="#7d54d6"/>
<circle cx="296.0" cy="403.0" r="1.6" fill="#f2ec6c"/>
<circle cx="71.3" cy="286.9" r="1.6" fill="#92cff4"/>
<circle cx="15.1" cy="284.6" r="1.6" fill="#92cff4"/>
<circle cx="165.2" cy="320.2" r="1.6" fill="#f2ec6c"/>
<circle cx="47.3" cy="310.6" r="1.6" fill="#92cff4"/>
<circle cx="169.5" cy="348.1" r="1.6" fill="#f2ec6c"/>
<circle cx="94.2" cy="393.7" r="1.6" fill="#92cff4"/>
<circle cx="41.9" cy="285.0" r="1.6" fill="#7d54d6"/>
<circle cx="57.8" cy="283.7" r="1.6" fill="#f9af94"/>
<circle cx="166.9" cy="301.4" r="1.6" fill="#7d54d6"/>
<circle cx="188.5" cy="444.0" r="1.6" fill="#7d54d6"/>
<circle cx="162.4" cy="297.8" r="1.6" fill="#f9af94"/>
<circle cx="85.0" cy="330.9" r="1.6" fill="#92cff4"/>
<circle cx="101.6" cy="300.4" r="1.6" fill="#92cff4"/>
<circle cx="250.8" cy="385.3" r="1.6" fill="#f9af94"/>
<circle cx="266.2" cy="359.4" r="1.6" fill="#f2ec6c"/>
<circle cx="150.8" cy="316.8" r="1.6" fill="#7d54d6"/>
<circle cx="254.6" cy="384.1" r="1.6" fill="#f9af94"/>
<circle cx="163.5" cy="288.1" r="1.6" fill="#f9af94"/>
<circle cx="71.2" cy="309.7" r="1.6" fill="#92cff4"/>
<circle cx="110.2" cy="299.3" r="1.6" fill="#7d54d6"/>
<circle cx="163.0" cy="327.9" r="1.6" fill="#f2ec6c"/>
<circle cx="97.3" cy="364.8" r="1.6" fill="#f2ec6c"/>
<circle cx="285.9" cy="395.6" r="1.6" fill="#f2ec6c"/>
<circle cx="200.9" cy="340.9" r="1.6" fill="#f9af94"/>
<circle cx="99.9" cy="358.7" r="1.6" fill="#f2ec6c"/>
<circle cx="52.2" cy="305.1" r="1.6" fill="#f9af94"/>
<circle cx="283.0" cy="315.6" r="1.6" fill="#7d54d6"/>
<circle cx="60.5" cy="333.9" r="1.6" fill="#92cff4"/>
<circle cx="262.6" cy="324.0" r="1.6" fill="#f2ec6c"/>
<circle cx="243.8" cy="365.3" r="1.6" fill="#7d54d6"/>
<circle cx="98.6" cy="359.2" r="1.6" fill="#f2ec6c"/>
<circle cx="87.3" cy="354.8" r="1.6" fill="#92cff4"/>
<circle cx="89.6" cy="317.6" r="1.6" fill="#f2ec6c"/>
<circle cx="268.6" cy="392.9" r="1.6" fill="#f9af94"/>
<circle cx="92.8" cy="344.4" r="1.6" fill="#f2ec6c"/>
<circle cx="115.5" cy="381.6" r="1.6" fill="#f9af94"/>
<circle cx="151.5" cy="318.9" r="1.6" fill="#f2ec6c"/>
<circle cx="175.7" cy="282.3" r="1.6" fill="#f9af94"/>
<circle cx="102.0" cy="367.8" r="1.6" fill="#f2ec6c"/>
<circle cx="98.4" cy="414.6" r="1.6" fill="#f2ec6c"/>
<circle cx="74.4" cy="341.9" r="1.6" fill="#f9af94"/>
<circle cx="155.4" cy="313.3" r="1.6" fill="#f2ec6c"/>
<circle cx="110.8" cy="379.7" r="1.6" fill="#f9af94"/>
<circle cx="307.0" cy="308.0" r="1.6" fill="#f9af94"/>
<circle cx="77.7" cy="321.7" r="1.6" fill="#f2ec6c"/>
<circle cx="65.4" cy="327.3" r="1.6" fill="#92cff4"/>
<circle cx="153.3" cy="297.4" r="1.6" fill="#7d54d6"/>
<circle cx="207.1" cy="336.0" r="1.6" fill="#f9af94"/>
<circle cx="25.4" cy="344.5" r="1.6" fill="#7d54d6"/>
<circle cx="180.9" cy="314.6" r="1.6" fill="#f9af94"/>
<circle cx="237.0" cy="262.5" r="1.6" fill="#7d54d6"/>
<circle cx="192.4" cy="307.7" r="1.6" fill="#7d54d6"/>
<circle cx="146.2" cy="317.9" r="1.6" fill="#7d54d6"/>
<circle cx="107.3" cy="397.2" r="1.6" fill="#f9af94"/>
<circle cx="156.7" cy="308.3" r="1.6" fill="#f9af94"/>
<circle cx="288.3" cy="312.8" r="1.6" fill="#7d54d6"/>
<circle cx="87.4" cy="308.5" r="1.6" fill="#f9af94"/>
<circle cx="178.1" cy="280.5" r="1.6" fill="#f9af94"/>
<circle cx="16.2" cy="288.2" r="1.6" fill="#92cff4"/>
<circle cx="113.1" cy="383.9" r="1.6" fill="#f2ec6c"/>
<circle cx="194.4" cy="383.9" r="1.6" fill="#f2ec6c"/>
<circle cx="178.2" cy="331.6" r="1.6" fill="#f2ec6c"/>
<circle cx="50.8" cy="290.9" r="1.6" fill="#92cff4"/>
<circle cx="111.8" cy="384.2" r="1.6" fill="#f9af94"/>
<circle cx="187.9" cy="300.3" r="1.6" fill="#7d54d6"/>
<circle cx="85.8" cy="319.4" r="1.6" fill="#92cff4"/>
<circle cx="152.8" cy="299.2" r="1.6" fill="#f9af94"/>
<circle cx="190.3" cy="286.0" r="1.6" fill="#f2ec6c"/>
<circle cx="301.0" cy="358.0" r="1.6" fill="#f2ec6c"/>
<circle cx="248.2" cy="344.9" r="1.6" fill="#f9af94"/>
<circle cx="156.5" cy="309.9" r="1.6" fill="#7d54d6"/>
<circle cx="250.3" cy="363.5" r="1.6" fill="#f9af94"/>
<circle cx="98.6" cy="282.7" r="1.6" fill="#92cff4"/>
<circle cx="113.6" cy="389.6" r="1.6" fill="#f9af94"/>
<circle cx="55.8" cy="331.0" r="1.6" fill="#f9af94"/>
<circle cx="149.2" cy="283.0" r="1.6" fill="#7d54d6"/>
<circle cx="177.6" cy="361.5" r="1.6" fill="#7d54d6"/>
<circle cx="44.1" cy="279.6" r="1.6" fill="#7d54d6"/>
<circle cx="72.0" cy="325.2" r="1.6" fill="#92cff4"/>
<circle cx="65.4" cy="308.2" r="1.6" fill="#92cff4"/>
<circle cx="179.7" cy="372.9" r="1.6" fill="#f2ec6c"/>
<circle cx="154.8" cy="330.1" r="1.6" fill="#f2ec6c"/>
<circle cx="57.7" cy="307.7" r="1.6" fill="#92cff4"/>
<circle cx="88.9" cy="362.8" r="1.6" fill="#92cff4"/>
<circle cx="278.2" cy="330.7" r="1.6" fill="#f9af94"/>
<circle cx="176.2" cy="365.6" r="1.6" fill="#7d54d6"/>
<circle cx="181.1" cy="385.5" r="1.6" fill="#f9af94"/>
<circle cx="67.8" cy="310.9" r="1.6" fill="#92cff4"/>
<circle cx="242.2" cy="318.2" r="1.6" fill="#f2ec6c"/>
<circle cx="154.1" cy="297.6" r="1.6" fill="#f9af94"/>
<circle cx="140.7" cy="324.8" r="1.6" fill="#7d54d6"/>
<circle cx="93.1" cy="355.0" r="1.6" fill="#92cff4"/>
<circle cx="182.7" cy="273.6" r="1.6" fill="#f2ec6c"/>
<circle cx="177.7" cy="295.7" r="1.6" fill="#f9af94"/>
<circle cx="239.0" cy="335.5" r="1.6" fill="#7d54d6"/>
<circle cx="181.8" cy="327.9" r="1.6" fill="#7d54d6"/>
<circle cx="65.3" cy="309.9" r="1.6" fill="#7d54d6"/>
<circle cx="60.0" cy="264.0" r="1.6" fill="#f9af94"/>
<circle cx="92.3" cy="306.4" r="1.6" fill="#f9af94"/>
<circle cx="89.7" cy="305.8" r="1.6" fill="#7d54d6"/>
<circle cx="40.7" cy="291.7" r="1.6" fill="#92cff4"/>
<circle cx="90.6" cy="319.1" r="1.6" fill="#f2ec6c"/>
<circle cx="122.0" cy="417.0" r="1.6" fill="#7d54d6"/>
<circle cx="152.4" cy="319.6" r="1.6" fill="#f9af94"/>
<circle cx="192.4" cy="307.8" r="1.6" fill="#f9af94"/>
<circle cx="182.2" cy="361.9" r="1.6" fill="#f9af94"/>
<circle cx="165.0" cy="312.6" r="1.6" fill="#7d54d6"/>
<circle cx="234.7" cy="335.5" r="1.6" fill="#7d54d6"/>
<circle cx="260.9" cy="327.0" r="1.6" fill="#f2ec6c"/>
<circle cx="246.1" cy="363.0" r="1.6" fill="#f2ec6c"/>
<circle cx="181.5" cy="284.4" r="1.6" fill="#f2ec6c"/>
<circle cx="226.2" cy="330.5" r="1.6" fill="#f9af94"/>
<circle cx="300.5" cy="374.5" r="1.6" fill="#7d54d6"/>
<circle cx="189.5" cy="317.1" r="1.6" fill="#f9af94"/>
<circle cx="77.5" cy="309.4" r="1.6" fill="#92cff4"/>
<circle cx="80.3" cy="334.9" r="1.6" fill="#92cff4"/>
<circle cx="150.3" cy="318.6" r="1.6" fill="#f9af94"/>
<circle cx="143.1" cy="288.4" r="1.6" fill="#7d54d6"/>
<circle cx="59.8" cy="317.8" r="1.6" fill="#92cff4"/>
<circle cx="115.8" cy="372.4" r="1.6" fill="#f2ec6c"/>
<circle cx="184.2" cy="299.5" r="1.6" fill="#f9af94"/>
<circle cx="156.5" cy="313.4" r="1.6" fill="#7d54d6"/>
<circle cx="166.9" cy="346.5" r="1.6" fill="#f2ec6c"/>
<circle cx="77.5" cy="250.5" r="1.6" fill="#92cff4"/>
<circle cx="37.2" cy="287.0" r="1.6" fill="#92cff4"/>
<circle cx="101.8" cy="373.8" r="1.6" fill="#f2ec6c"/>
<circle cx="256.2" cy="360.3" r="1.6" fill="#f2ec6c"/>
<circle cx="148.1" cy="351.4" r="1.6" fill="#f9af94"/>
<circle cx="146.7" cy="279.5" r="1.6" fill="#7d54d6"/>
<circle cx="157.9" cy="295.4" r="1.6" fill="#7d54d6"/>
<circle cx="77.7" cy="320.8" r="1.6" fill="#92cff4"/>
<circle cx="28.7" cy="303.0" r="1.6" fill="#7d54d6"/>
<circle cx="111.4" cy="358.0" r="1.6" fill="#92cff4"/>
<circle cx="259.2" cy="387.0" r="1.6" fill="#f9af94"/>
<circle cx="155.8" cy="318.3" r="1.6" fill="#7d54d6"/>
<circle cx="90.8" cy="357.5" r="1.6" fill="#92cff4"/>
<circle cx="39.6" cy="303.5" r="1.6" fill="#92cff4"/>
<circle cx="15.6" cy="282.8" r="1.6" fill="#92cff4"/>
<circle cx="164.9" cy="286.0" r="1.6" fill="#7d54d6"/>
<circle cx="175.9" cy="278.0" r="1.6" fill="#f2ec6c"/>
<circle cx="53.6" cy="297.2" r="1.6" fill="#f9af94"/>
<circle cx="94.5" cy="302.6" r="1.6" fill="#92cff4"/>
<circle cx="121.3" cy="312.4" r="1.6" fill="#7d54d6"/>
<circle cx="168.6" cy="300.1" r="1.6" fill="#f9af94"/>
<circle cx="62.4" cy="327.9" r="1.6" fill="#92cff4"/>
<circle cx="40.6" cy="283.6" r="1.6" fill="#f9af94"/>
<circle cx="271.1" cy="388.3" r="1.6" fill="#7d54d6"/>
<circle cx="173.4" cy="383.4" r="1.6" fill="#f2ec6c"/>
<circle cx="279.9" cy="368.3" r="1.6" fill="#7d54d6"/>
<circle cx="93.7" cy="404.0" r="1.6" fill="#7d54d6"/>
<circle cx="219.4" cy="334.9" r="1.6" fill="#f9af94"/>
<circle cx="100.5" cy="405.9" r="1.6" fill="#7d54d6"/>
<circle cx="286.9" cy="310.1" r="1.6" fill="#f9af94"/>
<circle cx="253.0" cy="328.0" r="1.6" fill="#f2ec6c"/>
<circle cx="224.2" cy="345.1" r="1.6" fill="#f9af94"/>
<circle cx="38.7" cy="299.5" r="1.6" fill="#92cff4"/>
<circle cx="237.0" cy="330.2" r="1.6" fill="#7d54d6"/>
<circle cx="101.9" cy="366.0" r="1.6" fill="#f9af94"/>
<circle cx="87.9" cy="362.1" r="1.6" fill="#f2ec6c"/>
<circle cx="246.1" cy="353.9" r="1.6" fill="#f2ec6c"/>
<circle cx="171.4" cy="386.4" r="1.6" fill="#7d54d6"/>
<circle cx="178.2" cy="326.2" r="1.6" fill="#f9af94"/>
<circle cx="93.1" cy="282.1" r="1.6" fill="#92cff4"/>
<circle cx="218.3" cy="343.1" r="1.6" fill="#7d54d6"/>
<circle cx="169.1" cy="286.3" r="1.6" fill="#f9af94"/>
<circle cx="17.0" cy="280.1" r="1.6" fill="#f9af94"/>
<circle cx="65.9" cy="331.0" r="1.6" fill="#f9af94"/>
<circle cx="174.0" cy="251.0" r="1.6" fill="#7d54d6"/>
<circle cx="279.3" cy="390.4" r="1.6" fill="#7d54d6"/>
<circle cx="57.4" cy="312.7" r="1.6" fill="#f2ec6c"/>
<circle cx="85.0" cy="316.7" r="1.6" fill="#92cff4"/>
<circle cx="144.4" cy="306.8" r="1.6" fill="#f9af94"/>
<circle cx="98.2" cy="371.9" r="1.6" fill="#f2ec6c"/>
<circle cx="31.3" cy="289.1" r="1.6" fill="#f9af94"/>
<circle cx="51.2" cy="305.0" r="1.6" fill="#7d54d6"/>
<circle cx="78.5" cy="361.0" r="1.6" fill="#92cff4"/>
<circle cx="241.6" cy="328.9" r="1.6" fill="#7d54d6"/>
<circle cx="78.1" cy="328.0" r="1.6" fill="#f2ec6c"/>
<circle cx="141.2" cy="325.3" r="1.6" fill="#7d54d6"/>
<circle cx="71.3" cy="286.7" r="1.6" fill="#92cff4"/>
<circle cx="151.4" cy="298.6" r="1.6" fill="#f9af94"/>
<circle cx="65.4" cy="296.5" r="1.6" fill="#f9af94"/>
<circle cx="91.4" cy="322.5" r="1.6" fill="#f2ec6c"/>
<circle cx="257.7" cy="350.2" r="1.6" fill="#7d54d6"/>
<circle cx="183.9" cy="306.6" r="1.6" fill="#f9af94"/>
<circle cx="79.7" cy="300.4" r="1.6" fill="#f9af94"/>
<circle cx="182.5" cy="327.6" r="1.6" fill="#f9af94"/>
<circle cx="240.6" cy="335.5" r="1.6" fill="#7d54d6"/>
<circle cx="190.7" cy="323.0" r="1.6" fill="#f9af94"/>
<circle cx="130.3" cy="359.1" r="1.6" fill="#f2ec6c"/>
<circle cx="154.6" cy="416.7" r="1.6" fill="#7d54d6"/>
<circle cx="274.3" cy="329.2" r="1.6" fill="#f9af94"/>
<circle cx="243.2" cy="325.0" r="1.6" fill="#7d54d6"/>
<circle cx="150.0" cy="325.8" r="1.6" fill="#7d54d6"/>
<circle cx="103.3" cy="358.6" r="1.6" fill="#f2ec6c"/>
<circle cx="95.3" cy="323.7" r="1.6" fill="#92cff4"/>
<circle cx="189.1" cy="363.7" r="1.6" fill="#7d54d6"/>
<circle cx="273.1" cy="369.5" r="1.6" fill="#f2ec6c"/>
<circle cx="96.1" cy="362.3" r="1.6" fill="#92cff4"/>
<circle cx="184.4" cy="283.9" r="1.6" fill="#f2ec6c"/>
<circle cx="61.8" cy="332.8" r="1.6" fill="#92cff4"/>
<circle cx="4.6" cy="403.0" r="1.6" fill="#7d54d6"/>
<circle cx="298.9" cy="405.8" r="1.6" fill="#7d54d6"/>
<circle cx="303.0" cy="399.0" r="1.6" fill="#f2ec6c"/>
<circle cx="261.8" cy="387.9" r="1.6" fill="#f2ec6c"/>
<circle cx="182.7" cy="301.1" r="1.6" fill="#f9af94"/>
<circle cx="117.5" cy="307.2" r="1.6" fill="#7d54d6"/>
<circle cx="163.0" cy="317.8" r="1.6" fill="#f9af94"/>
<circle cx="150.4" cy="321.8" r="1.6" fill="#f2ec6c"/>
<circle cx="84.9" cy="320.3" r="1.6" fill="#f2ec6c"/>
<circle cx="51.0" cy="306.2" r="1.6" fill="#92cff4"/>
<circle cx="242.3" cy="321.3" r="1.6" fill="#f2ec6c"/>
<circle cx="73.3" cy="327.1" r="1.6" fill="#f2ec6c"/>
<circle cx="67.4" cy="305.4" r="1.6" fill="#92cff4"/>
<circle cx="100.6" cy="374.1" r="1.6" fill="#92cff4"/>
<circle cx="81.3" cy="344.7" r="1.6" fill="#92cff4"/>
<circle cx="264.8" cy="324.3" r="1.6" fill="#f9af94"/>
<circle cx="59.9" cy="332.4" r="1.6" fill="#92cff4"/>
<circle cx="144.1" cy="307.8" r="1.6" fill="#f9af94"/>
<circle cx="167.0" cy="353.0" r="1.6" fill="#f2ec6c"/>
<circle cx="57.5" cy="281.8" r="1.6" fill="#f9af94"/>
<circle cx="150.8" cy="312.6" r="1.6" fill="#f2ec6c"/>
<circle cx="261.0" cy="348.6" r="1.6" fill="#f2ec6c"/>
<circle cx="94.0" cy="282.6" r="1.6" fill="#92cff4"/>
<circle cx="52.3" cy="324.9" r="1.6" fill="#92cff4"/>
<circle cx="100.8" cy="367.0" r="1.6" fill="#92cff4"/>
<circle cx="61.1" cy="299.2" r="1.6" fill="#f9af94"/>
<circle cx="260.2" cy="339.5" r="1.6" fill="#f2ec6c"/>
<circle cx="191.0" cy="281.7" r="1.6" fill="#7d54d6"/>
<circle cx="295.3" cy="410.5" r="1.6" fill="#7d54d6"/>
<circle cx="186.7" cy="327.6" r="1.6" fill="#f2ec6c"/>
<circle cx="261.6" cy="346.9" r="1.6" fill="#f2ec6c"/>
<circle cx="60.1" cy="338.9" r="1.6" fill="#f9af94"/>
<circle cx="165.3" cy="298.6" r="1.6" fill="#f2ec6c"/>
<circle cx="97.1" cy="360.8" r="1.6" fill="#f2ec6c"/>
<circle cx="259.7" cy="351.5" r="1.6" fill="#7d54d6"/>
<circle cx="79.6" cy="341.9" r="1.6" fill="#7d54d6"/>
<circle cx="247.4" cy="350.6" r="1.6" fill="#f9af94"/>
<circle cx="62.5" cy="283.0" r="1.6" fill="#92cff4"/>
<circle cx="257.7" cy="349.6" r="1.6" fill="#f2ec6c"/>
<circle cx="152.0" cy="316.5" r="1.6" fill="#7d54d6"/>
<circle cx="246.8" cy="327.5" r="1.6" fill="#7d54d6"/>
<circle cx="173.8" cy="296.4" r="1.6" fill="#f9af94"/>
<circle cx="256.7" cy="330.0" r="1.6" fill="#f2ec6c"/>
<circle cx="225.4" cy="330.9" r="1.6" fill="#f9af94"/>
<circle cx="93.5" cy="362.2" r="1.6" fill="#7d54d6"/>
<circle cx="183.5" cy="304.6" r="1.6" fill="#7d54d6"/>
<circle cx="64.9" cy="297.4" r="1.6" fill="#92cff4"/>
<circle cx="251.2" cy="388.9" r="1.6" fill="#f9af94"/>
<circle cx="181.2" cy="286.7" r="1.6" fill="#f2ec6c"/>
<circle cx="146.8" cy="399.4" r="1.6" fill="#7d54d6"/>
<circle cx="180.0" cy="325.6" r="1.6" fill="#f2ec6c"/>
<circle cx="39.0" cy="301.9" r="1.6" fill="#92cff4"/>
<circle cx="101.6" cy="374.4" r="1.6" fill="#92cff4"/>
<circle cx="156.0" cy="286.0" r="1.6" fill="#7d54d6"/>
<circle cx="153.7" cy="304.0" r="1.6" fill="#7d54d6"/>
<circle cx="71.1" cy="332.3" r="1.6" fill="#92cff4"/>
<circle cx="63.9" cy="310.0" r="1.6" fill="#7d54d6"/>
<circle cx="107.4" cy="315.4" r="1.6" fill="#7d54d6"/>
<circle cx="105.3" cy="360.7" r="1.6" fill="#f2ec6c"/>
<circle cx="68.5" cy="335.8" r="1.6" fill="#92cff4"/>
<circle cx="154.8" cy="296.7" r="1.6" fill="#f9af94"/>
<circle cx="134.3" cy="328.7" r="1.6" fill="#f2ec6c"/>
<circle cx="30.9" cy="274.7" r="1.6" fill="#7d54d6"/>
<circle cx="283.4" cy="375.0" r="1.6" fill="#f9af94"/>
<circle cx="180.7" cy="370.1" r="1.6" fill="#7d54d6"/>
<circle cx="10.0" cy="293.5" r="1.6" fill="#7d54d6"/>
<circle cx="118.3" cy="315.1" r="1.6" fill="#7d54d6"/>
<circle cx="98.1" cy="314.1" r="1.6" fill="#f9af94"/>
<circle cx="73.6" cy="322.2" r="1.6" fill="#f9af94"/>
<circle cx="155.0" cy="314.4" r="1.6" fill="#f9af94"/>
<circle cx="176.2" cy="315.1" r="1.6" fill="#f9af94"/>
<circle cx="242.6" cy="315.4" r="1.6" fill="#7d54d6"/>
<circle cx="57.2" cy="333.7" r="1.6" fill="#f9af94"/>
<circle cx="184.5" cy="301.0" r="1.6" fill="#f9af94"/>
<circle cx="97.1" cy="316.6" r="1.6" fill="#f2ec6c"/>
<circle cx="182.6" cy="283.8" r="1.6" fill="#f2ec6c"/>
<circle cx="85.8" cy="349.2" r="1.6" fill="#92cff4"/>
<circle cx="149.1" cy="318.4" r="1.6" fill="#7d54d6"/>
<circle cx="115.5" cy="369.0" r="1.6" fill="#f9af94"/>
<circle cx="234.3" cy="340.8" r="1.6" fill="#7d54d6"/>
<circle cx="48.8" cy="282.2" r="1.6" fill="#92cff4"/>
<circle cx="62.0" cy="308.1" r="1.6" fill="#f9af94"/>
<circle cx="77.5" cy="345.8" r="1.6" fill="#92cff4"/>
<circle cx="156.9" cy="317.6" r="1.6" fill="#f2ec6c"/>
<circle cx="111.7" cy="382.0" r="1.6" fill="#f9af94"/>
<circle cx="88.3" cy="307.9" r="1.6" fill="#92cff4"/>
<circle cx="96.2" cy="367.5" r="1.6" fill="#92cff4"/>
<circle cx="17.4" cy="290.8" r="1.6" fill="#92cff4"/>
<circle cx="64.3" cy="333.7" r="1.6" fill="#7d54d6"/>
<circle cx="168.3" cy="345.7" r="1.6" fill="#f9af94"/>
<circle cx="171.1" cy="304.3" r="1.6" fill="#7d54d6"/>
<circle cx="149.3" cy="323.0" r="1.6" fill="#f9af94"/>
<circle cx="32.3" cy="285.5" r="1.6" fill="#f9af94"/>
<circle cx="158.0" cy="329.9" r="1.6" fill="#f2ec6c"/>
<circle cx="172.6" cy="350.5" r="1.6" fill="#f2ec6c"/>
<circle cx="59.9" cy="325.3" r="1.6" fill="#92cff4"/>
<circle cx="83.3" cy="312.9" r="1.6" fill="#92cff4"/>
<circle cx="206.0" cy="336.9" r="1.6" fill="#f9af94"/>
<circle cx="171.8" cy="310.0" r="1.6" fill="#7d54d6"/>
<circle cx="176.4" cy="363.1" r="1.6" fill="#7d54d6"/>
<circle cx="257.0" cy="379.5" r="1.6" fill="#f2ec6c"/>
<circle cx="90.0" cy="319.0" r="1.6" fill="#f2ec6c"/>
<circle cx="279.1" cy="382.8" r="1.6" fill="#7d54d6"/>
<circle cx="68.5" cy="324.4" r="1.6" fill="#92cff4"/>
<circle cx="81.9" cy="344.8" r="1.6" fill="#92cff4"/>
<circle cx="87.4" cy="307.8" r="1.6" fill="#f2ec6c"/>
<circle cx="254.8" cy="368.6" r="1.6" fill="#f2ec6c"/>
<circle cx="304.2" cy="397.1" r="1.6" fill="#7d54d6"/>
<circle cx="112.2" cy="363.0" r="1.6" fill="#92cff4"/>
<circle cx="251.4" cy="315.0" r="1.6" fill="#f9af94"/>
<circle cx="165.8" cy="314.3" r="1.6" fill="#f9af94"/>
<circle cx="140.0" cy="283.0" r="1.6" fill="#7d54d6"/>
<circle cx="81.3" cy="331.1" r="1.6" fill="#f2ec6c"/>
<circle cx="227.2" cy="318.2" r="1.6" fill="#7d54d6"/>
<circle cx="105.0" cy="386.1" r="1.6" fill="#f2ec6c"/>
<circle cx="149.5" cy="305.7" r="1.6" fill="#7d54d6"/>
<circle cx="178.4" cy="334.5" r="1.6" fill="#f9af94"/>
<circle cx="74.4" cy="341.6" r="1.6" fill="#92cff4"/>
<circle cx="76.9" cy="329.4" r="1.6" fill="#92cff4"/>
<circle cx="170.5" cy="294.1" r="1.6" fill="#7d54d6"/>
<circle cx="124.7" cy="372.1" r="1.6" fill="#f9af94"/>
<circle cx="88.2" cy="308.6" r="1.6" fill="#92cff4"/>
<circle cx="220.9" cy="327.9" r="1.6" fill="#f2ec6c"/>
<circle cx="270.2" cy="314.8" r="1.6" fill="#f2ec6c"/>
<circle cx="175.5" cy="380.0" r="1.6" fill="#7d54d6"/>
<circle cx="188.3" cy="316.6" r="1.6" fill="#f9af94"/>
<circle cx="83.7" cy="341.2" r="1.6" fill="#92cff4"/>
<circle cx="275.6" cy="368.4" r="1.6" fill="#7d54d6"/>
<circle cx="141.6" cy="335.9" r="1.6" fill="#f2ec6c"/>
<circle cx="244.7" cy="365.0" r="1.6" fill="#f9af94"/>
<circle cx="24.7" cy="293.4" r="1.6" fill="#92cff4"/>
<circle cx="169.6" cy="290.6" r="1.6" fill="#f2ec6c"/>
<circle cx="167.6" cy="286.6" r="1.6" fill="#f2ec6c"/>
<circle cx="283.5" cy="398.5" r="1.6" fill="#f2ec6c"/>
<circle cx="233.7" cy="335.0" r="1.6" fill="#f9af94"/>
<circle cx="148.0" cy="282.0" r="1.6" fill="#7d54d6"/>
<circle cx="47.3" cy="305.3" r="1.6" fill="#f9af94"/>
<circle cx="55.7" cy="295.3" r="1.6" fill="#f9af94"/>
<circle cx="243.5" cy="364.3" r="1.6" fill="#f2ec6c"/>
<circle cx="92.1" cy="345.0" r="1.6" fill="#f2ec6c"/>
<circle cx="301.8" cy="395.9" r="1.6" fill="#7d54d6"/>
<circle cx="112.5" cy="378.2" r="1.6" fill="#7d54d6"/>
<circle cx="285.0" cy="398.3" r="1.6" fill="#f9af94"/>
<circle cx="153.1" cy="301.3" r="1.6" fill="#f9af94"/>
<circle cx="276.0" cy="370.1" r="1.6" fill="#f2ec6c"/>
<circle cx="153.9" cy="324.2" r="1.6" fill="#f2ec6c"/>
<circle cx="230.8" cy="324.6" r="1.6" fill="#f9af94"/>
<circle cx="61.9" cy="314.8" r="1.6" fill="#92cff4"/>
<circle cx="243.1" cy="363.4" r="1.6" fill="#f9af94"/>
<circle cx="78.9" cy="335.7" r="1.6" fill="#f2ec6c"/>
<circle cx="24.2" cy="289.6" r="1.6" fill="#92cff4"/>
<circle cx="32.1" cy="299.6" r="1.6" fill="#7d54d6"/>
<circle cx="266.2" cy="331.6" r="1.6" fill="#f2ec6c"/>
<circle cx="176.6" cy="307.4" r="1.6" fill="#f9af94"/>
<circle cx="150.2" cy="309.7" r="1.6" fill="#f9af94"/>
<circle cx="18.3" cy="281.4" r="1.6" fill="#92cff4"/>
<circle cx="284.9" cy="314.9" r="1.6" fill="#7d54d6"/>
<circle cx="194.2" cy="288.6" r="1.6" fill="#f9af94"/>
<circle cx="306.0" cy="397.7" r="1.6" fill="#7d54d6"/>
<circle cx="87.3" cy="361.7" r="1.6" fill="#92cff4"/>
<circle cx="111.7" cy="390.1" r="1.6" fill="#f9af94"/>
<circle cx="26.4" cy="293.4" r="1.6" fill="#f9af94"/>
<circle cx="141.5" cy="298.2" r="1.6" fill="#7d54d6"/>
<circle cx="235.5" cy="370.6" r="1.6" fill="#f2ec6c"/>
<circle cx="295.8" cy="408.2" r="1.6" fill="#7d54d6"/>
<circle cx="36.8" cy="296.4" r="1.6" fill="#92cff4"/>
<circle cx="259.4" cy="316.8" r="1.6" fill="#f2ec6c"/>
<circle cx="238.3" cy="353.2" r="1.6" fill="#f9af94"/>
<circle cx="172.6" cy="319.2" r="1.6" fill="#f9af94"/>
<circle cx="61.6" cy="338.7" r="1.6" fill="#92cff4"/>
<circle cx="52.6" cy="308.3" r="1.6" fill="#92cff4"/>
<circle cx="45.4" cy="300.3" r="1.6" fill="#92cff4"/>
<circle cx="132.5" cy="295.8" r="1.6" fill="#7d54d6"/>
<circle cx="76.9" cy="342.7" r="1.6" fill="#7d54d6"/>
<circle cx="91.2" cy="302.8" r="1.6" fill="#92cff4"/>
<circle cx="84.4" cy="351.9" r="1.6" fill="#f2ec6c"/>
<circle cx="168.8" cy="288.7" r="1.6" fill="#f2ec6c"/>
<circle cx="188.6" cy="279.1" r="1.6" fill="#f2ec6c"/>
<circle cx="90.3" cy="323.9" r="1.6" fill="#f9af94"/>
<circle cx="51.1" cy="325.9" r="1.6" fill="#f9af94"/>
<circle cx="220.1" cy="343.4" r="1.6" fill="#f9af94"/>
<circle cx="105.5" cy="393.4" r="1.6" fill="#f9af94"/>
<circle cx="175.7" cy="304.4" r="1.6" fill="#f9af94"/>
<circle cx="258.4" cy="355.4" r="1.6" fill="#f2ec6c"/>
<circle cx="193.0" cy="291.1" r="1.6" fill="#f9af94"/>
<circle cx="54.2" cy="321.5" r="1.6" fill="#f9af94"/>
<circle cx="182.3" cy="383.1" r="1.6" fill="#f9af94"/>
<circle cx="103.0" cy="310.4" r="1.6" fill="#7d54d6"/>
<circle cx="257.0" cy="338.8" r="1.6" fill="#f2ec6c"/>
<circle cx="145.9" cy="330.1" r="1.6" fill="#7d54d6"/>
<circle cx="95.4" cy="388.7" r="1.6" fill="#f9af94"/>
<circle cx="3.3" cy="336.6" r="1.6" fill="#7d54d6"/>
<circle cx="169.4" cy="300.0" r="1.6" fill="#f2ec6c"/>
<circle cx="101.3" cy="364.7" r="1.6" fill="#92cff4"/>
<circle cx="48.7" cy="311.6" r="1.6" fill="#f9af94"/>
<circle cx="56.8" cy="292.5" r="1.6" fill="#92cff4"/>
<circle cx="166.9" cy="308.0" r="1.6" fill="#f9af94"/>
<circle cx="52.8" cy="327.6" r="1.6" fill="#92cff4"/>
<circle cx="178.2" cy="312.3" r="1.6" fill="#f2ec6c"/>
<circle cx="268.6" cy="322.7" r="1.6" fill="#f9af94"/>
<circle cx="58.4" cy="326.4" r="1.6" fill="#92cff4"/>
<circle cx="124.7" cy="372.8" r="1.6" fill="#f2ec6c"/>
<circle cx="81.9" cy="331.7" r="1.6" fill="#f2ec6c"/>
<circle cx="166.8" cy="307.6" r="1.6" fill="#f9af94"/>
<circle cx="188.5" cy="307.1" r="1.6" fill="#f9af94"/>
<circle cx="249.9" cy="352.0" r="1.6" fill="#f9af94"/>
<circle cx="77.2" cy="311.2" r="1.6" fill="#92cff4"/>
<circle cx="65.4" cy="324.5" r="1.6" fill="#92cff4"/>
<circle cx="257.4" cy="326.5" r="1.6" fill="#f2ec6c"/>
<circle cx="152.9" cy="383.3" r="1.6" fill="#f2ec6c"/>
<circle cx="75.6" cy="292.8" r="1.6" fill="#7d54d6"/>
<circle cx="179.5" cy="324.0" r="1.6" fill="#7d54d6"/>
<circle cx="123.3" cy="310.7" r="1.6" fill="#7d54d6"/>
<circle cx="150.4" cy="311.6" r="1.6" fill="#f9af94"/>
<circle cx="87.8" cy="363.5" r="1.6" fill="#92cff4"/>
<circle cx="97.1" cy="357.0" r="1.6" fill="#92cff4"/>
<circle cx="168.5" cy="249.5" r="1.6" fill="#7d54d6"/>
<circle cx="87.2" cy="304.5" r="1.6" fill="#92cff4"/>
<circle cx="169.7" cy="347.3" r="1.6" fill="#f2ec6c"/>
<circle cx="278.9" cy="403.1" r="1.6" fill="#7d54d6"/>
<circle cx="66.8" cy="332.7" r="1.6" fill="#92cff4"/>
<circle cx="167.1" cy="326.0" r="1.6" fill="#7d54d6"/>
<circle cx="176.3" cy="324.9" r="1.6" fill="#f9af94"/>
<circle cx="88.9" cy="327.5" r="1.6" fill="#92cff4"/>
<circle cx="124.6" cy="374.4" r="1.6" fill="#92cff4"/>
<circle cx="280.1" cy="380.6" r="1.6" fill="#f2ec6c"/>
<circle cx="282.5" cy="313.8" r="1.6" fill="#7d54d6"/>
<circle cx="50.2" cy="278.2" r="1.6" fill="#92cff4"/>
<circle cx="123.6" cy="332.6" r="1.6" fill="#f2ec6c"/>
<circle cx="277.2" cy="390.8" r="1.6" fill="#f9af94"/>
<circle cx="281.4" cy="391.7" r="1.6" fill="#7d54d6"/>
<circle cx="164.6" cy="305.8" r="1.6" fill="#f9af94"/>
<circle cx="248.5" cy="338.8" r="1.6" fill="#f9af94"/>
<circle cx="95.5" cy="374.7" r="1.6" fill="#92cff4"/>
<circle cx="107.2" cy="372.4" r="1.6" fill="#f2ec6c"/>
<circle cx="206.1" cy="302.0" r="1.6" fill="#f9af94"/>
<circle cx="114.6" cy="364.6" r="1.6" fill="#f2ec6c"/>
<circle cx="24.4" cy="281.1" r="1.6" fill="#92cff4"/>
<circle cx="157.8" cy="300.2" r="1.6" fill="#f9af94"/>
<circle cx="227.6" cy="325.9" r="1.6" fill="#f2ec6c"/>
<circle cx="53.8" cy="330.5" r="1.6" fill="#f9af94"/>
<circle cx="186.8" cy="287.2" r="1.6" fill="#f9af94"/>
<circle cx="246.5" cy="367.2" r="1.6" fill="#f2ec6c"/>
<circle cx="111.2" cy="358.7" r="1.6" fill="#7d54d6"/>
<circle cx="208.7" cy="338.8" r="1.6" fill="#f9af94"/>
<circle cx="182.6" cy="371.1" r="1.6" fill="#7d54d6"/>
<circle cx="153.5" cy="327.8" r="1.6" fill="#f2ec6c"/>
<circle cx="201.5" cy="339.6" r="1.6" fill="#f9af94"/>
<circle cx="166.8" cy="299.9" r="1.6" fill="#f9af94"/>
<circle cx="9.8" cy="291.8" r="1.6" fill="#7d54d6"/>
<circle cx="75.9" cy="349.8" r="1.6" fill="#f2ec6c"/>
<circle cx="167.6" cy="388.3" r="1.6" fill="#f9af94"/>
<circle cx="76.3" cy="309.6" r="1.6" fill="#92cff4"/>
<circle cx="181.6" cy="321.4" r="1.6" fill="#f9af94"/>
<circle cx="98.0" cy="252.0" r="1.6" fill="#f9af94"/>
<circle cx="198.5" cy="332.0" r="1.6" fill="#f9af94"/>
<circle cx="96.7" cy="373.8" r="1.6" fill="#f2ec6c"/>
<circle cx="245.6" cy="367.8" r="1.6" fill="#f2ec6c"/>
<circle cx="242.3" cy="351.3" r="1.6" fill="#f9af94"/>
<circle cx="97.4" cy="309.9" r="1.6" fill="#7d54d6"/>
<circle cx="245.6" cy="322.0" r="1.6" fill="#f2ec6c"/>
<circle cx="245.6" cy="331.0" r="1.6" fill="#f9af94"/>
<circle cx="167.9" cy="279.5" r="1.6" fill="#7d54d6"/>
<circle cx="33.5" cy="377.0" r="1.6" fill="#7d54d6"/>
<circle cx="271.2" cy="364.1" r="1.6" fill="#f2ec6c"/>
<circle cx="67.0" cy="317.9" r="1.6" fill="#92cff4"/>
<circle cx="64.7" cy="319.7" r="1.6" fill="#92cff4"/>
<circle cx="138.1" cy="355.2" r="1.6" fill="#7d54d6"/>
<circle cx="185.6" cy="301.9" r="1.6" fill="#f9af94"/>
<circle cx="296.0" cy="378.5" r="1.6" fill="#f9af94"/>
<circle cx="117.1" cy="381.5" r="1.6" fill="#f2ec6c"/>
<circle cx="67.9" cy="329.4" r="1.6" fill="#7d54d6"/>
<circle cx="272.9" cy="318.7" r="1.6" fill="#7d54d6"/>
<circle cx="102.5" cy="308.8" r="1.6" fill="#f9af94"/>
<circle cx="111.4" cy="378.8" r="1.6" fill="#f9af94"/>
<circle cx="182.2" cy="287.3" r="1.6" fill="#f2ec6c"/>
<circle cx="270.6" cy="318.7" r="1.6" fill="#f2ec6c"/>
<circle cx="98.2" cy="359.2" r="1.6" fill="#7d54d6"/>
<circle cx="97.7" cy="374.1" r="1.6" fill="#f2ec6c"/>
<circle cx="240.5" cy="354.8" r="1.6" fill="#f9af94"/>
<circle cx="56.1" cy="330.3" r="1.6" fill="#92cff4"/>
<circle cx="163.5" cy="310.4" r="1.6" fill="#7d54d6"/>
<circle cx="97.0" cy="287.9" r="1.6" fill="#92cff4"/>
<circle cx="90.6" cy="322.9" r="1.6" fill="#f2ec6c"/>
<circle cx="77.3" cy="308.2" r="1.6" fill="#92cff4"/>
<circle cx="34.9" cy="289.0" r="1.6" fill="#92cff4"/>
<circle cx="229.7" cy="336.1" r="1.6" fill="#f2ec6c"/>
<circle cx="93.5" cy="368.6" r="1.6" fill="#92cff4"/>
<circle cx="66.3" cy="297.6" r="1.6" fill="#f9af94"/>
<circle cx="117.9" cy="373.9" r="1.6" fill="#f2ec6c"/>
<circle cx="181.8" cy="359.6" r="1.6" fill="#f9af94"/>
<circle cx="70.1" cy="317.9" r="1.6" fill="#f9af94"/>
<circle cx="34.7" cy="292.2" r="1.6" fill="#92cff4"/>
<circle cx="114.5" cy="369.3" r="1.6" fill="#f9af94"/>
<circle cx="187.1" cy="288.4" r="1.6" fill="#f2ec6c"/>
<circle cx="76.9" cy="349.2" r="1.6" fill="#7d54d6"/>
<circle cx="160.3" cy="288.3" r="1.6" fill="#f9af94"/>
<circle cx="241.6" cy="334.6" r="1.6" fill="#f2ec6c"/>
<circle cx="94.9" cy="396.1" r="1.6" fill="#92cff4"/>
<circle cx="121.3" cy="371.7" r="1.6" fill="#f9af94"/>
<circle cx="118.7" cy="383.4" r="1.6" fill="#7d54d6"/>
<circle cx="262.1" cy="364.8" r="1.6" fill="#f9af94"/>
<circle cx="37.0" cy="284.4" r="1.6" fill="#f9af94"/>
<circle cx="162.5" cy="294.4" r="1.6" fill="#f2ec6c"/>
<circle cx="97.0" cy="281.6" r="1.6" fill="#92cff4"/>
<circle cx="243.3" cy="331.8" r="1.6" fill="#7d54d6"/>
<circle cx="93.8" cy="412.2" r="1.6" fill="#f9af94"/>
<circle cx="64.6" cy="325.4" r="1.6" fill="#92cff4"/>
<circle cx="132.5" cy="334.0" r="1.6" fill="#f2ec6c"/>
<circle cx="250.3" cy="353.6" r="1.6" fill="#f9af94"/>
<circle cx="96.1" cy="314.4" r="1.6" fill="#7d54d6"/>
<circle cx="205.0" cy="308.0" r="1.6" fill="#f9af94"/>
<circle cx="132.0" cy="420.5" r="1.6" fill="#7d54d6"/>
<circle cx="163.4" cy="329.4" r="1.6" fill="#f9af94"/>
<circle cx="246.2" cy="310.0" r="1.6" fill="#7d54d6"/>
<circle cx="61.4" cy="313.7" r="1.6" fill="#92cff4"/>
<circle cx="256.7" cy="383.5" r="1.6" fill="#f9af94"/>
<circle cx="242.4" cy="359.1" r="1.6" fill="#f9af94"/>
<circle cx="201.1" cy="332.5" r="1.6" fill="#f2ec6c"/>
<circle cx="146.4" cy="336.3" r="1.6" fill="#f2ec6c"/>
<circle cx="272.2" cy="386.7" r="1.6" fill="#7d54d6"/>
<circle cx="187.1" cy="358.2" r="1.6" fill="#f9af94"/>
<circle cx="250.0" cy="349.8" r="1.6" fill="#f2ec6c"/>
<circle cx="306.9" cy="397.7" r="1.6" fill="#7d54d6"/>
<circle cx="113.0" cy="351.3" r="1.6" fill="#f2ec6c"/>
<circle cx="76.0" cy="360.5" r="1.6" fill="#7d54d6"/>
<circle cx="285.2" cy="311.8" r="1.6" fill="#7d54d6"/>
<circle cx="90.2" cy="298.5" r="1.6" fill="#92cff4"/>
<circle cx="149.0" cy="273.0" r="1.6" fill="#7d54d6"/>
<circle cx="183.0" cy="340.0" r="1.6" fill="#f9af94"/>
<circle cx="153.9" cy="321.4" r="1.6" fill="#7d54d6"/>
<circle cx="89.0" cy="350.1" r="1.6" fill="#f2ec6c"/>
<circle cx="90.6" cy="361.4" r="1.6" fill="#92cff4"/>
<circle cx="104.4" cy="380.3" r="1.6" fill="#f2ec6c"/>
<circle cx="52.2" cy="325.7" r="1.6" fill="#f9af94"/>
<circle cx="250.0" cy="380.0" r="1.6" fill="#f2ec6c"/>
<circle cx="155.2" cy="333.6" r="1.6" fill="#7d54d6"/>
<circle cx="59.7" cy="333.2" r="1.6" fill="#92cff4"/>
<circle cx="105.2" cy="363.2" r="1.6" fill="#f2ec6c"/>
<circle cx="241.6" cy="355.3" r="1.6" fill="#f2ec6c"/>
<circle cx="52.0" cy="266.0" r="1.6" fill="#f9af94"/>
<circle cx="218.0" cy="415.0" r="1.6" fill="#7d54d6"/>
<circle cx="85.1" cy="326.1" r="1.6" fill="#f2ec6c"/>
<circle cx="100.6" cy="313.8" r="1.6" fill="#92cff4"/>
<circle cx="105.5" cy="413.0" r="1.6" fill="#7d54d6"/>
<circle cx="168.8" cy="350.4" r="1.6" fill="#f2ec6c"/>
<circle cx="179.3" cy="302.6" r="1.6" fill="#f2ec6c"/>
<circle cx="283.5" cy="379.0" r="1.6" fill="#7d54d6"/>
<circle cx="94.8" cy="319.9" r="1.6" fill="#f2ec6c"/>
<circle cx="149.8" cy="316.3" r="1.6" fill="#7d54d6"/>
<circle cx="184.9" cy="340.4" r="1.6" fill="#f9af94"/>
<circle cx="276.5" cy="320.5" r="1.6" fill="#7d54d6"/>
<circle cx="64.2" cy="317.3" r="1.6" fill="#7d54d6"/>
<circle cx="96.5" cy="357.3" r="1.6" fill="#f2ec6c"/>
<circle cx="218.4" cy="336.5" r="1.6" fill="#f9af94"/>
<circle cx="255.8" cy="339.0" r="1.6" fill="#7d54d6"/>
<circle cx="72.8" cy="321.7" r="1.6" fill="#f9af94"/>
<circle cx="46.6" cy="305.4" r="1.6" fill="#f9af94"/>
<circle cx="70.5" cy="341.4" r="1.6" fill="#f9af94"/>
<circle cx="150.5" cy="303.3" r="1.6" fill="#7d54d6"/>
<circle cx="278.0" cy="364.5" r="1.6" fill="#7d54d6"/>
<circle cx="75.0" cy="324.3" r="1.6" fill="#92cff4"/>
<circle cx="81.5" cy="317.8" r="1.6" fill="#f2ec6c"/>
<circle cx="151.9" cy="300.7" r="1.6" fill="#f2ec6c"/>
<circle cx="100.8" cy="362.1" r="1.6" fill="#92cff4"/>
<circle cx="163.8" cy="329.7" r="1.6" fill="#f9af94"/>
<circle cx="43.1" cy="286.4" r="1.6" fill="#f9af94"/>
<circle cx="30.0" cy="277.5" r="1.6" fill="#92cff4"/>
<circle cx="147.6" cy="311.6" r="1.6" fill="#f9af94"/>
<circle cx="169.4" cy="381.7" r="1.6" fill="#f9af94"/>
<circle cx="146.9" cy="291.3" r="1.6" fill="#7d54d6"/>
<circle cx="202.5" cy="326.0" r="1.6" fill="#f9af94"/>
<circle cx="72.7" cy="291.2" r="1.6" fill="#7d54d6"/>
<circle cx="72.0" cy="310.6" r="1.6" fill="#92cff4"/>
<circle cx="220.5" cy="346.1" r="1.6" fill="#7d54d6"/>
<circle cx="154.8" cy="315.7" r="1.6" fill="#7d54d6"/>
<circle cx="121.4" cy="324.6" r="1.6" fill="#7d54d6"/>
<circle cx="231.3" cy="330.4" r="1.6" fill="#f9af94"/>
<circle cx="65.0" cy="330.1" r="1.6" fill="#f2ec6c"/>
<circle cx="88.0" cy="312.4" r="1.6" fill="#92cff4"/>
<circle cx="7.6" cy="287.5" r="1.6" fill="#7d54d6"/>
<circle cx="175.5" cy="315.1" r="1.6" fill="#f2ec6c"/>
<circle cx="188.1" cy="366.5" r="1.6" fill="#f2ec6c"/>
<circle cx="86.1" cy="346.3" r="1.6" fill="#92cff4"/>
<circle cx="53.0" cy="278.0" r="1.6" fill="#92cff4"/>
<circle cx="75.0" cy="346.2" r="1.6" fill="#f9af94"/>
<circle cx="168.7" cy="296.9" r="1.6" fill="#f9af94"/>
<circle cx="159.3" cy="312.6" r="1.6" fill="#f2ec6c"/>
<circle cx="177.7" cy="354.8" r="1.6" fill="#f9af94"/>
<circle cx="77.3" cy="343.6" r="1.6" fill="#f9af94"/>
<circle cx="253.0" cy="379.0" r="1.6" fill="#f2ec6c"/>
<circle cx="281.4" cy="380.0" r="1.6" fill="#7d54d6"/>
<circle cx="72.3" cy="345.3" r="1.6" fill="#f9af94"/>
<circle cx="156.1" cy="328.0" r="1.6" fill="#f2ec6c"/>
<circle cx="86.2" cy="365.8" r="1.6" fill="#f2ec6c"/>
<circle cx="174.9" cy="312.9" r="1.6" fill="#f2ec6c"/>
<circle cx="244.1" cy="353.6" r="1.6" fill="#f9af94"/>
<circle cx="146.6" cy="352.2" r="1.6" fill="#7d54d6"/>
<circle cx="179.4" cy="391.0" r="1.6" fill="#f2ec6c"/>
<circle cx="239.4" cy="347.9" r="1.6" fill="#f9af94"/>
<circle cx="181.5" cy="297.4" r="1.6" fill="#f9af94"/>
<circle cx="240.9" cy="344.5" r="1.6" fill="#f9af94"/>
<circle cx="115.7" cy="387.8" r="1.6" fill="#f9af94"/>
<circle cx="249.0" cy="321.0" r="1.6" fill="#f9af94"/>
<circle cx="164.3" cy="354.0" r="1.6" fill="#f2ec6c"/>
<circle cx="58.8" cy="310.8" r="1.6" fill="#92cff4"/>
<circle cx="62.3" cy="298.9" r="1.6" fill="#92cff4"/>
<circle cx="55.7" cy="311.2" r="1.6" fill="#f9af94"/>
<circle cx="281.4" cy="383.4" r="1.6" fill="#7d54d6"/>
<circle cx="171.4" cy="297.3" r="1.6" fill="#f9af94"/>
<circle cx="191.4" cy="288.0" r="1.6" fill="#f2ec6c"/>
<circle cx="255.0" cy="305.5" r="1.6" fill="#f2ec6c"/>
<circle cx="73.5" cy="363.0" r="1.6" fill="#7d54d6"/>
<circle cx="157.2" cy="324.2" r="1.6" fill="#f2ec6c"/>
<circle cx="267.9" cy="375.2" r="1.6" fill="#7d54d6"/>
<circle cx="279.2" cy="384.0" r="1.6" fill="#7d54d6"/>
<circle cx="163.1" cy="300.6" r="1.6" fill="#7d54d6"/>
<circle cx="272.6" cy="314.1" r="1.6" fill="#7d54d6"/>
<circle cx="46.7" cy="288.4" r="1.6" fill="#92cff4"/>
<circle cx="195.4" cy="381.8" r="1.6" fill="#f9af94"/>
<circle cx="118.0" cy="364.1" r="1.6" fill="#92cff4"/>
<circle cx="52.0" cy="312.0" r="1.6" fill="#f9af94"/>
<circle cx="165.8" cy="330.2" r="1.6" fill="#7d54d6"/>
<circle cx="154.8" cy="304.4" r="1.6" fill="#7d54d6"/>
<circle cx="90.3" cy="321.0" r="1.6" fill="#f2ec6c"/>
<circle cx="92.7" cy="352.0" r="1.6" fill="#f2ec6c"/>
<circle cx="92.7" cy="316.3" r="1.6" fill="#f2ec6c"/>
<circle cx="143.0" cy="304.4" r="1.6" fill="#f2ec6c"/>
<circle cx="225.8" cy="339.8" r="1.6" fill="#7d54d6"/>
<circle cx="14.0" cy="474.6" r="1.6" fill="#7d54d6"/>
<circle cx="187.8" cy="353.8" r="1.6" fill="#7d54d6"/>
<circle cx="261.7" cy="318.3" r="1.6" fill="#f2ec6c"/>
<circle cx="223.9" cy="351.1" r="1.6" fill="#f9af94"/>
<circle cx="94.2" cy="407.5" r="1.6" fill="#f9af94"/>
<circle cx="101.0" cy="262.0" r="1.6" fill="#7d54d6"/>
<circle cx="94.0" cy="325.1" r="1.6" fill="#92cff4"/>
<circle cx="195.8" cy="385.1" r="1.6" fill="#f2ec6c"/>
<circle cx="77.4" cy="293.4" r="1.6" fill="#92cff4"/>
<circle cx="170.2" cy="389.8" r="1.6" fill="#f2ec6c"/>
<circle cx="47.0" cy="258.0" r="1.6" fill="#92cff4"/>
<circle cx="163.9" cy="299.0" r="1.6" fill="#f9af94"/>
<circle cx="147.6" cy="320.2" r="1.6" fill="#f2ec6c"/>
<circle cx="84.0" cy="320.1" r="1.6" fill="#7d54d6"/>
<circle cx="252.9" cy="356.8" r="1.6" fill="#f9af94"/>
<circle cx="97.9" cy="301.1" r="1.6" fill="#92cff4"/>
<circle cx="172.1" cy="386.5" r="1.6" fill="#f2ec6c"/>
<circle cx="92.0" cy="344.9" r="1.6" fill="#7d54d6"/>
<circle cx="118.7" cy="383.5" r="1.6" fill="#f9af94"/>
<circle cx="73.1" cy="346.4" r="1.6" fill="#f9af94"/>
<circle cx="176.0" cy="297.0" r="1.6" fill="#7d54d6"/>
<circle cx="81.4" cy="305.2" r="1.6" fill="#f9af94"/>
<circle cx="92.8" cy="314.9" r="1.6" fill="#f2ec6c"/>
<circle cx="205.0" cy="366.0" r="1.6" fill="#f9af94"/>
<circle cx="126.2" cy="372.2" r="1.6" fill="#f9af94"/>
<circle cx="61.1" cy="305.7" r="1.6" fill="#92cff4"/>
<circle cx="163.2" cy="304.6" r="1.6" fill="#f2ec6c"/>
<circle cx="166.4" cy="306.4" r="1.6" fill="#f9af94"/>
<circle cx="200.6" cy="335.1" r="1.6" fill="#f9af94"/>
<circle cx="247.0" cy="347.6" r="1.6" fill="#f9af94"/>
<circle cx="48.5" cy="312.2" r="1.6" fill="#92cff4"/>
<circle cx="174.1" cy="315.6" r="1.6" fill="#f2ec6c"/>
<circle cx="53.2" cy="306.7" r="1.6" fill="#f9af94"/>
<circle cx="188.5" cy="361.7" r="1.6" fill="#f2ec6c"/>
<circle cx="89.3" cy="323.1" r="1.6" fill="#f2ec6c"/>
<circle cx="101.2" cy="376.5" r="1.6" fill="#f2ec6c"/>
<circle cx="111.3" cy="377.4" r="1.6" fill="#f2ec6c"/>
<circle cx="93.1" cy="359.2" r="1.6" fill="#f2ec6c"/>
<circle cx="257.7" cy="346.4" r="1.6" fill="#f2ec6c"/>
<circle cx="84.5" cy="350.7" r="1.6" fill="#92cff4"/>
<circle cx="40.0" cy="279.4" r="1.6" fill="#92cff4"/>
<circle cx="58.8" cy="283.1" r="1.6" fill="#f9af94"/>
<circle cx="136.0" cy="290.0" r="1.6" fill="#f2ec6c"/>
<circle cx="89.1" cy="361.8" r="1.6" fill="#7d54d6"/>
<circle cx="87.1" cy="358.3" r="1.6" fill="#f9af94"/>
<circle cx="96.9" cy="345.9" r="1.6" fill="#f9af94"/>
<circle cx="218.1" cy="342.0" r="1.6" fill="#f9af94"/>
<circle cx="90.9" cy="356.0" r="1.6" fill="#92cff4"/>
<circle cx="249.2" cy="313.1" r="1.6" fill="#f2ec6c"/>
<circle cx="259.0" cy="331.6" r="1.6" fill="#f9af94"/>
<circle cx="183.4" cy="375.9" r="1.6" fill="#f9af94"/>
<circle cx="167.9" cy="326.1" r="1.6" fill="#f2ec6c"/>
<circle cx="86.0" cy="342.1" r="1.6" fill="#f9af94"/>
<circle cx="147.0" cy="308.4" r="1.6" fill="#f9af94"/>
<circle cx="204.0" cy="292.0" r="1.6" fill="#f9af94"/>
<circle cx="219.9" cy="378.2" r="1.6" fill="#7d54d6"/>
<circle cx="152.7" cy="307.9" r="1.6" fill="#7d54d6"/>
<circle cx="165.6" cy="331.4" r="1.6" fill="#f9af94"/>
<circle cx="20.3" cy="292.6" r="1.6" fill="#92cff4"/>
<circle cx="208.8" cy="327.0" r="1.6" fill="#f9af94"/>
<circle cx="188.1" cy="279.0" r="1.6" fill="#7d54d6"/>
<circle cx="96.0" cy="268.0" r="1.6" fill="#f9af94"/>
<circle cx="168.7" cy="351.8" r="1.6" fill="#f2ec6c"/>
<circle cx="158.1" cy="348.9" r="1.6" fill="#f9af94"/>
<circle cx="132.0" cy="322.0" r="1.6" fill="#f2ec6c"/>
<circle cx="155.7" cy="316.0" r="1.6" fill="#f9af94"/>
<circle cx="148.7" cy="350.2" r="1.6" fill="#f9af94"/>
<circle cx="186.9" cy="328.5" r="1.6" fill="#f2ec6c"/>
<circle cx="86.4" cy="322.4" r="1.6" fill="#f2ec6c"/>
<circle cx="149.2" cy="301.3" r="1.6" fill="#7d54d6"/>
<circle cx="179.6" cy="311.0" r="1.6" fill="#7d54d6"/>
<circle cx="149.1" cy="326.8" r="1.6" fill="#f9af94"/>
<circle cx="184.0" cy="304.5" r="1.6" fill="#7d54d6"/>
<circle cx="21.9" cy="285.6" r="1.6" fill="#f9af94"/>
<circle cx="296.0" cy="297.0" r="1.6" fill="#7d54d6"/>
<circle cx="86.7" cy="315.6" r="1.6" fill="#92cff4"/>
<circle cx="58.2" cy="332.9" r="1.6" fill="#92cff4"/>
<circle cx="62.7" cy="280.4" r="1.6" fill="#92cff4"/>
<circle cx="108.1" cy="308.9" r="1.6" fill="#7d54d6"/>
<circle cx="167.1" cy="292.8" r="1.6" fill="#f9af94"/>
<circle cx="197.7" cy="301.6" r="1.6" fill="#f9af94"/>
<circle cx="262.8" cy="331.5" r="1.6" fill="#f2ec6c"/>
<circle cx="174.8" cy="290.6" r="1.6" fill="#f2ec6c"/>
<circle cx="45.2" cy="278.1" r="1.6" fill="#92cff4"/>
<circle cx="276.2" cy="396.9" r="1.6" fill="#7d54d6"/>
<circle cx="162.2" cy="297.3" r="1.6" fill="#7d54d6"/>
<circle cx="189.4" cy="324.5" r="1.6" fill="#f9af94"/>
<circle cx="181.4" cy="368.8" r="1.6" fill="#f9af94"/>
<circle cx="282.9" cy="385.9" r="1.6" fill="#7d54d6"/>
<circle cx="81.9" cy="329.3" r="1.6" fill="#f2ec6c"/>
<circle cx="148.8" cy="312.8" r="1.6" fill="#f9af94"/>
<circle cx="300.0" cy="403.5" r="1.6" fill="#f2ec6c"/>
<circle cx="116.0" cy="427.5" r="1.6" fill="#7d54d6"/>
<circle cx="154.3" cy="318.5" r="1.6" fill="#f2ec6c"/>
<circle cx="174.7" cy="332.0" r="1.6" fill="#f9af94"/>
<circle cx="288.2" cy="312.7" r="1.6" fill="#7d54d6"/>
<circle cx="244.8" cy="339.3" r="1.6" fill="#7d54d6"/>
<circle cx="160.0" cy="342.0" r="1.6" fill="#f2ec6c"/>
<circle cx="213.0" cy="300.0" r="1.6" fill="#f2ec6c"/>
<circle cx="207.9" cy="303.5" r="1.6" fill="#f9af94"/>
<circle cx="150.2" cy="351.8" r="1.6" fill="#f9af94"/>
<circle cx="70.7" cy="334.6" r="1.6" fill="#92cff4"/>
<circle cx="165.9" cy="297.0" r="1.6" fill="#7d54d6"/>
<circle cx="118.9" cy="372.8" r="1.6" fill="#f9af94"/>
<circle cx="254.6" cy="311.2" r="1.6" fill="#f2ec6c"/>
<circle cx="188.8" cy="308.7" r="1.6" fill="#7d54d6"/>
<circle cx="157.7" cy="333.5" r="1.6" fill="#f2ec6c"/>
<circle cx="171.5" cy="305.4" r="1.6" fill="#f2ec6c"/>
<circle cx="264.1" cy="317.8" r="1.6" fill="#f9af94"/>
<circle cx="88.1" cy="311.3" r="1.6" fill="#f9af94"/>
<circle cx="81.5" cy="349.7" r="1.6" fill="#f9af94"/>
<circle cx="92.6" cy="376.2" r="1.6" fill="#92cff4"/>
<circle cx="171.2" cy="298.3" r="1.6" fill="#7d54d6"/>
<circle cx="72.3" cy="319.5" r="1.6" fill="#92cff4"/>
<circle cx="189.7" cy="281.6" r="1.6" fill="#f9af94"/>
<circle cx="201.0" cy="279.0" r="1.6" fill="#f2ec6c"/>
<circle cx="274.0" cy="382.3" r="1.6" fill="#7d54d6"/>
<circle cx="109.9" cy="385.8" r="1.6" fill="#92cff4"/>
<circle cx="276.9" cy="391.7" r="1.6" fill="#f9af94"/>
<circle cx="249.9" cy="328.5" r="1.6" fill="#f2ec6c"/>
<circle cx="184.0" cy="388.1" r="1.6" fill="#f9af94"/>
<circle cx="181.2" cy="392.2" r="1.6" fill="#f2ec6c"/>
<circle cx="66.3" cy="344.7" r="1.6" fill="#f2ec6c"/>
<circle cx="170.5" cy="307.4" r="1.6" fill="#f2ec6c"/>
<circle cx="206.0" cy="298.0" r="1.6" fill="#f2ec6c"/>
<circle cx="96.4" cy="365.3" r="1.6" fill="#92cff4"/>
<circle cx="90.6" cy="355.5" r="1.6" fill="#f2ec6c"/>
<circle cx="185.8" cy="377.9" r="1.6" fill="#f9af94"/>
<circle cx="203.0" cy="340.8" r="1.6" fill="#f9af94"/>
<circle cx="252.0" cy="392.4" r="1.6" fill="#f9af94"/>
<circle cx="253.4" cy="322.6" r="1.6" fill="#f2ec6c"/>
<circle cx="42.2" cy="306.0" r="1.6" fill="#92cff4"/>
<circle cx="264.6" cy="328.6" r="1.6" fill="#f9af94"/>
<circle cx="257.3" cy="363.6" r="1.6" fill="#7d54d6"/>
<circle cx="112.8" cy="386.6" r="1.6" fill="#f9af94"/>
<circle cx="154.9" cy="297.6" r="1.6" fill="#f9af94"/>
<circle cx="158.0" cy="351.0" r="1.6" fill="#f9af94"/>
<circle cx="87.7" cy="351.1" r="1.6" fill="#f2ec6c"/>
<circle cx="257.5" cy="310.0" r="1.6" fill="#f2ec6c"/>
<circle cx="154.7" cy="317.0" r="1.6" fill="#f9af94"/>
<circle cx="287.3" cy="392.5" r="1.6" fill="#7d54d6"/>
<circle cx="151.4" cy="319.7" r="1.6" fill="#f9af94"/>
<circle cx="101.8" cy="363.9" r="1.6" fill="#f2ec6c"/>
<circle cx="106.4" cy="375.5" r="1.6" fill="#f2ec6c"/>
<circle cx="84.3" cy="343.7" r="1.6" fill="#7d54d6"/>
<circle cx="157.2" cy="324.4" r="1.6" fill="#f2ec6c"/>
<circle cx="299.0" cy="474.0" r="1.6" fill="#7d54d6"/>
<circle cx="100.1" cy="288.0" r="1.6" fill="#92cff4"/>
<circle cx="82.2" cy="296.5" r="1.6" fill="#92cff4"/>
<circle cx="251.9" cy="327.2" r="1.6" fill="#f9af94"/>
<circle cx="87.5" cy="356.7" r="1.6" fill="#f9af94"/>
<circle cx="117.5" cy="367.7" r="1.6" fill="#92cff4"/>
<circle cx="156.0" cy="341.0" r="1.6" fill="#f9af94"/>
<circle cx="254.1" cy="332.1" r="1.6" fill="#f2ec6c"/>
<circle cx="50.0" cy="303.6" r="1.6" fill="#f9af94"/>
<circle cx="155.8" cy="301.0" r="1.6" fill="#f2ec6c"/>
<circle cx="84.5" cy="310.3" r="1.6" fill="#f9af94"/>
<circle cx="253.4" cy="341.6" r="1.6" fill="#f2ec6c"/>
<circle cx="164.6" cy="298.1" r="1.6" fill="#7d54d6"/>
<circle cx="184.7" cy="341.4" r="1.6" fill="#7d54d6"/>
<circle cx="124.6" cy="369.6" r="1.6" fill="#f2ec6c"/>
<circle cx="282.8" cy="385.6" r="1.6" fill="#f9af94"/>
<circle cx="53.9" cy="283.2" r="1.6" fill="#f9af94"/>
<circle cx="174.3" cy="298.6" r="1.6" fill="#f9af94"/>
<circle cx="258.3" cy="346.7" r="1.6" fill="#7d54d6"/>
<circle cx="175.9" cy="276.9" r="1.6" fill="#f2ec6c"/>
<circle cx="134.2" cy="333.4" r="1.6" fill="#7d54d6"/>
<circle cx="138.7" cy="349.3" r="1.6" fill="#f2ec6c"/>
<circle cx="186.3" cy="282.8" r="1.6" fill="#f2ec6c"/>
<circle cx="69.2" cy="313.9" r="1.6" fill="#92cff4"/>
<circle cx="248.4" cy="349.0" r="1.6" fill="#f9af94"/>
<circle cx="243.5" cy="354.4" r="1.6" fill="#f9af94"/>
<circle cx="197.3" cy="372.0" r="1.6" fill="#f2ec6c"/>
<circle cx="247.9" cy="351.5" r="1.6" fill="#f9af94"/>
<circle cx="166.3" cy="301.7" r="1.6" fill="#f9af94"/>
<circle cx="96.8" cy="309.4" r="1.6" fill="#92cff4"/>
<circle cx="296.5" cy="472.5" r="1.6" fill="#7d54d6"/>
<circle cx="211.2" cy="341.1" r="1.6" fill="#f9af94"/>
<circle cx="250.4" cy="333.0" r="1.6" fill="#f2ec6c"/>
<circle cx="266.1" cy="329.4" r="1.6" fill="#f9af94"/>
<circle cx="85.5" cy="302.7" r="1.6" fill="#92cff4"/>
<circle cx="59.1" cy="318.6" r="1.6" fill="#92cff4"/>
<circle cx="42.7" cy="273.9" r="1.6" fill="#f9af94"/>
<circle cx="79.4" cy="350.1" r="1.6" fill="#92cff4"/>
<circle cx="255.1" cy="387.6" r="1.6" fill="#f9af94"/>
<circle cx="84.5" cy="329.3" r="1.6" fill="#92cff4"/>
<circle cx="106.1" cy="317.9" r="1.6" fill="#7d54d6"/>
<circle cx="57.3" cy="328.5" r="1.6" fill="#92cff4"/>
<circle cx="172.4" cy="322.1" r="1.6" fill="#7d54d6"/>
<circle cx="87.7" cy="321.9" r="1.6" fill="#f2ec6c"/>
<circle cx="93.2" cy="356.0" r="1.6" fill="#92cff4"/>
<circle cx="180.9" cy="301.4" r="1.6" fill="#7d54d6"/>
<circle cx="85.4" cy="334.3" r="1.6" fill="#92cff4"/>
<circle cx="98.4" cy="373.1" r="1.6" fill="#92cff4"/>
<circle cx="91.0" cy="312.2" r="1.6" fill="#f9af94"/>
<circle cx="63.0" cy="342.9" r="1.6" fill="#92cff4"/>
<circle cx="101.5" cy="407.8" r="1.6" fill="#7d54d6"/>
<circle cx="164.4" cy="320.3" r="1.6" fill="#f9af94"/>
<circle cx="63.3" cy="304.5" r="1.6" fill="#f9af94"/>
<circle cx="85.2" cy="319.8" r="1.6" fill="#92cff4"/>
<circle cx="166.1" cy="290.4" r="1.6" fill="#f9af94"/>
<circle cx="72.6" cy="327.7" r="1.6" fill="#92cff4"/>
<circle cx="235.7" cy="342.9" r="1.6" fill="#f9af94"/>
<circle cx="167.1" cy="308.3" r="1.6" fill="#f2ec6c"/>
<circle cx="71.7" cy="341.4" r="1.6" fill="#f9af94"/>
<circle cx="281.4" cy="369.5" r="1.6" fill="#7d54d6"/>
<circle cx="87.9" cy="322.6" r="1.6" fill="#f2ec6c"/>
<circle cx="259.0" cy="349.8" r="1.6" fill="#f2ec6c"/>
<circle cx="206.6" cy="324.3" r="1.6" fill="#f9af94"/>
<circle cx="86.4" cy="322.9" r="1.6" fill="#f2ec6c"/>
<circle cx="99.0" cy="412.1" r="1.6" fill="#7d54d6"/>
<circle cx="30.6" cy="281.5" r="1.6" fill="#f9af94"/>
<circle cx="140.2" cy="324.0" r="1.6" fill="#f2ec6c"/>
<circle cx="59.0" cy="329.8" r="1.6" fill="#92cff4"/>
<circle cx="263.6" cy="328.6" r="1.6" fill="#f2ec6c"/>
<circle cx="168.0" cy="381.6" r="1.6" fill="#f9af94"/>
<circle cx="18.4" cy="282.3" r="1.6" fill="#f9af94"/>
<circle cx="88.5" cy="316.5" r="1.6" fill="#f2ec6c"/>
<circle cx="276.6" cy="395.9" r="1.6" fill="#f9af94"/>
<circle cx="70.4" cy="288.7" r="1.6" fill="#92cff4"/>
<circle cx="69.6" cy="332.8" r="1.6" fill="#f9af94"/>
<circle cx="102.6" cy="394.3" r="1.6" fill="#7d54d6"/>
<circle cx="277.5" cy="320.3" r="1.6" fill="#7d54d6"/>
<circle cx="282.0" cy="297.0" r="1.6" fill="#7d54d6"/>
<circle cx="277.3" cy="366.0" r="1.6" fill="#7d54d6"/>
<circle cx="285.3" cy="379.9" r="1.6" fill="#f2ec6c"/>
<circle cx="72.6" cy="339.0" r="1.6" fill="#92cff4"/>
<circle cx="185.6" cy="293.9" r="1.6" fill="#7d54d6"/>
<circle cx="123.2" cy="359.2" r="1.6" fill="#f2ec6c"/>
<circle cx="278.3" cy="320.3" r="1.6" fill="#7d54d6"/>
<circle cx="51.6" cy="310.8" r="1.6" fill="#f9af94"/>
<circle cx="35.8" cy="292.8" r="1.6" fill="#92cff4"/>
<circle cx="259.4" cy="334.3" r="1.6" fill="#f2ec6c"/>
<circle cx="189.5" cy="293.1" r="1.6" fill="#f9af94"/>
<circle cx="96.6" cy="305.5" r="1.6" fill="#92cff4"/>
<circle cx="87.7" cy="326.6" r="1.6" fill="#f2ec6c"/>
<circle cx="167.6" cy="279.9" r="1.6" fill="#f9af94"/>
<circle cx="172.7" cy="385.9" r="1.6" fill="#7d54d6"/>
<circle cx="95.9" cy="392.7" r="1.6" fill="#7d54d6"/>
<circle cx="170.0" cy="340.0" r="1.6" fill="#f2ec6c"/>
<circle cx="123.4" cy="319.3" r="1.6" fill="#7d54d6"/>
<circle cx="270.0" cy="321.9" r="1.6" fill="#f9af94"/>
<circle cx="50.1" cy="314.8" r="1.6" fill="#92cff4"/>
<circle cx="278.6" cy="389.9" r="1.6" fill="#7d54d6"/>
<circle cx="186.6" cy="299.3" r="1.6" fill="#7d54d6"/>
<circle cx="172.7" cy="334.7" r="1.6" fill="#f9af94"/>
<circle cx="167.9" cy="351.9" r="1.6" fill="#f2ec6c"/>
<circle cx="271.8" cy="335.5" r="1.6" fill="#f9af94"/>
<circle cx="246.0" cy="333.0" r="1.6" fill="#f2ec6c"/>
<circle cx="50.1" cy="290.7" r="1.6" fill="#92cff4"/>
<circle cx="70.9" cy="324.3" r="1.6" fill="#f2ec6c"/>
<circle cx="185.9" cy="278.5" r="1.6" fill="#f9af94"/>
<circle cx="87.3" cy="360.9" r="1.6" fill="#f2ec6c"/>
<circle cx="100.2" cy="369.9" r="1.6" fill="#f9af94"/>
<circle cx="51.4" cy="301.1" r="1.6" fill="#92cff4"/>
<circle cx="68.2" cy="296.3" r="1.6" fill="#f9af94"/>
<circle cx="82.8" cy="347.8" r="1.6" fill="#7d54d6"/>
<circle cx="104.2" cy="364.7" r="1.6" fill="#f9af94"/>
<circle cx="167.0" cy="319.6" r="1.6" fill="#7d54d6"/>
<circle cx="250.8" cy="330.1" r="1.6" fill="#f2ec6c"/>
<circle cx="119.5" cy="381.2" r="1.6" fill="#f9af94"/>
<circle cx="92.3" cy="313.7" r="1.6" fill="#92cff4"/>
<circle cx="177.6" cy="308.6" r="1.6" fill="#7d54d6"/>
<circle cx="61.7" cy="337.5" r="1.6" fill="#f2ec6c"/>
<circle cx="109.0" cy="392.5" r="1.6" fill="#f9af94"/>
<circle cx="73.1" cy="344.9" r="1.6" fill="#92cff4"/>
<circle cx="200.5" cy="329.7" r="1.6" fill="#f9af94"/>
<circle cx="231.7" cy="324.8" r="1.6" fill="#7d54d6"/>
<circle cx="95.4" cy="332.3" r="1.6" fill="#92cff4"/>
<circle cx="276.7" cy="389.2" r="1.6" fill="#f9af94"/>
<circle cx="307.0" cy="377.5" r="1.6" fill="#f2ec6c"/>
<circle cx="183.1" cy="389.1" r="1.6" fill="#f9af94"/>
<circle cx="250.1" cy="358.6" r="1.6" fill="#f9af94"/>
<circle cx="182.3" cy="377.9" r="1.6" fill="#7d54d6"/>
<circle cx="45.6" cy="285.8" r="1.6" fill="#92cff4"/>
<circle cx="67.6" cy="313.7" r="1.6" fill="#92cff4"/>
<circle cx="47.7" cy="297.5" r="1.6" fill="#92cff4"/>
<circle cx="123.4" cy="370.2" r="1.6" fill="#f9af94"/>
<circle cx="161.8" cy="296.4" r="1.6" fill="#7d54d6"/>
<circle cx="180.7" cy="289.2" r="1.6" fill="#f9af94"/>
<circle cx="35.6" cy="375.0" r="1.6" fill="#7d54d6"/>
<circle cx="186.5" cy="311.3" r="1.6" fill="#7d54d6"/>
<circle cx="35.5" cy="277.3" r="1.6" fill="#92cff4"/>
<circle cx="284.8" cy="315.4" r="1.6" fill="#f9af94"/>
<circle cx="97.7" cy="315.0" r="1.6" fill="#92cff4"/>
<circle cx="48.0" cy="286.9" r="1.6" fill="#92cff4"/>
<circle cx="189.6" cy="301.6" r="1.6" fill="#f2ec6c"/>
<circle cx="177.4" cy="319.7" r="1.6" fill="#f2ec6c"/>
<circle cx="119.1" cy="375.9" r="1.6" fill="#f9af94"/>
<circle cx="183.7" cy="302.7" r="1.6" fill="#f9af94"/>
<circle cx="155.5" cy="321.6" r="1.6" fill="#7d54d6"/>
<circle cx="210.7" cy="368.7" r="1.6" fill="#f2ec6c"/>
<circle cx="170.2" cy="309.2" r="1.6" fill="#f2ec6c"/>
<circle cx="241.5" cy="365.0" r="1.6" fill="#f9af94"/>
<circle cx="29.3" cy="287.7" r="1.6" fill="#92cff4"/>
<circle cx="245.7" cy="327.1" r="1.6" fill="#f9af94"/>
<circle cx="9.3" cy="374.0" r="1.6" fill="#7d54d6"/>
<circle cx="185.9" cy="290.1" r="1.6" fill="#7d54d6"/>
<circle cx="270.4" cy="377.3" r="1.6" fill="#7d54d6"/>
<circle cx="150.1" cy="299.9" r="1.6" fill="#f9af94"/>
<circle cx="100.6" cy="293.0" r="1.6" fill="#7d54d6"/>
<circle cx="184.8" cy="323.1" r="1.6" fill="#f9af94"/>
<circle cx="15.0" cy="289.1" r="1.6" fill="#f9af94"/>
<circle cx="118.4" cy="382.1" r="1.6" fill="#f9af94"/>
<circle cx="231.6" cy="370.4" r="1.6" fill="#f2ec6c"/>
<circle cx="246.9" cy="336.0" r="1.6" fill="#f2ec6c"/>
<circle cx="187.4" cy="324.2" r="1.6" fill="#7d54d6"/>
<circle cx="159.0" cy="312.0" r="1.6" fill="#f2ec6c"/>
<circle cx="33.5" cy="280.8" r="1.6" fill="#92cff4"/>
<circle cx="92.2" cy="380.4" r="1.6" fill="#92cff4"/>
<circle cx="153.7" cy="312.6" r="1.6" fill="#f9af94"/>
<circle cx="36.0" cy="286.8" r="1.6" fill="#7d54d6"/>
<circle cx="78.6" cy="333.7" r="1.6" fill="#92cff4"/>
<circle cx="187.3" cy="376.1" r="1.6" fill="#f2ec6c"/>
<circle cx="165.3" cy="331.0" r="1.6" fill="#f9af94"/>
<circle cx="98.3" cy="417.1" r="1.6" fill="#f2ec6c"/>
<circle cx="3.0" cy="310.0" r="1.6" fill="#7d54d6"/>
<circle cx="83.2" cy="344.9" r="1.6" fill="#7d54d6"/>
<circle cx="254.5" cy="329.0" r="1.6" fill="#f2ec6c"/>
<circle cx="243.6" cy="344.3" r="1.6" fill="#f9af94"/>
<circle cx="41.5" cy="277.1" r="1.6" fill="#f9af94"/>
<circle cx="94.5" cy="331.2" r="1.6" fill="#92cff4"/>
<circle cx="52.5" cy="313.6" r="1.6" fill="#f9af94"/>
<circle cx="150.4" cy="350.4" r="1.6" fill="#f9af94"/>
<circle cx="184.4" cy="296.6" r="1.6" fill="#f2ec6c"/>
<circle cx="224.2" cy="344.4" r="1.6" fill="#7d54d6"/>
<circle cx="275.6" cy="388.4" r="1.6" fill="#f2ec6c"/>
<circle cx="78.1" cy="344.8" r="1.6" fill="#92cff4"/>
<circle cx="125.0" cy="340.6" r="1.6" fill="#f2ec6c"/>
<circle cx="222.6" cy="323.6" r="1.6" fill="#f9af94"/>
<circle cx="102.5" cy="309.1" r="1.6" fill="#7d54d6"/>
<circle cx="172.9" cy="297.9" r="1.6" fill="#f9af94"/>
<circle cx="259.4" cy="348.4" r="1.6" fill="#7d54d6"/>
<circle cx="218.5" cy="341.3" r="1.6" fill="#7d54d6"/>
<circle cx="55.0" cy="324.9" r="1.6" fill="#f2ec6c"/>
<circle cx="141.6" cy="322.3" r="1.6" fill="#f9af94"/>
<circle cx="187.8" cy="310.1" r="1.6" fill="#f9af94"/>
<circle cx="99.1" cy="375.8" r="1.6" fill="#92cff4"/>
<circle cx="152.3" cy="304.3" r="1.6" fill="#7d54d6"/>
<circle cx="214.3" cy="333.7" r="1.6" fill="#f9af94"/>
<circle cx="246.3" cy="341.3" r="1.6" fill="#f2ec6c"/>
<circle cx="56.6" cy="314.3" r="1.6" fill="#f9af94"/>
<circle cx="150.7" cy="312.2" r="1.6" fill="#f9af94"/>
<circle cx="200.1" cy="290.8" r="1.6" fill="#f9af94"/>
<circle cx="173.5" cy="329.2" r="1.6" fill="#f9af94"/>
<circle cx="266.9" cy="377.6" r="1.6" fill="#7d54d6"/>
<circle cx="243.6" cy="341.6" r="1.6" fill="#f9af94"/>
<circle cx="55.7" cy="312.0" r="1.6" fill="#f2ec6c"/>
<circle cx="106.5" cy="428.0" r="1.6" fill="#f2ec6c"/>
<circle cx="263.8" cy="328.2" r="1.6" fill="#f9af94"/>
<circle cx="68.2" cy="340.2" r="1.6" fill="#7d54d6"/>
<circle cx="180.2" cy="321.1" r="1.6" fill="#f9af94"/>
<circle cx="180.6" cy="300.8" r="1.6" fill="#f9af94"/>
<circle cx="178.1" cy="309.8" r="1.6" fill="#f9af94"/>
<circle cx="162.0" cy="319.9" r="1.6" fill="#f2ec6c"/>
<circle cx="212.0" cy="308.0" r="1.6" fill="#7d54d6"/>
<circle cx="153.7" cy="308.8" r="1.6" fill="#f9af94"/>
<circle cx="158.0" cy="342.5" r="1.6" fill="#f2ec6c"/>
<circle cx="225.1" cy="388.3" r="1.6" fill="#f2ec6c"/>
<circle cx="43.7" cy="291.7" r="1.6" fill="#f9af94"/>
<circle cx="97.1" cy="374.2" r="1.6" fill="#92cff4"/>
<circle cx="93.4" cy="380.9" r="1.6" fill="#7d54d6"/>
<circle cx="163.2" cy="305.8" r="1.6" fill="#f2ec6c"/>
<circle cx="86.9" cy="297.8" r="1.6" fill="#92cff4"/>
<circle cx="72.1" cy="330.4" r="1.6" fill="#92cff4"/>
<circle cx="91.5" cy="307.4" r="1.6" fill="#92cff4"/>
<circle cx="27.6" cy="274.1" r="1.6" fill="#f9af94"/>
<circle cx="256.6" cy="325.3" r="1.6" fill="#f2ec6c"/>
<circle cx="283.8" cy="392.5" r="1.6" fill="#7d54d6"/>
<circle cx="172.5" cy="316.7" r="1.6" fill="#7d54d6"/>
<circle cx="105.4" cy="360.8" r="1.6" fill="#f2ec6c"/>
<circle cx="109.0" cy="270.0" r="1.6" fill="#f2ec6c"/>
<circle cx="180.0" cy="317.8" r="1.6" fill="#f9af94"/>
<circle cx="92.9" cy="287.0" r="1.6" fill="#92cff4"/>
<circle cx="61.3" cy="310.0" r="1.6" fill="#92cff4"/>
<circle cx="98.2" cy="361.7" r="1.6" fill="#92cff4"/>
<circle cx="162.9" cy="297.5" r="1.6" fill="#f9af94"/>
<circle cx="143.2" cy="348.8" r="1.6" fill="#7d54d6"/>
<circle cx="158.9" cy="307.1" r="1.6" fill="#f9af94"/>
<circle cx="176.1" cy="317.9" r="1.6" fill="#7d54d6"/>
<circle cx="90.0" cy="319.1" r="1.6" fill="#92cff4"/>
<circle cx="153.7" cy="320.3" r="1.6" fill="#f9af94"/>
<circle cx="197.7" cy="328.2" r="1.6" fill="#f9af94"/>
<circle cx="103.6" cy="347.0" r="1.6" fill="#f2ec6c"/>
<circle cx="105.8" cy="308.8" r="1.6" fill="#92cff4"/>
<circle cx="245.8" cy="323.7" r="1.6" fill="#7d54d6"/>
<circle cx="79.0" cy="333.0" r="1.6" fill="#92cff4"/>
<circle cx="70.9" cy="316.8" r="1.6" fill="#92cff4"/>
<circle cx="159.1" cy="326.4" r="1.6" fill="#f9af94"/>
<circle cx="154.8" cy="296.4" r="1.6" fill="#7d54d6"/>
<circle cx="244.9" cy="359.8" r="1.6" fill="#f9af94"/>
<circle cx="223.9" cy="368.5" r="1.6" fill="#7d54d6"/>
<circle cx="85.9" cy="359.9" r="1.6" fill="#f9af94"/>
<circle cx="281.0" cy="311.4" r="1.6" fill="#f9af94"/>
<circle cx="83.5" cy="351.7" r="1.6" fill="#92cff4"/>
<circle cx="285.7" cy="392.1" r="1.6" fill="#7d54d6"/>
<circle cx="152.5" cy="304.7" r="1.6" fill="#7d54d6"/>
<circle cx="270.7" cy="393.6" r="1.6" fill="#f9af94"/>
<circle cx="74.4" cy="307.1" r="1.6" fill="#92cff4"/>
<circle cx="163.8" cy="324.3" r="1.6" fill="#7d54d6"/>
<circle cx="53.5" cy="306.1" r="1.6" fill="#f2ec6c"/>
<circle cx="158.1" cy="295.5" r="1.6" fill="#7d54d6"/>
<circle cx="125.3" cy="367.6" r="1.6" fill="#f9af94"/>
<circle cx="164.0" cy="294.1" r="1.6" fill="#7d54d6"/>
<circle cx="170.7" cy="305.3" r="1.6" fill="#f9af94"/>
<circle cx="201.7" cy="332.2" r="1.6" fill="#f2ec6c"/>
<circle cx="90.8" cy="374.6" r="1.6" fill="#92cff4"/>
<circle cx="249.8" cy="344.0" r="1.6" fill="#f2ec6c"/>
<circle cx="100.9" cy="309.7" r="1.6" fill="#92cff4"/>
<circle cx="57.3" cy="303.6" r="1.6" fill="#f9af94"/>
<circle cx="61.5" cy="318.0" r="1.6" fill="#f9af94"/>
<circle cx="43.8" cy="302.2" r="1.6" fill="#f9af94"/>
<circle cx="297.5" cy="475.0" r="1.6" fill="#7d54d6"/>
<circle cx="163.8" cy="311.7" r="1.6" fill="#7d54d6"/>
<circle cx="241.5" cy="262.5" r="1.6" fill="#7d54d6"/>
<circle cx="258.6" cy="388.4" r="1.6" fill="#f9af94"/>
<circle cx="183.0" cy="320.9" r="1.6" fill="#f2ec6c"/>
<circle cx="126.0" cy="373.6" r="1.6" fill="#92cff4"/>
<circle cx="283.4" cy="397.7" r="1.6" fill="#7d54d6"/>
<circle cx="181.7" cy="392.9" r="1.6" fill="#f2ec6c"/>
<circle cx="145.9" cy="329.7" r="1.6" fill="#f2ec6c"/>
<circle cx="272.6" cy="274.0" r="1.6" fill="#7d54d6"/>
<circle cx="104.1" cy="377.1" r="1.6" fill="#f2ec6c"/>
<circle cx="173.6" cy="281.7" r="1.6" fill="#f2ec6c"/>
<circle cx="163.3" cy="293.3" r="1.6" fill="#f2ec6c"/>
<circle cx="28.7" cy="282.7" r="1.6" fill="#92cff4"/>
<circle cx="63.7" cy="340.0" r="1.6" fill="#f9af94"/>
<circle cx="40.8" cy="284.9" r="1.6" fill="#f9af94"/>
<circle cx="157.8" cy="314.9" r="1.6" fill="#7d54d6"/>
<circle cx="154.6" cy="308.7" r="1.6" fill="#7d54d6"/>
<circle cx="152.8" cy="295.5" r="1.6" fill="#7d54d6"/>
<circle cx="171.8" cy="300.9" r="1.6" fill="#7d54d6"/>
<circle cx="285.2" cy="395.8" r="1.6" fill="#7d54d6"/>
<circle cx="52.5" cy="304.4" r="1.6" fill="#f9af94"/>
<circle cx="243.3" cy="361.4" r="1.6" fill="#f9af94"/>
<circle cx="72.7" cy="321.2" r="1.6" fill="#92cff4"/>
<circle cx="158.9" cy="323.8" r="1.6" fill="#f2ec6c"/>
<circle cx="193.5" cy="310.0" r="1.6" fill="#7d54d6"/>
<circle cx="168.9" cy="299.0" r="1.6" fill="#f9af94"/>
<circle cx="163.9" cy="312.9" r="1.6" fill="#f2ec6c"/>
<circle cx="199.8" cy="306.7" r="1.6" fill="#f9af94"/>
<circle cx="101.9" cy="363.7" r="1.6" fill="#92cff4"/>
<circle cx="164.0" cy="322.1" r="1.6" fill="#f2ec6c"/>
<circle cx="82.6" cy="330.6" r="1.6" fill="#f2ec6c"/>
<circle cx="149.2" cy="297.0" r="1.6" fill="#f2ec6c"/>
<circle cx="118.7" cy="385.2" r="1.6" fill="#f9af94"/>
<circle cx="62.1" cy="334.0" r="1.6" fill="#92cff4"/>
<circle cx="188.7" cy="285.1" r="1.6" fill="#f2ec6c"/>
<circle cx="96.7" cy="384.7" r="1.6" fill="#92cff4"/>
<circle cx="196.1" cy="384.7" r="1.6" fill="#f2ec6c"/>
<circle cx="123.7" cy="299.9" r="1.6" fill="#7d54d6"/>
<circle cx="153.0" cy="327.5" r="1.6" fill="#f9af94"/>
<circle cx="168.5" cy="282.4" r="1.6" fill="#7d54d6"/>
<circle cx="170.8" cy="299.2" r="1.6" fill="#f9af94"/>
<circle cx="169.2" cy="305.8" r="1.6" fill="#f2ec6c"/>
<circle cx="52.8" cy="309.1" r="1.6" fill="#7d54d6"/>
<circle cx="282.1" cy="376.7" r="1.6" fill="#f2ec6c"/>
<circle cx="73.3" cy="346.5" r="1.6" fill="#f2ec6c"/>
<circle cx="225.4" cy="348.7" r="1.6" fill="#7d54d6"/>
<circle cx="223.1" cy="352.5" r="1.6" fill="#f9af94"/>
<circle cx="93.1" cy="384.3" r="1.6" fill="#f9af94"/>
<circle cx="169.7" cy="279.0" r="1.6" fill="#7d54d6"/>
<circle cx="283.5" cy="377.2" r="1.6" fill="#7d54d6"/>
<circle cx="186.8" cy="321.9" r="1.6" fill="#f9af94"/>
<circle cx="248.9" cy="340.2" r="1.6" fill="#f2ec6c"/>
<circle cx="71.4" cy="311.7" r="1.6" fill="#92cff4"/>
<circle cx="105.5" cy="321.2" r="1.6" fill="#7d54d6"/>
<circle cx="109.8" cy="376.8" r="1.6" fill="#92cff4"/>
<circle cx="76.7" cy="307.4" r="1.6" fill="#92cff4"/>
<circle cx="96.4" cy="399.3" r="1.6" fill="#f2ec6c"/>
<circle cx="109.3" cy="313.2" r="1.6" fill="#7d54d6"/>
<circle cx="251.4" cy="327.7" r="1.6" fill="#f2ec6c"/>
<circle cx="163.0" cy="339.0" r="1.6" fill="#f9af94"/>
<circle cx="93.8" cy="326.6" r="1.6" fill="#f2ec6c"/>
<circle cx="178.4" cy="332.2" r="1.6" fill="#7d54d6"/>
<circle cx="242.7" cy="355.5" r="1.6" fill="#f9af94"/>
<circle cx="298.0" cy="372.5" r="1.6" fill="#7d54d6"/>
<circle cx="73.5" cy="345.3" r="1.6" fill="#7d54d6"/>
<circle cx="100.9" cy="366.3" r="1.6" fill="#92cff4"/>
<circle cx="141.9" cy="300.1" r="1.6" fill="#7d54d6"/>
<circle cx="147.1" cy="295.0" r="1.6" fill="#7d54d6"/>
<circle cx="78.5" cy="332.3" r="1.6" fill="#f2ec6c"/>
<circle cx="76.5" cy="321.4" r="1.6" fill="#92cff4"/>
<circle cx="158.6" cy="317.0" r="1.6" fill="#f9af94"/>
<circle cx="23.3" cy="288.6" r="1.6" fill="#f9af94"/>
<circle cx="218.0" cy="328.7" r="1.6" fill="#f9af94"/>
<circle cx="184.3" cy="280.3" r="1.6" fill="#f9af94"/>
<circle cx="149.9" cy="305.6" r="1.6" fill="#f9af94"/>
<circle cx="75.1" cy="343.4" r="1.6" fill="#f9af94"/>
<circle cx="135.8" cy="309.9" r="1.6" fill="#7d54d6"/>
<circle cx="227.8" cy="346.0" r="1.6" fill="#f9af94"/>
<circle cx="203.0" cy="365.0" r="1.6" fill="#f2ec6c"/>
<circle cx="51.6" cy="328.0" r="1.6" fill="#f9af94"/>
<circle cx="184.1" cy="359.2" r="1.6" fill="#f9af94"/>
<circle cx="92.5" cy="315.7" r="1.6" fill="#f2ec6c"/>
<circle cx="152.2" cy="321.4" r="1.6" fill="#f2ec6c"/>
<circle cx="103.4" cy="359.6" r="1.6" fill="#92cff4"/>
<circle cx="159.5" cy="322.5" r="1.6" fill="#7d54d6"/>
<circle cx="87.7" cy="345.5" r="1.6" fill="#f2ec6c"/>
<circle cx="143.9" cy="331.2" r="1.6" fill="#f2ec6c"/>
<circle cx="170.2" cy="326.3" r="1.6" fill="#7d54d6"/>
<circle cx="162.0" cy="325.7" r="1.6" fill="#f9af94"/>
<circle cx="237.5" cy="347.5" r="1.6" fill="#f2ec6c"/>
<circle cx="116.2" cy="370.3" r="1.6" fill="#f2ec6c"/>
<circle cx="91.2" cy="319.0" r="1.6" fill="#f2ec6c"/>
<circle cx="269.3" cy="322.0" r="1.6" fill="#f2ec6c"/>
<circle cx="163.8" cy="327.3" r="1.6" fill="#f2ec6c"/>
<circle cx="55.3" cy="314.6" r="1.6" fill="#f9af94"/>
<circle cx="181.2" cy="300.5" r="1.6" fill="#f2ec6c"/>
<circle cx="180.1" cy="287.6" r="1.6" fill="#f9af94"/>
<circle cx="98.5" cy="346.5" r="1.6" fill="#f9af94"/>
<circle cx="121.7" cy="324.7" r="1.6" fill="#f2ec6c"/>
<circle cx="287.1" cy="391.7" r="1.6" fill="#f9af94"/>
<circle cx="232.7" cy="329.9" r="1.6" fill="#7d54d6"/>
<circle cx="20.1" cy="295.2" r="1.6" fill="#92cff4"/>
<circle cx="269.1" cy="395.1" r="1.6" fill="#f9af94"/>
<circle cx="260.5" cy="388.3" r="1.6" fill="#f9af94"/>
<circle cx="264.5" cy="320.0" r="1.6" fill="#f2ec6c"/>
<circle cx="78.0" cy="268.0" r="1.6" fill="#92cff4"/>
<circle cx="187.4" cy="297.9" r="1.6" fill="#7d54d6"/>
<circle cx="83.2" cy="341.9" r="1.6" fill="#f9af94"/>
<circle cx="189.1" cy="361.2" r="1.6" fill="#f9af94"/>
<circle cx="84.4" cy="342.3" r="1.6" fill="#92cff4"/>
<circle cx="93.3" cy="334.1" r="1.6" fill="#92cff4"/>
<circle cx="192.2" cy="313.5" r="1.6" fill="#f2ec6c"/>
<circle cx="67.0" cy="311.3" r="1.6" fill="#92cff4"/>
<circle cx="75.6" cy="311.9" r="1.6" fill="#f9af94"/>
<circle cx="81.3" cy="326.9" r="1.6" fill="#f2ec6c"/>
<circle cx="123.0" cy="373.5" r="1.6" fill="#f2ec6c"/>
<circle cx="110.0" cy="412.0" r="1.6" fill="#92cff4"/>
<circle cx="19.0" cy="296.1" r="1.6" fill="#92cff4"/>
<circle cx="54.2" cy="309.2" r="1.6" fill="#92cff4"/>
<circle cx="222.0" cy="442.4" r="1.6" fill="#7d54d6"/>
<circle cx="79.3" cy="308.7" r="1.6" fill="#92cff4"/>
<circle cx="167.0" cy="323.5" r="1.6" fill="#7d54d6"/>
<circle cx="163.7" cy="328.1" r="1.6" fill="#7d54d6"/>
<circle cx="138.9" cy="333.7" r="1.6" fill="#f2ec6c"/>
<circle cx="257.3" cy="330.4" r="1.6" fill="#f2ec6c"/>
<circle cx="158.8" cy="328.1" r="1.6" fill="#f9af94"/>
<circle cx="167.1" cy="309.3" r="1.6" fill="#f2ec6c"/>
<circle cx="14.2" cy="287.7" r="1.6" fill="#92cff4"/>
<circle cx="260.8" cy="319.2" r="1.6" fill="#f2ec6c"/>
<circle cx="94.0" cy="330.5" r="1.6" fill="#92cff4"/>
<circle cx="269.6" cy="331.5" r="1.6" fill="#f2ec6c"/>
<circle cx="181.3" cy="364.2" r="1.6" fill="#f2ec6c"/>
<circle cx="300.9" cy="392.1" r="1.6" fill="#7d54d6"/>
<circle cx="102.3" cy="387.3" r="1.6" fill="#f2ec6c"/>
<circle cx="200.5" cy="306.0" r="1.6" fill="#f9af94"/>
<circle cx="198.4" cy="298.3" r="1.6" fill="#f9af94"/>
<circle cx="173.5" cy="385.1" r="1.6" fill="#f2ec6c"/>
<circle cx="303.6" cy="398.4" r="1.6" fill="#7d54d6"/>
<circle cx="176.4" cy="314.3" r="1.6" fill="#f9af94"/>
<circle cx="151.6" cy="309.3" r="1.6" fill="#7d54d6"/>
<circle cx="157.5" cy="349.8" r="1.6" fill="#f2ec6c"/>
<circle cx="192.5" cy="318.4" r="1.6" fill="#f2ec6c"/>
<circle cx="100.9" cy="313.0" r="1.6" fill="#7d54d6"/>
<circle cx="224.6" cy="340.2" r="1.6" fill="#f9af94"/>
<circle cx="91.5" cy="334.0" r="1.6" fill="#92cff4"/>
<circle cx="172.6" cy="294.8" r="1.6" fill="#f9af94"/>
<circle cx="152.0" cy="343.0" r="1.6" fill="#f2ec6c"/>
<circle cx="152.0" cy="303.7" r="1.6" fill="#f9af94"/>
<circle cx="69.0" cy="325.8" r="1.6" fill="#f9af94"/>
<circle cx="272.2" cy="365.4" r="1.6" fill="#f2ec6c"/>
<circle cx="81.6" cy="332.7" r="1.6" fill="#92cff4"/>
<circle cx="52.6" cy="327.5" r="1.6" fill="#92cff4"/>
<circle cx="178.3" cy="331.8" r="1.6" fill="#f9af94"/>
<circle cx="228.4" cy="332.2" r="1.6" fill="#f9af94"/>
<circle cx="80.5" cy="321.1" r="1.6" fill="#7d54d6"/>
<circle cx="28.2" cy="293.5" r="1.6" fill="#92cff4"/>
<circle cx="253.2" cy="367.5" r="1.6" fill="#f2ec6c"/>
<circle cx="189.2" cy="284.8" r="1.6" fill="#f2ec6c"/>
<circle cx="95.5" cy="310.9" r="1.6" fill="#92cff4"/>
<circle cx="179.2" cy="332.6" r="1.6" fill="#f9af94"/>
<circle cx="240.8" cy="355.9" r="1.6" fill="#f9af94"/>
<circle cx="161.5" cy="294.2" r="1.6" fill="#f2ec6c"/>
<circle cx="154.0" cy="294.4" r="1.6" fill="#7d54d6"/>
<circle cx="259.4" cy="327.9" r="1.6" fill="#f2ec6c"/>
<circle cx="235.1" cy="344.3" r="1.6" fill="#f9af94"/>
<circle cx="160.7" cy="349.3" r="1.6" fill="#f9af94"/>
<circle cx="277.1" cy="366.8" r="1.6" fill="#f2ec6c"/>
<circle cx="147.2" cy="349.7" r="1.6" fill="#f9af94"/>
<circle cx="49.1" cy="312.2" r="1.6" fill="#f9af94"/>
<circle cx="62.5" cy="328.1" r="1.6" fill="#f2ec6c"/>
<circle cx="236.0" cy="357.0" r="1.6" fill="#f2ec6c"/>
<circle cx="211.0" cy="329.4" r="1.6" fill="#7d54d6"/>
<circle cx="170.5" cy="304.9" r="1.6" fill="#7d54d6"/>
<circle cx="83.0" cy="255.0" r="1.6" fill="#f9af94"/>
<circle cx="84.3" cy="327.7" r="1.6" fill="#f2ec6c"/>
<circle cx="69.4" cy="329.8" r="1.6" fill="#92cff4"/>
<circle cx="170.5" cy="312.2" r="1.6" fill="#f2ec6c"/>
<circle cx="99.9" cy="371.2" r="1.6" fill="#92cff4"/>
<circle cx="253.6" cy="336.6" r="1.6" fill="#f2ec6c"/>
<circle cx="97.2" cy="418.0" r="1.6" fill="#92cff4"/>
<circle cx="185.9" cy="286.5" r="1.6" fill="#f2ec6c"/>
<circle cx="104.1" cy="367.0" r="1.6" fill="#92cff4"/>
<circle cx="158.0" cy="325.4" r="1.6" fill="#f9af94"/>
<circle cx="282.2" cy="382.2" r="1.6" fill="#f9af94"/>
<circle cx="235.2" cy="345.7" r="1.6" fill="#f9af94"/>
<circle cx="82.3" cy="328.9" r="1.6" fill="#92cff4"/>
<circle cx="239.4" cy="323.1" r="1.6" fill="#f2ec6c"/>
<circle cx="100.6" cy="383.7" r="1.6" fill="#f9af94"/>
<circle cx="96.7" cy="370.8" r="1.6" fill="#92cff4"/>
<circle cx="61.5" cy="335.8" r="1.6" fill="#f9af94"/>
<circle cx="93.6" cy="358.0" r="1.6" fill="#f2ec6c"/>
<circle cx="58.4" cy="295.6" r="1.6" fill="#7d54d6"/>
<circle cx="298.2" cy="406.6" r="1.6" fill="#7d54d6"/>
<circle cx="273.4" cy="393.5" r="1.6" fill="#f9af94"/>
<circle cx="220.8" cy="341.7" r="1.6" fill="#f9af94"/>
<circle cx="55.1" cy="324.8" r="1.6" fill="#f9af94"/>
<circle cx="170.4" cy="303.9" r="1.6" fill="#f2ec6c"/>
<circle cx="178.3" cy="363.1" r="1.6" fill="#f9af94"/>
<circle cx="235.5" cy="326.4" r="1.6" fill="#f2ec6c"/>
<circle cx="178.4" cy="312.4" r="1.6" fill="#f2ec6c"/>
<circle cx="125.9" cy="302.2" r="1.6" fill="#7d54d6"/>
<circle cx="179.0" cy="313.8" r="1.6" fill="#7d54d6"/>
<circle cx="259.1" cy="326.2" r="1.6" fill="#f2ec6c"/>
<circle cx="89.2" cy="332.2" r="1.6" fill="#92cff4"/>
<circle cx="141.0" cy="302.7" r="1.6" fill="#7d54d6"/>
<circle cx="67.0" cy="337.8" r="1.6" fill="#92cff4"/>
<circle cx="183.8" cy="290.6" r="1.6" fill="#7d54d6"/>
<circle cx="178.7" cy="366.5" r="1.6" fill="#f2ec6c"/>
<circle cx="177.4" cy="303.4" r="1.6" fill="#f9af94"/>
<circle cx="44.2" cy="297.2" r="1.6" fill="#92cff4"/>
<circle cx="268.1" cy="330.9" r="1.6" fill="#7d54d6"/>
<circle cx="179.2" cy="308.1" r="1.6" fill="#f9af94"/>
<circle cx="96.0" cy="314.3" r="1.6" fill="#f9af94"/>
<circle cx="175.3" cy="356.2" r="1.6" fill="#f9af94"/>
<circle cx="100.5" cy="349.7" r="1.6" fill="#f9af94"/>
<circle cx="190.0" cy="293.7" r="1.6" fill="#7d54d6"/>
<circle cx="83.7" cy="327.2" r="1.6" fill="#f2ec6c"/>
<circle cx="85.1" cy="330.2" r="1.6" fill="#92cff4"/>
<circle cx="105.0" cy="410.5" r="1.6" fill="#7d54d6"/>
<circle cx="180.1" cy="330.1" r="1.6" fill="#f9af94"/>
<circle cx="191.9" cy="307.1" r="1.6" fill="#f2ec6c"/>
<circle cx="167.9" cy="327.4" r="1.6" fill="#f9af94"/>
<circle cx="166.2" cy="384.8" r="1.6" fill="#7d54d6"/>
<circle cx="124.9" cy="302.9" r="1.6" fill="#7d54d6"/>
<circle cx="19.1" cy="276.6" r="1.6" fill="#92cff4"/>
<circle cx="73.2" cy="338.7" r="1.6" fill="#92cff4"/>
<circle cx="115.5" cy="385.6" r="1.6" fill="#f2ec6c"/>
<circle cx="154.9" cy="348.7" r="1.6" fill="#f9af94"/>
<circle cx="147.5" cy="329.2" r="1.6" fill="#f9af94"/>
<circle cx="221.0" cy="338.5" r="1.6" fill="#f9af94"/>
<circle cx="85.9" cy="324.0" r="1.6" fill="#f2ec6c"/>
<circle cx="180.2" cy="328.7" r="1.6" fill="#f2ec6c"/>
<circle cx="92.0" cy="368.5" r="1.6" fill="#f2ec6c"/>
<circle cx="18.2" cy="292.4" r="1.6" fill="#7d54d6"/>
<circle cx="246.8" cy="314.0" r="1.6" fill="#f9af94"/>
<circle cx="11.6" cy="295.9" r="1.6" fill="#7d54d6"/>
<circle cx="155.5" cy="295.6" r="1.6" fill="#f9af94"/>
<circle cx="81.1" cy="312.2" r="1.6" fill="#92cff4"/>
<circle cx="144.9" cy="307.6" r="1.6" fill="#7d54d6"/>
<circle cx="243.3" cy="355.5" r="1.6" fill="#f2ec6c"/>
<circle cx="75.5" cy="325.5" r="1.6" fill="#92cff4"/>
<circle cx="262.2" cy="309.4" r="1.6" fill="#f2ec6c"/>
<circle cx="59.3" cy="294.6" r="1.6" fill="#f9af94"/>
<circle cx="223.1" cy="346.1" r="1.6" fill="#7d54d6"/>
<circle cx="96.9" cy="395.2" r="1.6" fill="#f9af94"/>
<circle cx="95.1" cy="318.2" r="1.6" fill="#f2ec6c"/>
<circle cx="153.1" cy="321.7" r="1.6" fill="#f9af94"/>
<circle cx="191.8" cy="298.8" r="1.6" fill="#f9af94"/>
<circle cx="189.3" cy="333.1" r="1.6" fill="#7d54d6"/>
<circle cx="169.3" cy="330.7" r="1.6" fill="#f9af94"/>
<circle cx="90.8" cy="378.2" r="1.6" fill="#f2ec6c"/>
<circle cx="99.4" cy="368.3" r="1.6" fill="#92cff4"/>
<circle cx="58.2" cy="304.7" r="1.6" fill="#92cff4"/>
<circle cx="84.9" cy="305.4" r="1.6" fill="#f9af94"/>
<circle cx="104.4" cy="386.4" r="1.6" fill="#7d54d6"/>
<circle cx="106.6" cy="304.8" r="1.6" fill="#7d54d6"/>
<circle cx="93.8" cy="390.9" r="1.6" fill="#f9af94"/>
<circle cx="306.5" cy="375.0" r="1.6" fill="#7d54d6"/>
<circle cx="51.7" cy="318.9" r="1.6" fill="#92cff4"/>
<circle cx="172.4" cy="297.5" r="1.6" fill="#7d54d6"/>
<circle cx="43.3" cy="280.7" r="1.6" fill="#f2ec6c"/>
<circle cx="156.4" cy="293.9" r="1.6" fill="#f2ec6c"/>
<circle cx="170.9" cy="309.4" r="1.6" fill="#7d54d6"/>
<circle cx="156.2" cy="310.5" r="1.6" fill="#f2ec6c"/>
<circle cx="111.9" cy="358.8" r="1.6" fill="#7d54d6"/>
<circle cx="183.1" cy="279.2" r="1.6" fill="#f2ec6c"/>
<circle cx="255.8" cy="326.2" r="1.6" fill="#f2ec6c"/>
<circle cx="234.8" cy="376.2" r="1.6" fill="#7d54d6"/>
<circle cx="64.6" cy="283.1" r="1.6" fill="#92cff4"/>
<circle cx="156.8" cy="300.9" r="1.6" fill="#7d54d6"/>
<circle cx="157.1" cy="311.4" r="1.6" fill="#7d54d6"/>
<circle cx="198.7" cy="298.8" r="1.6" fill="#f2ec6c"/>
<circle cx="283.6" cy="370.3" r="1.6" fill="#f2ec6c"/>
<circle cx="244.3" cy="320.9" r="1.6" fill="#f2ec6c"/>
<circle cx="12.7" cy="301.5" r="1.6" fill="#7d54d6"/>
<circle cx="186.7" cy="318.6" r="1.6" fill="#f9af94"/>
<circle cx="100.0" cy="421.0" r="1.6" fill="#7d54d6"/>
<circle cx="91.4" cy="352.8" r="1.6" fill="#92cff4"/>
<circle cx="284.0" cy="352.0" r="1.6" fill="#f2ec6c"/>
<circle cx="261.4" cy="328.9" r="1.6" fill="#f2ec6c"/>
<circle cx="163.6" cy="321.2" r="1.6" fill="#f2ec6c"/>
<circle cx="178.2" cy="279.8" r="1.6" fill="#f2ec6c"/>
<circle cx="260.1" cy="333.4" r="1.6" fill="#f2ec6c"/>
<circle cx="229.1" cy="374.7" r="1.6" fill="#7d54d6"/>
<circle cx="240.6" cy="318.4" r="1.6" fill="#7d54d6"/>
<circle cx="170.5" cy="298.9" r="1.6" fill="#f9af94"/>
<circle cx="207.7" cy="338.5" r="1.6" fill="#f9af94"/>
<circle cx="177.1" cy="332.5" r="1.6" fill="#f2ec6c"/>
<circle cx="277.1" cy="326.4" r="1.6" fill="#f9af94"/>
<circle cx="96.8" cy="306.6" r="1.6" fill="#7d54d6"/>
<circle cx="90.2" cy="324.3" r="1.6" fill="#f2ec6c"/>
<circle cx="237.6" cy="348.9" r="1.6" fill="#f9af94"/>
<circle cx="143.0" cy="284.0" r="1.6" fill="#f9af94"/>
<circle cx="267.3" cy="335.0" r="1.6" fill="#f9af94"/>
<circle cx="100.1" cy="311.0" r="1.6" fill="#f9af94"/>
<circle cx="89.0" cy="321.5" r="1.6" fill="#92cff4"/>
<circle cx="142.0" cy="357.2" r="1.6" fill="#f2ec6c"/>
<circle cx="77.0" cy="301.2" r="1.6" fill="#f9af94"/>
<circle cx="57.3" cy="301.4" r="1.6" fill="#f9af94"/>
<circle cx="112.5" cy="427.0" r="1.6" fill="#7d54d6"/>
<circle cx="177.6" cy="356.6" r="1.6" fill="#f9af94"/>
<circle cx="168.3" cy="378.4" r="1.6" fill="#f9af94"/>
<circle cx="189.6" cy="290.1" r="1.6" fill="#f2ec6c"/>
<circle cx="221.0" cy="323.5" r="1.6" fill="#f2ec6c"/>
<circle cx="90.5" cy="307.8" r="1.6" fill="#f9af94"/>
<circle cx="140.0" cy="394.2" r="1.6" fill="#f2ec6c"/>
<circle cx="274.9" cy="319.3" r="1.6" fill="#7d54d6"/>
<circle cx="169.4" cy="353.2" r="1.6" fill="#f2ec6c"/>
<circle cx="97.1" cy="306.2" r="1.6" fill="#92cff4"/>
<circle cx="174.2" cy="309.5" r="1.6" fill="#f9af94"/>
<circle cx="73.2" cy="329.5" r="1.6" fill="#92cff4"/>
<circle cx="228.6" cy="369.1" r="1.6" fill="#7d54d6"/>
<circle cx="174.6" cy="302.5" r="1.6" fill="#f2ec6c"/>
<circle cx="162.1" cy="298.7" r="1.6" fill="#f9af94"/>
<circle cx="149.4" cy="329.6" r="1.6" fill="#f9af94"/>
<circle cx="58.9" cy="310.8" r="1.6" fill="#92cff4"/>
<circle cx="284.9" cy="316.6" r="1.6" fill="#7d54d6"/>
<circle cx="271.5" cy="389.7" r="1.6" fill="#7d54d6"/>
<circle cx="271.6" cy="395.4" r="1.6" fill="#f9af94"/>
<circle cx="283.0" cy="390.7" r="1.6" fill="#f2ec6c"/>
<circle cx="275.8" cy="369.3" r="1.6" fill="#f2ec6c"/>
<circle cx="184.9" cy="281.3" r="1.6" fill="#f2ec6c"/>
<circle cx="106.2" cy="366.7" r="1.6" fill="#92cff4"/>
<circle cx="176.9" cy="354.8" r="1.6" fill="#f2ec6c"/>
<circle cx="132.7" cy="421.4" r="1.6" fill="#7d54d6"/>
<circle cx="82.7" cy="333.1" r="1.6" fill="#92cff4"/>
<circle cx="103.1" cy="313.6" r="1.6" fill="#f2ec6c"/>
<circle cx="77.8" cy="327.8" r="1.6" fill="#92cff4"/>
<circle cx="259.4" cy="387.9" r="1.6" fill="#f9af94"/>
<circle cx="176.1" cy="290.7" r="1.6" fill="#f2ec6c"/>
<circle cx="38.7" cy="459.4" r="1.6" fill="#7d54d6"/>
<circle cx="162.2" cy="308.2" r="1.6" fill="#f9af94"/>
<circle cx="280.6" cy="318.0" r="1.6" fill="#f9af94"/>
<circle cx="52.3" cy="305.4" r="1.6" fill="#92cff4"/>
<circle cx="66.7" cy="280.0" r="1.6" fill="#f9af94"/>
<circle cx="222.7" cy="347.5" r="1.6" fill="#f9af94"/>
<circle cx="83.2" cy="323.8" r="1.6" fill="#92cff4"/>
<circle cx="243.9" cy="314.8" r="1.6" fill="#f9af94"/>
<circle cx="270.2" cy="366.0" r="1.6" fill="#f2ec6c"/>
<circle cx="195.1" cy="374.4" r="1.6" fill="#f2ec6c"/>
<circle cx="201.0" cy="284.6" r="1.6" fill="#7d54d6"/>
<circle cx="149.7" cy="330.7" r="1.6" fill="#f9af94"/>
<circle cx="161.6" cy="316.5" r="1.6" fill="#7d54d6"/>
<circle cx="94.7" cy="309.0" r="1.6" fill="#92cff4"/>
<circle cx="191.5" cy="315.2" r="1.6" fill="#f2ec6c"/>
<circle cx="28.9" cy="285.2" r="1.6" fill="#92cff4"/>
<circle cx="190.3" cy="316.8" r="1.6" fill="#f9af94"/>
<circle cx="188.1" cy="355.2" r="1.6" fill="#7d54d6"/>
<circle cx="154.8" cy="311.7" r="1.6" fill="#f9af94"/>
<circle cx="196.3" cy="381.4" r="1.6" fill="#f2ec6c"/>
<circle cx="81.7" cy="322.5" r="1.6" fill="#f9af94"/>
<circle cx="86.7" cy="310.3" r="1.6" fill="#92cff4"/>
<circle cx="185.7" cy="313.3" r="1.6" fill="#7d54d6"/>
<circle cx="242.4" cy="339.9" r="1.6" fill="#f2ec6c"/>
<circle cx="32.4" cy="283.7" r="1.6" fill="#f9af94"/>
<circle cx="196.5" cy="376.9" r="1.6" fill="#f9af94"/>
<circle cx="110.4" cy="285.0" r="1.6" fill="#7d54d6"/>
<circle cx="178.9" cy="336.7" r="1.6" fill="#f9af94"/>
<circle cx="181.9" cy="335.7" r="1.6" fill="#7d54d6"/>
<circle cx="97.1" cy="310.1" r="1.6" fill="#7d54d6"/>
<circle cx="121.4" cy="374.2" r="1.6" fill="#f9af94"/>
<circle cx="224.8" cy="353.9" r="1.6" fill="#f2ec6c"/>
<circle cx="182.6" cy="284.6" r="1.6" fill="#f2ec6c"/>
<circle cx="124.3" cy="368.8" r="1.6" fill="#f2ec6c"/>
<circle cx="4.1" cy="288.1" r="1.6" fill="#7d54d6"/>
<circle cx="178.7" cy="279.8" r="1.6" fill="#f2ec6c"/>
<circle cx="141.7" cy="322.0" r="1.6" fill="#f2ec6c"/>
<circle cx="256.7" cy="340.8" r="1.6" fill="#f2ec6c"/>
<circle cx="142.7" cy="298.3" r="1.6" fill="#7d54d6"/>
<circle cx="186.9" cy="305.6" r="1.6" fill="#f2ec6c"/>
<circle cx="89.1" cy="372.2" r="1.6" fill="#7d54d6"/>
<circle cx="262.0" cy="322.3" r="1.6" fill="#f2ec6c"/>
<circle cx="293.0" cy="415.0" r="1.6" fill="#7d54d6"/>
<circle cx="165.0" cy="361.5" r="1.6" fill="#f9af94"/>
<circle cx="245.6" cy="344.8" r="1.6" fill="#f9af94"/>
<circle cx="77.8" cy="304.0" r="1.6" fill="#f2ec6c"/>
<circle cx="306.5" cy="404.0" r="1.6" fill="#f2ec6c"/>
<circle cx="75.1" cy="336.8" r="1.6" fill="#92cff4"/>
<circle cx="265.1" cy="356.4" r="1.6" fill="#f9af94"/>
<circle cx="286.1" cy="386.8" r="1.6" fill="#7d54d6"/>
<circle cx="133.0" cy="287.0" r="1.6" fill="#7d54d6"/>
<circle cx="87.4" cy="319.6" r="1.6" fill="#92cff4"/>
<circle cx="94.5" cy="371.0" r="1.6" fill="#f2ec6c"/>
<circle cx="251.7" cy="338.0" r="1.6" fill="#f2ec6c"/>
<circle cx="100.8" cy="300.5" r="1.6" fill="#f9af94"/>
<circle cx="283.1" cy="314.0" r="1.6" fill="#7d54d6"/>
<circle cx="242.9" cy="364.0" r="1.6" fill="#f2ec6c"/>
<circle cx="66.6" cy="295.0" r="1.6" fill="#f9af94"/>
<circle cx="156.4" cy="349.3" r="1.6" fill="#f9af94"/>
<circle cx="123.8" cy="373.8" r="1.6" fill="#f9af94"/>
<circle cx="259.7" cy="346.8" r="1.6" fill="#7d54d6"/>
<circle cx="279.6" cy="416.7" r="1.6" fill="#f2ec6c"/>
<circle cx="40.5" cy="282.4" r="1.6" fill="#f9af94"/>
<circle cx="95.5" cy="415.6" r="1.6" fill="#f9af94"/>
<circle cx="249.0" cy="318.0" r="1.6" fill="#f9af94"/>
<circle cx="153.8" cy="301.0" r="1.6" fill="#f9af94"/>
<circle cx="221.6" cy="330.3" r="1.6" fill="#f9af94"/>
<circle cx="243.1" cy="339.5" r="1.6" fill="#f9af94"/>
<circle cx="189.1" cy="305.9" r="1.6" fill="#7d54d6"/>
<circle cx="75.9" cy="329.8" r="1.6" fill="#f2ec6c"/>
<circle cx="28.9" cy="283.3" r="1.6" fill="#92cff4"/>
<circle cx="172.5" cy="317.1" r="1.6" fill="#7d54d6"/>
<circle cx="84.9" cy="296.5" r="1.6" fill="#92cff4"/>
<circle cx="150.4" cy="310.9" r="1.6" fill="#f2ec6c"/>
<circle cx="154.6" cy="326.1" r="1.6" fill="#f9af94"/>
<circle cx="101.3" cy="375.9" r="1.6" fill="#92cff4"/>
<circle cx="91.5" cy="318.6" r="1.6" fill="#92cff4"/>
<circle cx="180.3" cy="335.7" r="1.6" fill="#7d54d6"/>
<circle cx="118.0" cy="382.1" r="1.6" fill="#7d54d6"/>
<circle cx="60.5" cy="317.8" r="1.6" fill="#92cff4"/>
<circle cx="187.5" cy="316.1" r="1.6" fill="#f2ec6c"/>
<circle cx="59.1" cy="327.0" r="1.6" fill="#92cff4"/>
<circle cx="83.2" cy="329.0" r="1.6" fill="#f2ec6c"/>
<circle cx="55.0" cy="306.1" r="1.6" fill="#f9af94"/>
<circle cx="180.4" cy="296.7" r="1.6" fill="#f2ec6c"/>
<circle cx="253.7" cy="389.0" r="1.6" fill="#f9af94"/>
<circle cx="33.2" cy="291.1" r="1.6" fill="#92cff4"/>
<circle cx="274.3" cy="320.4" r="1.6" fill="#7d54d6"/>
<circle cx="184.2" cy="373.2" r="1.6" fill="#7d54d6"/>
<circle cx="297.0" cy="375.5" r="1.6" fill="#f9af94"/>
<circle cx="86.9" cy="315.3" r="1.6" fill="#92cff4"/>
<circle cx="261.8" cy="389.7" r="1.6" fill="#7d54d6"/>
<circle cx="216.6" cy="327.1" r="1.6" fill="#f9af94"/>
<circle cx="172.6" cy="323.2" r="1.6" fill="#f9af94"/>
<circle cx="58.2" cy="327.7" r="1.6" fill="#92cff4"/>
<circle cx="95.0" cy="374.1" r="1.6" fill="#f9af94"/>
<circle cx="217.3" cy="326.8" r="1.6" fill="#f9af94"/>
<circle cx="91.0" cy="379.1" r="1.6" fill="#f9af94"/>
<circle cx="58.2" cy="330.2" r="1.6" fill="#92cff4"/>
<circle cx="183.7" cy="310.7" r="1.6" fill="#7d54d6"/>
<circle cx="183.8" cy="325.7" r="1.6" fill="#f9af94"/>
<circle cx="121.1" cy="369.6" r="1.6" fill="#f2ec6c"/>
<circle cx="9.4" cy="289.4" r="1.6" fill="#7d54d6"/>
<circle cx="246.4" cy="332.3" r="1.6" fill="#f2ec6c"/>
<circle cx="74.9" cy="308.3" r="1.6" fill="#92cff4"/>
<circle cx="126.0" cy="306.3" r="1.6" fill="#7d54d6"/>
<circle cx="91.1" cy="308.2" r="1.6" fill="#92cff4"/>
<circle cx="120.5" cy="370.0" r="1.6" fill="#f9af94"/>
<circle cx="272.4" cy="335.5" r="1.6" fill="#f9af94"/>
<circle cx="14.2" cy="290.2" r="1.6" fill="#f9af94"/>
<circle cx="176.7" cy="353.8" r="1.6" fill="#f9af94"/>
<circle cx="86.4" cy="365.1" r="1.6" fill="#92cff4"/>
<circle cx="149.1" cy="327.5" r="1.6" fill="#f2ec6c"/>
<circle cx="192.1" cy="320.0" r="1.6" fill="#f2ec6c"/>
<circle cx="56.4" cy="321.1" r="1.6" fill="#f9af94"/>
<circle cx="102.0" cy="357.8" r="1.6" fill="#f9af94"/>
<circle cx="119.0" cy="362.8" r="1.6" fill="#f2ec6c"/>
<circle cx="166.5" cy="363.0" r="1.6" fill="#f9af94"/>
<circle cx="78.4" cy="306.2" r="1.6" fill="#92cff4"/>
<circle cx="213.3" cy="326.0" r="1.6" fill="#f2ec6c"/>
<circle cx="158.2" cy="326.1" r="1.6" fill="#7d54d6"/>
<circle cx="56.5" cy="334.3" r="1.6" fill="#92cff4"/>
<circle cx="259.7" cy="389.8" r="1.6" fill="#7d54d6"/>
<circle cx="87.3" cy="345.9" r="1.6" fill="#f9af94"/>
<circle cx="270.6" cy="323.0" r="1.6" fill="#7d54d6"/>
<circle cx="21.7" cy="343.6" r="1.6" fill="#7d54d6"/>
<circle cx="97.7" cy="284.2" r="1.6" fill="#92cff4"/>
<circle cx="109.9" cy="384.7" r="1.6" fill="#f2ec6c"/>
<circle cx="57.7" cy="307.2" r="1.6" fill="#f2ec6c"/>
<circle cx="75.8" cy="306.6" r="1.6" fill="#f9af94"/>
<circle cx="158.9" cy="333.9" r="1.6" fill="#f9af94"/>
<circle cx="94.7" cy="297.9" r="1.6" fill="#7d54d6"/>
<circle cx="140.2" cy="353.4" r="1.6" fill="#7d54d6"/>
<circle cx="45.1" cy="281.3" r="1.6" fill="#f9af94"/>
<circle cx="76.5" cy="334.9" r="1.6" fill="#92cff4"/>
<circle cx="102.6" cy="349.6" r="1.6" fill="#f9af94"/>
<circle cx="57.2" cy="288.8" r="1.6" fill="#7d54d6"/>
<circle cx="186.2" cy="319.4" r="1.6" fill="#f9af94"/>
<circle cx="58.4" cy="332.8" r="1.6" fill="#92cff4"/>
<circle cx="146.2" cy="296.9" r="1.6" fill="#7d54d6"/>
<circle cx="151.1" cy="304.8" r="1.6" fill="#7d54d6"/>
<circle cx="57.3" cy="292.3" r="1.6" fill="#f9af94"/>
<circle cx="156.6" cy="327.5" r="1.6" fill="#7d54d6"/>
<circle cx="102.7" cy="410.2" r="1.6" fill="#7d54d6"/>
<circle cx="64.7" cy="320.6" r="1.6" fill="#92cff4"/>
<circle cx="207.0" cy="309.0" r="1.6" fill="#f9af94"/>
<circle cx="171.2" cy="392.2" r="1.6" fill="#7d54d6"/>
<circle cx="255.8" cy="321.3" r="1.6" fill="#f2ec6c"/>
<circle cx="91.4" cy="317.4" r="1.6" fill="#f9af94"/>
<circle cx="165.6" cy="294.9" r="1.6" fill="#f9af94"/>
<circle cx="242.4" cy="365.1" r="1.6" fill="#7d54d6"/>
<circle cx="241.7" cy="361.8" r="1.6" fill="#f2ec6c"/>
<circle cx="61.9" cy="304.6" r="1.6" fill="#f9af94"/>
<circle cx="48.3" cy="307.2" r="1.6" fill="#92cff4"/>
<circle cx="61.8" cy="326.0" r="1.6" fill="#92cff4"/>
<circle cx="192.1" cy="372.9" r="1.6" fill="#f2ec6c"/>
<circle cx="97.7" cy="390.1" r="1.6" fill="#f9af94"/>
<circle cx="182.9" cy="331.7" r="1.6" fill="#f9af94"/>
<circle cx="160.5" cy="353.9" r="1.6" fill="#f9af94"/>
<circle cx="187.2" cy="370.7" r="1.6" fill="#7d54d6"/>
<circle cx="183.3" cy="376.1" r="1.6" fill="#f9af94"/>
<circle cx="167.2" cy="294.0" r="1.6" fill="#7d54d6"/>
<circle cx="68.2" cy="325.8" r="1.6" fill="#f2ec6c"/>
<circle cx="171.5" cy="303.3" r="1.6" fill="#f2ec6c"/>
<circle cx="48.8" cy="304.5" r="1.6" fill="#f9af94"/>
<circle cx="60.9" cy="297.5" r="1.6" fill="#92cff4"/>
<circle cx="31.8" cy="304.4" r="1.6" fill="#7d54d6"/>
<circle cx="60.0" cy="303.7" r="1.6" fill="#92cff4"/>
<circle cx="153.2" cy="323.2" r="1.6" fill="#f9af94"/>
<circle cx="104.1" cy="346.9" r="1.6" fill="#f9af94"/>
<circle cx="138.5" cy="290.0" r="1.6" fill="#7d54d6"/>
<circle cx="20.0" cy="285.7" r="1.6" fill="#92cff4"/>
<circle cx="143.5" cy="330.1" r="1.6" fill="#f9af94"/>
<circle cx="163.2" cy="290.5" r="1.6" fill="#7d54d6"/>
<circle cx="163.4" cy="329.9" r="1.6" fill="#f9af94"/>
<circle cx="174.0" cy="279.3" r="1.6" fill="#f2ec6c"/>
<circle cx="144.1" cy="333.2" r="1.6" fill="#f9af94"/>
<circle cx="210.1" cy="335.7" r="1.6" fill="#f9af94"/>
<circle cx="49.9" cy="316.0" r="1.6" fill="#f9af94"/>
<circle cx="81.2" cy="310.8" r="1.6" fill="#92cff4"/>
<circle cx="63.6" cy="308.7" r="1.6" fill="#92cff4"/>
<circle cx="25.5" cy="284.1" r="1.6" fill="#92cff4"/>
<circle cx="67.7" cy="342.9" r="1.6" fill="#92cff4"/>
<circle cx="151.3" cy="322.6" r="1.6" fill="#f9af94"/>
<circle cx="232.2" cy="334.3" r="1.6" fill="#f9af94"/>
<circle cx="254.4" cy="388.7" r="1.6" fill="#f9af94"/>
<circle cx="90.8" cy="312.2" r="1.6" fill="#f2ec6c"/>
<circle cx="127.0" cy="419.0" r="1.6" fill="#7d54d6"/>
<circle cx="69.0" cy="321.7" r="1.6" fill="#92cff4"/>
<circle cx="181.0" cy="346.0" r="1.6" fill="#f2ec6c"/>
<circle cx="265.1" cy="311.6" r="1.6" fill="#f2ec6c"/>
<circle cx="268.5" cy="372.6" r="1.6" fill="#f2ec6c"/>
<circle cx="252.4" cy="333.8" r="1.6" fill="#f2ec6c"/>
<circle cx="73.6" cy="288.8" r="1.6" fill="#f9af94"/>
<circle cx="150.2" cy="349.9" r="1.6" fill="#7d54d6"/>
<circle cx="69.3" cy="310.4" r="1.6" fill="#92cff4"/>
<circle cx="148.3" cy="354.5" r="1.6" fill="#7d54d6"/>
<circle cx="249.6" cy="318.3" r="1.6" fill="#f2ec6c"/>
<circle cx="226.4" cy="338.5" r="1.6" fill="#f9af94"/>
<circle cx="210.5" cy="371.8" r="1.6" fill="#f2ec6c"/>
<circle cx="96.4" cy="306.9" r="1.6" fill="#92cff4"/>
<circle cx="59.7" cy="322.1" r="1.6" fill="#7d54d6"/>
<circle cx="163.7" cy="299.4" r="1.6" fill="#7d54d6"/>
<circle cx="94.1" cy="315.2" r="1.6" fill="#f2ec6c"/>
<circle cx="84.4" cy="340.7" r="1.6" fill="#f9af94"/>
<circle cx="27.4" cy="291.1" r="1.6" fill="#92cff4"/>
<circle cx="241.8" cy="338.6" r="1.6" fill="#f2ec6c"/>
<circle cx="254.0" cy="357.2" r="1.6" fill="#f2ec6c"/>
<circle cx="180.3" cy="337.6" r="1.6" fill="#7d54d6"/>
<circle cx="180.6" cy="387.4" r="1.6" fill="#f9af94"/>
<circle cx="143.9" cy="328.7" r="1.6" fill="#f2ec6c"/>
<circle cx="151.5" cy="322.0" r="1.6" fill="#7d54d6"/>
<circle cx="120.0" cy="360.0" r="1.6" fill="#f2ec6c"/>
<circle cx="276.9" cy="323.0" r="1.6" fill="#7d54d6"/>
<circle cx="187.5" cy="361.6" r="1.6" fill="#f9af94"/>
<circle cx="277.2" cy="390.5" r="1.6" fill="#7d54d6"/>
<circle cx="159.4" cy="296.5" r="1.6" fill="#7d54d6"/>
<circle cx="84.7" cy="320.4" r="1.6" fill="#92cff4"/>
<circle cx="260.2" cy="307.9" r="1.6" fill="#f2ec6c"/>
<circle cx="307.0" cy="309.0" r="1.6" fill="#7d54d6"/>
<circle cx="84.6" cy="303.6" r="1.6" fill="#7d54d6"/>
<circle cx="95.6" cy="389.2" r="1.6" fill="#f9af94"/>
<circle cx="245.0" cy="337.6" r="1.6" fill="#f9af94"/>
<circle cx="101.1" cy="300.1" r="1.6" fill="#92cff4"/>
<circle cx="161.6" cy="318.4" r="1.6" fill="#f2ec6c"/>
<circle cx="162.7" cy="292.8" r="1.6" fill="#f2ec6c"/>
<circle cx="185.6" cy="375.5" r="1.6" fill="#f9af94"/>
<circle cx="181.9" cy="295.2" r="1.6" fill="#f9af94"/>
<circle cx="252.4" cy="391.2" r="1.6" fill="#f9af94"/>
<circle cx="99.5" cy="303.1" r="1.6" fill="#92cff4"/>
<circle cx="195.2" cy="383.6" r="1.6" fill="#f2ec6c"/>
<circle cx="67.5" cy="305.9" r="1.6" fill="#92cff4"/>
<circle cx="49.9" cy="303.6" r="1.6" fill="#92cff4"/>
<circle cx="218.1" cy="333.4" r="1.6" fill="#f9af94"/>
<circle cx="71.1" cy="337.1" r="1.6" fill="#92cff4"/>
<circle cx="189.9" cy="315.0" r="1.6" fill="#f9af94"/>
<circle cx="155.0" cy="299.7" r="1.6" fill="#f2ec6c"/>
<circle cx="88.9" cy="350.1" r="1.6" fill="#f9af94"/>
<circle cx="305.8" cy="397.9" r="1.6" fill="#7d54d6"/>
<circle cx="30.2" cy="274.7" r="1.6" fill="#7d54d6"/>
<circle cx="160.6" cy="354.7" r="1.6" fill="#f9af94"/>
<circle cx="267.1" cy="321.0" r="1.6" fill="#f2ec6c"/>
<circle cx="121.6" cy="368.8" r="1.6" fill="#f2ec6c"/>
<circle cx="95.6" cy="332.0" r="1.6" fill="#92cff4"/>
<circle cx="156.1" cy="327.4" r="1.6" fill="#7d54d6"/>
<circle cx="87.9" cy="367.4" r="1.6" fill="#92cff4"/>
<circle cx="137.0" cy="351.3" r="1.6" fill="#f9af94"/>
<circle cx="155.1" cy="320.3" r="1.6" fill="#7d54d6"/>
<circle cx="305.5" cy="394.3" r="1.6" fill="#7d54d6"/>
<circle cx="189.6" cy="324.2" r="1.6" fill="#f2ec6c"/>
<circle cx="152.2" cy="332.0" r="1.6" fill="#f9af94"/>
<circle cx="248.6" cy="356.1" r="1.6" fill="#f9af94"/>
<circle cx="126.3" cy="317.0" r="1.6" fill="#7d54d6"/>
<circle cx="87.6" cy="321.0" r="1.6" fill="#f2ec6c"/>
<circle cx="98.0" cy="437.0" r="1.6" fill="#7d54d6"/>
<circle cx="237.6" cy="324.0" r="1.6" fill="#f2ec6c"/>
<circle cx="147.5" cy="300.4" r="1.6" fill="#7d54d6"/>
<circle cx="205.6" cy="296.8" r="1.6" fill="#f9af94"/>
<circle cx="108.4" cy="386.1" r="1.6" fill="#f2ec6c"/>
<circle cx="283.7" cy="381.4" r="1.6" fill="#7d54d6"/>
<circle cx="184.3" cy="357.5" r="1.6" fill="#f9af94"/>
<circle cx="92.4" cy="318.6" r="1.6" fill="#f2ec6c"/>
<circle cx="135.0" cy="278.0" r="1.6" fill="#7d54d6"/>
<circle cx="169.2" cy="297.2" r="1.6" fill="#f2ec6c"/>
<circle cx="92.0" cy="319.4" r="1.6" fill="#92cff4"/>
<circle cx="148.2" cy="302.9" r="1.6" fill="#7d54d6"/>
<circle cx="253.5" cy="331.4" r="1.6" fill="#f2ec6c"/>
<circle cx="180.8" cy="282.5" r="1.6" fill="#f2ec6c"/>
<circle cx="295.0" cy="373.0" r="1.6" fill="#f9af94"/>
<circle cx="112.9" cy="316.3" r="1.6" fill="#7d54d6"/>
<circle cx="303.7" cy="401.6" r="1.6" fill="#7d54d6"/>
<circle cx="172.0" cy="282.7" r="1.6" fill="#f2ec6c"/>
<circle cx="184.8" cy="304.0" r="1.6" fill="#f2ec6c"/>
<circle cx="89.2" cy="371.5" r="1.6" fill="#7d54d6"/>
<circle cx="91.9" cy="391.0" r="1.6" fill="#92cff4"/>
<circle cx="119.4" cy="317.9" r="1.6" fill="#7d54d6"/>
<circle cx="225.2" cy="338.2" r="1.6" fill="#7d54d6"/>
<circle cx="88.0" cy="341.6" r="1.6" fill="#f9af94"/>
<circle cx="172.3" cy="297.6" r="1.6" fill="#f9af94"/>
<circle cx="84.5" cy="350.1" r="1.6" fill="#92cff4"/>
<circle cx="273.0" cy="353.5" r="1.6" fill="#f2ec6c"/>
<circle cx="251.4" cy="345.4" r="1.6" fill="#f9af94"/>
<circle cx="238.6" cy="338.8" r="1.6" fill="#f9af94"/>
<circle cx="84.9" cy="342.9" r="1.6" fill="#f2ec6c"/>
<circle cx="90.9" cy="317.3" r="1.6" fill="#f2ec6c"/>
<circle cx="241.4" cy="350.6" r="1.6" fill="#f9af94"/>
<circle cx="142.2" cy="306.8" r="1.6" fill="#7d54d6"/>
<circle cx="255.9" cy="335.1" r="1.6" fill="#f2ec6c"/>
<circle cx="72.4" cy="307.4" r="1.6" fill="#92cff4"/>
<circle cx="83.4" cy="352.4" r="1.6" fill="#92cff4"/>
<circle cx="174.7" cy="379.5" r="1.6" fill="#f9af94"/>
<circle cx="244.9" cy="318.2" r="1.6" fill="#f2ec6c"/>
<circle cx="244.0" cy="327.8" r="1.6" fill="#f9af94"/>
<circle cx="94.5" cy="331.1" r="1.6" fill="#92cff4"/>
<circle cx="105.6" cy="365.8" r="1.6" fill="#f2ec6c"/>
<circle cx="80.1" cy="343.2" r="1.6" fill="#92cff4"/>
<circle cx="181.3" cy="280.9" r="1.6" fill="#f2ec6c"/>
<circle cx="235.2" cy="349.5" r="1.6" fill="#f2ec6c"/>
<circle cx="80.4" cy="327.2" r="1.6" fill="#f2ec6c"/>
<circle cx="301.7" cy="404.3" r="1.6" fill="#7d54d6"/>
<circle cx="171.9" cy="303.3" r="1.6" fill="#f9af94"/>
<circle cx="92.9" cy="306.1" r="1.6" fill="#92cff4"/>
<circle cx="68.0" cy="291.9" r="1.6" fill="#92cff4"/>
<circle cx="159.9" cy="308.5" r="1.6" fill="#f2ec6c"/>
<circle cx="176.5" cy="311.8" r="1.6" fill="#7d54d6"/>
<circle cx="108.0" cy="407.0" r="1.6" fill="#92cff4"/>
<circle cx="191.3" cy="310.1" r="1.6" fill="#f9af94"/>
<circle cx="184.2" cy="319.8" r="1.6" fill="#f9af94"/>
<circle cx="119.1" cy="319.8" r="1.6" fill="#7d54d6"/>
<circle cx="302.0" cy="361.0" r="1.6" fill="#f2ec6c"/>
<circle cx="224.1" cy="351.6" r="1.6" fill="#f9af94"/>
<circle cx="184.2" cy="322.2" r="1.6" fill="#f2ec6c"/>
<circle cx="106.5" cy="392.7" r="1.6" fill="#f9af94"/>
<circle cx="164.3" cy="319.5" r="1.6" fill="#f2ec6c"/>
<circle cx="149.9" cy="324.1" r="1.6" fill="#7d54d6"/>
<circle cx="275.3" cy="318.4" r="1.6" fill="#7d54d6"/>
<circle cx="145.1" cy="329.0" r="1.6" fill="#f2ec6c"/>
<circle cx="159.3" cy="317.3" r="1.6" fill="#7d54d6"/>
<circle cx="108.1" cy="386.5" r="1.6" fill="#92cff4"/>
<circle cx="249.2" cy="316.5" r="1.6" fill="#f2ec6c"/>
<circle cx="176.6" cy="275.6" r="1.6" fill="#f2ec6c"/>
<circle cx="245.1" cy="336.5" r="1.6" fill="#f9af94"/>
<circle cx="182.9" cy="353.7" r="1.6" fill="#f9af94"/>
<circle cx="37.9" cy="285.2" r="1.6" fill="#f9af94"/>
<circle cx="172.4" cy="308.5" r="1.6" fill="#f9af94"/>
<circle cx="82.5" cy="308.2" r="1.6" fill="#92cff4"/>
<circle cx="11.9" cy="297.0" r="1.6" fill="#7d54d6"/>
<circle cx="272.0" cy="392.7" r="1.6" fill="#f9af94"/>
<circle cx="163.8" cy="323.2" r="1.6" fill="#f2ec6c"/>
<circle cx="169.2" cy="322.0" r="1.6" fill="#f2ec6c"/>
<circle cx="73.3" cy="332.1" r="1.6" fill="#7d54d6"/>
<circle cx="67.5" cy="330.7" r="1.6" fill="#92cff4"/>
<circle cx="258.4" cy="384.0" r="1.6" fill="#f2ec6c"/>
<circle cx="64.9" cy="328.1" r="1.6" fill="#f9af94"/>
<circle cx="102.6" cy="363.2" r="1.6" fill="#f2ec6c"/>
<circle cx="103.5" cy="307.2" r="1.6" fill="#92cff4"/>
<circle cx="107.0" cy="431.0" r="1.6" fill="#f2ec6c"/>
<circle cx="248.6" cy="359.1" r="1.6" fill="#f9af94"/>
<circle cx="93.3" cy="395.7" r="1.6" fill="#f2ec6c"/>
<circle cx="137.4" cy="456.0" r="1.6" fill="#7d54d6"/>
<circle cx="95.1" cy="319.7" r="1.6" fill="#92cff4"/>
<circle cx="55.6" cy="306.0" r="1.6" fill="#92cff4"/>
<circle cx="297.7" cy="411.1" r="1.6" fill="#7d54d6"/>
<circle cx="149.6" cy="319.7" r="1.6" fill="#7d54d6"/>
<circle cx="239.5" cy="328.8" r="1.6" fill="#f2ec6c"/>
<circle cx="173.2" cy="322.9" r="1.6" fill="#7d54d6"/>
<circle cx="22.7" cy="281.9" r="1.6" fill="#f9af94"/>
<circle cx="114.2" cy="361.4" r="1.6" fill="#f9af94"/>
<circle cx="89.3" cy="307.8" r="1.6" fill="#f9af94"/>
<circle cx="300.0" cy="298.0" r="1.6" fill="#7d54d6"/>
<circle cx="264.1" cy="363.7" r="1.6" fill="#f9af94"/>
<circle cx="138.1" cy="334.5" r="1.6" fill="#7d54d6"/>
<circle cx="164.6" cy="317.0" r="1.6" fill="#f9af94"/>
<circle cx="102.5" cy="378.2" r="1.6" fill="#92cff4"/>
<circle cx="244.6" cy="343.2" r="1.6" fill="#f9af94"/>
<circle cx="72.3" cy="335.9" r="1.6" fill="#92cff4"/>
<circle cx="183.7" cy="302.3" r="1.6" fill="#f9af94"/>
<circle cx="71.5" cy="335.5" r="1.6" fill="#92cff4"/>
<circle cx="105.7" cy="367.1" r="1.6" fill="#92cff4"/>
<circle cx="169.7" cy="287.2" r="1.6" fill="#f2ec6c"/>
<circle cx="78.4" cy="336.0" r="1.6" fill="#f2ec6c"/>
<circle cx="252.9" cy="388.3" r="1.6" fill="#f9af94"/>
<circle cx="146.0" cy="275.0" r="1.6" fill="#7d54d6"/>
<circle cx="101.7" cy="376.5" r="1.6" fill="#7d54d6"/>
<circle cx="100.8" cy="370.9" r="1.6" fill="#92cff4"/>
<circle cx="106.9" cy="393.5" r="1.6" fill="#f2ec6c"/>
<circle cx="123.9" cy="308.7" r="1.6" fill="#7d54d6"/>
<circle cx="148.6" cy="295.7" r="1.6" fill="#7d54d6"/>
<circle cx="14.3" cy="282.2" r="1.6" fill="#f9af94"/>
<circle cx="52.6" cy="308.3" r="1.6" fill="#92cff4"/>
<circle cx="97.0" cy="337.0" r="1.6" fill="#92cff4"/>
<circle cx="87.0" cy="332.0" r="1.6" fill="#f2ec6c"/>
<circle cx="103.5" cy="386.2" r="1.6" fill="#f2ec6c"/>
<circle cx="79.9" cy="301.5" r="1.6" fill="#f9af94"/>
<circle cx="165.9" cy="286.5" r="1.6" fill="#f9af94"/>
<circle cx="46.1" cy="310.8" r="1.6" fill="#92cff4"/>
<circle cx="175.0" cy="344.0" r="1.6" fill="#f2ec6c"/>
<circle cx="243.7" cy="332.0" r="1.6" fill="#7d54d6"/>
<circle cx="160.9" cy="309.1" r="1.6" fill="#f2ec6c"/>
<circle cx="69.8" cy="325.4" r="1.6" fill="#7d54d6"/>
<circle cx="250.1" cy="324.9" r="1.6" fill="#f2ec6c"/>
<circle cx="27.8" cy="290.0" r="1.6" fill="#92cff4"/>
<circle cx="54.5" cy="315.9" r="1.6" fill="#f9af94"/>
<circle cx="248.4" cy="323.5" r="1.6" fill="#f2ec6c"/>
<circle cx="166.5" cy="299.9" r="1.6" fill="#f2ec6c"/>
<circle cx="77.7" cy="342.5" r="1.6" fill="#f2ec6c"/>
<circle cx="189.1" cy="324.8" r="1.6" fill="#f9af94"/>
<circle cx="154.8" cy="298.5" r="1.6" fill="#f2ec6c"/>
<circle cx="241.4" cy="331.3" r="1.6" fill="#7d54d6"/>
<circle cx="258.1" cy="325.7" r="1.6" fill="#7d54d6"/>
<circle cx="177.8" cy="319.3" r="1.6" fill="#f2ec6c"/>
<circle cx="139.0" cy="289.0" r="1.6" fill="#f9af94"/>
<circle cx="18.8" cy="288.7" r="1.6" fill="#92cff4"/>
<circle cx="175.6" cy="324.0" r="1.6" fill="#7d54d6"/>
<circle cx="247.8" cy="357.4" r="1.6" fill="#7d54d6"/>
<circle cx="211.6" cy="341.6" r="1.6" fill="#f9af94"/>
<circle cx="174.8" cy="385.2" r="1.6" fill="#7d54d6"/>
<circle cx="261.4" cy="392.5" r="1.6" fill="#f9af94"/>
<circle cx="172.3" cy="307.9" r="1.6" fill="#f2ec6c"/>
<circle cx="248.5" cy="328.7" r="1.6" fill="#f2ec6c"/>
<circle cx="280.2" cy="391.2" r="1.6" fill="#7d54d6"/>
<circle cx="224.2" cy="321.4" r="1.6" fill="#f9af94"/>
<circle cx="55.0" cy="311.7" r="1.6" fill="#92cff4"/>
<circle cx="257.6" cy="342.3" r="1.6" fill="#f2ec6c"/>
<circle cx="20.5" cy="278.7" r="1.6" fill="#f9af94"/>
<circle cx="111.2" cy="311.1" r="1.6" fill="#7d54d6"/>
<circle cx="168.6" cy="312.2" r="1.6" fill="#f9af94"/>
<circle cx="250.7" cy="349.6" r="1.6" fill="#f9af94"/>
<circle cx="167.2" cy="351.0" r="1.6" fill="#7d54d6"/>
<circle cx="82.7" cy="325.6" r="1.6" fill="#f2ec6c"/>
<circle cx="143.4" cy="353.4" r="1.6" fill="#7d54d6"/>
<circle cx="173.6" cy="310.5" r="1.6" fill="#f9af94"/>
<circle cx="158.8" cy="354.3" r="1.6" fill="#7d54d6"/>
<circle cx="241.8" cy="333.8" r="1.6" fill="#f2ec6c"/>
<circle cx="101.7" cy="363.6" r="1.6" fill="#92cff4"/>
<circle cx="301.5" cy="397.7" r="1.6" fill="#7d54d6"/>
<circle cx="92.4" cy="392.1" r="1.6" fill="#7d54d6"/>
<circle cx="23.9" cy="278.7" r="1.6" fill="#f2ec6c"/>
<circle cx="208.3" cy="336.0" r="1.6" fill="#f9af94"/>
<circle cx="22.3" cy="285.0" r="1.6" fill="#f9af94"/>
<circle cx="80.8" cy="331.7" r="1.6" fill="#f2ec6c"/>
<circle cx="90.5" cy="363.8" r="1.6" fill="#f9af94"/>
<circle cx="236.8" cy="329.2" r="1.6" fill="#7d54d6"/>
<circle cx="285.1" cy="383.7" r="1.6" fill="#7d54d6"/>
<circle cx="187.9" cy="322.9" r="1.6" fill="#f9af94"/>
<circle cx="175.2" cy="357.6" r="1.6" fill="#7d54d6"/>
<circle cx="17.5" cy="280.2" r="1.6" fill="#92cff4"/>
<circle cx="88.6" cy="323.2" r="1.6" fill="#f2ec6c"/>
<circle cx="273.1" cy="318.3" r="1.6" fill="#7d54d6"/>
<circle cx="237.1" cy="350.3" r="1.6" fill="#f9af94"/>
<circle cx="306.0" cy="373.0" r="1.6" fill="#7d54d6"/>
<circle cx="178.2" cy="303.8" r="1.6" fill="#7d54d6"/>
<circle cx="151.1" cy="320.0" r="1.6" fill="#7d54d6"/>
<circle cx="243.7" cy="337.3" r="1.6" fill="#f9af94"/>
<circle cx="135.0" cy="337.0" r="1.6" fill="#f2ec6c"/>
<circle cx="84.2" cy="327.2" r="1.6" fill="#92cff4"/>
<circle cx="95.8" cy="329.0" r="1.6" fill="#92cff4"/>
<circle cx="178.4" cy="359.9" r="1.6" fill="#f9af94"/>
<circle cx="108.0" cy="285.0" r="1.6" fill="#7d54d6"/>
<circle cx="136.5" cy="334.0" r="1.6" fill="#7d54d6"/>
<circle cx="153.3" cy="323.9" r="1.6" fill="#7d54d6"/>
<circle cx="192.4" cy="308.6" r="1.6" fill="#f9af94"/>
</g>
</g>
<g id="legend" class="dj" font-size="6.72">
<rect x="40.7" y="468.3" width="234.5" height="16" fill="#fff"/>
<circle cx="49.9" cy="476" r="1.6" fill="#f2ec6c" stroke="#000" stroke-opacity="0.35" stroke-width="0.3"/>
<text class="dj" x="60.1" y="478.7">GenDivRange</text>
<circle cx="118.9" cy="476" r="1.6" fill="#f9af94" stroke="#000" stroke-opacity="0.35" stroke-width="0.3"/>
<text class="dj" x="129.5" y="478.7">DeKort</text>
<circle cx="164.8" cy="476" r="1.6" fill="#92cff4" stroke="#000" stroke-opacity="0.35" stroke-width="0.3"/>
<text class="dj" x="175.0" y="478.7">MacroPopGen</text>
<circle cx="235.3" cy="476" r="1.6" fill="#7d54d6" stroke="#000" stroke-opacity="0.35" stroke-width="0.3"/>
<text class="dj" x="245.2" y="478.7">VarVer</text>
</g>
</svg></body></html>
